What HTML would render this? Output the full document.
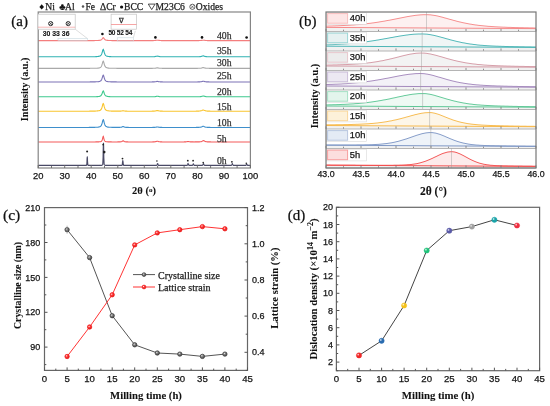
<!DOCTYPE html>
<html><head><meta charset="utf-8"><style>html,body{margin:0;padding:0;background:#fff;width:550px;height:406px;overflow:hidden}svg{display:block;will-change:transform}</style></head>
<body><svg width="550" height="406" viewBox="0 0 550 406">
<rect width="550" height="406" fill="#fff"/>
<path d="M38.2,40.6 L38.7,40.6 L39.2,40.6 L39.7,40.6 L40.2,40.6 L40.7,40.6 L41.2,40.6 L41.7,40.6 L42.2,40.6 L42.7,40.6 L43.2,40.6 L43.7,40.6 L44.2,40.6 L44.7,40.6 L45.2,40.6 L45.7,40.6 L46.2,40.6 L46.7,40.6 L47.2,40.6 L47.7,40.6 L48.2,40.6 L48.7,40.6 L49.2,40.6 L49.7,40.6 L50.2,40.6 L50.7,40.6 L51.2,40.6 L51.7,40.6 L52.2,40.6 L52.7,40.6 L53.2,40.6 L53.7,40.6 L54.2,40.6 L54.7,40.6 L55.2,40.6 L55.7,40.6 L56.2,40.6 L56.7,40.6 L57.2,40.6 L57.7,40.6 L58.2,40.6 L58.7,40.6 L59.2,40.6 L59.7,40.6 L60.2,40.6 L60.7,40.6 L61.2,40.6 L61.7,40.6 L62.2,40.6 L62.7,40.6 L63.2,40.6 L63.7,40.6 L64.2,40.6 L64.7,40.6 L65.2,40.6 L65.7,40.6 L66.2,40.6 L66.7,40.6 L67.2,40.6 L67.7,40.6 L68.2,40.6 L68.7,40.6 L69.2,40.6 L69.7,40.6 L70.2,40.6 L70.7,40.6 L71.2,40.6 L71.7,40.6 L72.2,40.6 L72.7,40.6 L73.2,40.6 L73.7,40.6 L74.2,40.6 L74.7,40.6 L75.2,40.6 L75.7,40.6 L76.2,40.6 L76.7,40.6 L77.2,40.6 L77.7,40.6 L78.2,40.6 L78.7,40.6 L79.2,40.6 L79.7,40.6 L80.2,40.6 L80.7,40.6 L81.2,40.6 L81.7,40.6 L82.2,40.6 L82.7,40.6 L83.2,40.6 L83.7,40.6 L84.2,40.6 L84.7,40.6 L85.2,40.6 L85.7,40.6 L86.2,40.6 L86.7,40.6 L87.2,40.6 L87.7,40.6 L88.2,40.6 L88.7,40.6 L89.2,40.6 L89.7,40.6 L90.2,40.6 L90.7,40.6 L91.2,40.6 L91.8,40.6 L92.3,40.6 L92.8,40.6 L93.3,40.6 L93.8,40.6 L94.3,40.6 L94.8,40.5 L95.3,40.5 L95.8,40.5 L96.3,40.5 L96.8,40.5 L97.3,40.5 L97.8,40.5 L98.3,40.5 L98.8,40.4 L99.3,40.4 L99.8,40.3 L100.3,40.2 L100.8,40.1 L101.3,39.8 L101.8,39.4 L102.3,38.7 L102.8,37.9 L103.3,37.6 L103.8,38.1 L104.3,38.9 L104.8,39.5 L105.3,39.9 L105.8,40.1 L106.3,40.3 L106.8,40.3 L107.3,40.4 L107.8,40.4 L108.3,40.5 L108.8,40.5 L109.3,40.5 L109.8,40.5 L110.3,40.5 L110.8,40.5 L111.3,40.5 L111.8,40.6 L112.3,40.6 L112.8,40.6 L113.3,40.6 L113.8,40.6 L114.3,40.6 L114.8,40.6 L115.3,40.6 L115.8,40.6 L116.3,40.6 L116.8,40.6 L117.3,40.6 L117.8,40.6 L118.3,40.6 L118.8,40.6 L119.3,40.6 L119.8,40.6 L120.3,40.6 L120.8,40.6 L121.3,40.6 L121.8,40.6 L122.3,40.6 L122.8,40.6 L123.3,40.6 L123.8,40.6 L124.3,40.6 L124.8,40.6 L125.3,40.6 L125.8,40.6 L126.3,40.6 L126.8,40.6 L127.3,40.6 L127.8,40.6 L128.3,40.6 L128.8,40.6 L129.3,40.6 L129.8,40.6 L130.3,40.6 L130.8,40.6 L131.3,40.6 L131.8,40.6 L132.3,40.6 L132.8,40.6 L133.3,40.6 L133.8,40.6 L134.3,40.6 L134.8,40.6 L135.3,40.6 L135.8,40.6 L136.3,40.6 L136.8,40.6 L137.3,40.6 L137.8,40.6 L138.3,40.6 L138.8,40.6 L139.3,40.6 L139.8,40.6 L140.3,40.6 L140.8,40.6 L141.3,40.6 L141.8,40.6 L142.3,40.6 L142.8,40.6 L143.3,40.6 L143.8,40.6 L144.3,40.6 L144.8,40.6 L145.3,40.6 L145.8,40.6 L146.3,40.6 L146.8,40.6 L147.3,40.6 L147.8,40.6 L148.3,40.6 L148.8,40.6 L149.3,40.6 L149.8,40.6 L150.3,40.6 L150.8,40.6 L151.3,40.6 L151.8,40.6 L152.3,40.6 L152.8,40.6 L153.3,40.6 L153.8,40.5 L154.3,40.5 L154.8,40.5 L155.3,40.4 L155.8,40.4 L156.3,40.3 L156.8,40.2 L157.3,40.2 L157.8,40.2 L158.3,40.3 L158.8,40.4 L159.3,40.4 L159.8,40.5 L160.3,40.5 L160.8,40.5 L161.3,40.6 L161.8,40.6 L162.3,40.6 L162.8,40.6 L163.3,40.6 L163.8,40.6 L164.3,40.6 L164.8,40.6 L165.3,40.6 L165.8,40.6 L166.3,40.6 L166.8,40.6 L167.3,40.6 L167.8,40.6 L168.3,40.6 L168.8,40.6 L169.3,40.6 L169.8,40.6 L170.3,40.6 L170.8,40.6 L171.3,40.6 L171.8,40.6 L172.3,40.6 L172.8,40.6 L173.3,40.6 L173.8,40.6 L174.3,40.6 L174.8,40.6 L175.3,40.6 L175.8,40.6 L176.3,40.6 L176.8,40.6 L177.3,40.6 L177.8,40.6 L178.3,40.6 L178.8,40.6 L179.3,40.6 L179.8,40.6 L180.3,40.6 L180.8,40.6 L181.3,40.6 L181.8,40.6 L182.3,40.6 L182.8,40.6 L183.3,40.6 L183.8,40.6 L184.3,40.6 L184.8,40.6 L185.3,40.6 L185.8,40.6 L186.3,40.6 L186.8,40.6 L187.3,40.6 L187.8,40.6 L188.3,40.6 L188.8,40.6 L189.3,40.6 L189.8,40.6 L190.3,40.6 L190.8,40.6 L191.3,40.6 L191.8,40.6 L192.3,40.6 L192.8,40.6 L193.3,40.6 L193.8,40.6 L194.3,40.6 L194.8,40.6 L195.3,40.6 L195.8,40.6 L196.3,40.6 L196.8,40.6 L197.4,40.6 L197.9,40.6 L198.4,40.6 L198.9,40.6 L199.4,40.5 L199.9,40.5 L200.4,40.5 L200.9,40.5 L201.4,40.4 L201.9,40.4 L202.4,40.3 L202.9,40.2 L203.4,40.2 L203.9,40.3 L204.4,40.3 L204.9,40.4 L205.4,40.5 L205.9,40.5 L206.4,40.5 L206.9,40.5 L207.4,40.6 L207.9,40.6 L208.4,40.6 L208.9,40.6 L209.4,40.6 L209.9,40.6 L210.4,40.6 L210.9,40.6 L211.4,40.6 L211.9,40.6 L212.4,40.6 L212.9,40.6 L213.4,40.6 L213.9,40.6 L214.4,40.6 L214.9,40.6 L215.4,40.6 L215.9,40.6 L216.4,40.6 L216.9,40.6 L217.4,40.6 L217.9,40.6 L218.4,40.6 L218.9,40.6 L219.4,40.6 L219.9,40.6 L220.4,40.6 L220.9,40.6 L221.4,40.6 L221.9,40.6 L222.4,40.6 L222.9,40.6 L223.4,40.6 L223.9,40.6 L224.4,40.6 L224.9,40.6 L225.4,40.6 L225.9,40.6 L226.4,40.6 L226.9,40.6 L227.4,40.6 L227.9,40.6 L228.4,40.6 L228.9,40.6 L229.4,40.6 L229.9,40.6 L230.4,40.6 L230.9,40.6 L231.4,40.6 L231.9,40.6 L232.4,40.6 L232.9,40.6 L233.4,40.6 L233.9,40.6 L234.4,40.6 L234.9,40.6 L235.4,40.6 L235.9,40.6 L236.4,40.6 L236.9,40.6 L237.4,40.6 L237.9,40.6 L238.4,40.6 L238.9,40.6 L239.4,40.6 L239.9,40.6 L240.4,40.6 L240.9,40.6 L241.4,40.6 L241.9,40.6 L242.4,40.6 L242.9,40.6 L243.4,40.6 L243.9,40.6 L244.4,40.6 L244.9,40.6 L245.4,40.6 L245.9,40.6 L246.4,40.6 L246.9,40.6 L247.4,40.6 L247.9,40.6 L248.4,40.6 L248.9,40.6 L249.4,40.6 L249.9,40.6 L250.4,40.6" fill="none" stroke="#f47e7e" stroke-width="1.1" stroke-linejoin="round"/>
<text x="217" y="39.4" style="font-family:'Liberation Serif',serif;font-size:9.7px;font-weight:normal" text-anchor="start" fill="#333" stroke="#333" stroke-width="0.25" >40h</text>
<path d="M38.2,56.8 L38.7,56.8 L39.2,56.8 L39.7,56.8 L40.2,56.8 L40.7,56.8 L41.2,56.8 L41.7,56.8 L42.2,56.8 L42.7,56.8 L43.2,56.8 L43.7,56.8 L44.2,56.8 L44.7,56.8 L45.2,56.8 L45.7,56.8 L46.2,56.8 L46.7,56.8 L47.2,56.8 L47.7,56.8 L48.2,56.8 L48.7,56.8 L49.2,56.8 L49.7,56.8 L50.2,56.8 L50.7,56.8 L51.2,56.8 L51.7,56.8 L52.2,56.8 L52.7,56.8 L53.2,56.8 L53.7,56.8 L54.2,56.8 L54.7,56.8 L55.2,56.8 L55.7,56.8 L56.2,56.8 L56.7,56.8 L57.2,56.8 L57.7,56.8 L58.2,56.8 L58.7,56.8 L59.2,56.8 L59.7,56.8 L60.2,56.8 L60.7,56.8 L61.2,56.8 L61.7,56.8 L62.2,56.8 L62.7,56.8 L63.2,56.8 L63.7,56.8 L64.2,56.8 L64.7,56.8 L65.2,56.8 L65.7,56.8 L66.2,56.8 L66.7,56.8 L67.2,56.8 L67.7,56.8 L68.2,56.8 L68.7,56.8 L69.2,56.8 L69.7,56.8 L70.2,56.8 L70.7,56.8 L71.2,56.8 L71.7,56.8 L72.2,56.8 L72.7,56.8 L73.2,56.8 L73.7,56.8 L74.2,56.8 L74.7,56.8 L75.2,56.8 L75.7,56.8 L76.2,56.8 L76.7,56.8 L77.2,56.8 L77.7,56.8 L78.2,56.8 L78.7,56.8 L79.2,56.8 L79.7,56.8 L80.2,56.8 L80.7,56.8 L81.2,56.8 L81.7,56.8 L82.2,56.8 L82.7,56.8 L83.2,56.8 L83.7,56.8 L84.2,56.8 L84.7,56.8 L85.2,56.8 L85.7,56.8 L86.2,56.8 L86.7,56.8 L87.2,56.8 L87.7,56.8 L88.2,56.8 L88.7,56.8 L89.2,56.8 L89.7,56.7 L90.2,56.7 L90.7,56.7 L91.2,56.7 L91.8,56.7 L92.3,56.7 L92.8,56.7 L93.3,56.7 L93.8,56.7 L94.3,56.7 L94.8,56.7 L95.3,56.7 L95.8,56.6 L96.3,56.6 L96.8,56.6 L97.3,56.5 L97.8,56.5 L98.3,56.4 L98.8,56.4 L99.3,56.3 L99.8,56.1 L100.3,55.9 L100.8,55.5 L101.3,54.8 L101.8,53.7 L102.3,52 L102.8,50 L103.3,49.2 L103.8,50.6 L104.3,52.6 L104.8,54.1 L105.3,55.1 L105.8,55.6 L106.3,55.9 L106.8,56.2 L107.3,56.3 L107.8,56.4 L108.3,56.5 L108.8,56.5 L109.3,56.6 L109.8,56.6 L110.3,56.6 L110.8,56.6 L111.3,56.7 L111.8,56.7 L112.3,56.7 L112.8,56.7 L113.3,56.7 L113.8,56.7 L114.3,56.7 L114.8,56.7 L115.3,56.7 L115.8,56.7 L116.3,56.7 L116.8,56.7 L117.3,56.8 L117.8,56.8 L118.3,56.8 L118.8,56.8 L119.3,56.8 L119.8,56.8 L120.3,56.8 L120.8,56.8 L121.3,56.8 L121.8,56.8 L122.3,56.8 L122.8,56.8 L123.3,56.8 L123.8,56.8 L124.3,56.8 L124.8,56.8 L125.3,56.8 L125.8,56.8 L126.3,56.8 L126.8,56.8 L127.3,56.8 L127.8,56.8 L128.3,56.8 L128.8,56.8 L129.3,56.8 L129.8,56.8 L130.3,56.8 L130.8,56.8 L131.3,56.8 L131.8,56.8 L132.3,56.8 L132.8,56.8 L133.3,56.8 L133.8,56.8 L134.3,56.8 L134.8,56.8 L135.3,56.8 L135.8,56.8 L136.3,56.8 L136.8,56.8 L137.3,56.8 L137.8,56.8 L138.3,56.8 L138.8,56.8 L139.3,56.8 L139.8,56.8 L140.3,56.8 L140.8,56.8 L141.3,56.8 L141.8,56.8 L142.3,56.8 L142.8,56.8 L143.3,56.8 L143.8,56.8 L144.3,56.8 L144.8,56.8 L145.3,56.8 L145.8,56.8 L146.3,56.8 L146.8,56.8 L147.3,56.8 L147.8,56.8 L148.3,56.8 L148.8,56.8 L149.3,56.8 L149.8,56.8 L150.3,56.8 L150.8,56.8 L151.3,56.8 L151.8,56.7 L152.3,56.7 L152.8,56.7 L153.3,56.7 L153.8,56.7 L154.3,56.7 L154.8,56.6 L155.3,56.5 L155.8,56.4 L156.3,56.3 L156.8,56.2 L157.3,56.1 L157.8,56.2 L158.3,56.3 L158.8,56.4 L159.3,56.5 L159.8,56.6 L160.3,56.7 L160.8,56.7 L161.3,56.7 L161.8,56.7 L162.3,56.7 L162.8,56.8 L163.3,56.8 L163.8,56.8 L164.3,56.8 L164.8,56.8 L165.3,56.8 L165.8,56.8 L166.3,56.8 L166.8,56.8 L167.3,56.8 L167.8,56.8 L168.3,56.8 L168.8,56.8 L169.3,56.8 L169.8,56.8 L170.3,56.8 L170.8,56.8 L171.3,56.8 L171.8,56.8 L172.3,56.8 L172.8,56.8 L173.3,56.8 L173.8,56.8 L174.3,56.8 L174.8,56.8 L175.3,56.8 L175.8,56.8 L176.3,56.8 L176.8,56.8 L177.3,56.8 L177.8,56.8 L178.3,56.8 L178.8,56.8 L179.3,56.8 L179.8,56.8 L180.3,56.8 L180.8,56.8 L181.3,56.8 L181.8,56.8 L182.3,56.8 L182.8,56.8 L183.3,56.8 L183.8,56.8 L184.3,56.8 L184.8,56.8 L185.3,56.8 L185.8,56.8 L186.3,56.8 L186.8,56.8 L187.3,56.8 L187.8,56.8 L188.3,56.8 L188.8,56.8 L189.3,56.8 L189.8,56.8 L190.3,56.8 L190.8,56.8 L191.3,56.8 L191.8,56.8 L192.3,56.8 L192.8,56.8 L193.3,56.8 L193.8,56.8 L194.3,56.8 L194.8,56.8 L195.3,56.8 L195.8,56.8 L196.3,56.8 L196.8,56.8 L197.4,56.7 L197.9,56.7 L198.4,56.7 L198.9,56.7 L199.4,56.7 L199.9,56.6 L200.4,56.6 L200.9,56.5 L201.4,56.4 L201.9,56.3 L202.4,56.1 L202.9,55.9 L203.4,55.9 L203.9,56 L204.4,56.2 L204.9,56.4 L205.4,56.5 L205.9,56.6 L206.4,56.6 L206.9,56.7 L207.4,56.7 L207.9,56.7 L208.4,56.7 L208.9,56.7 L209.4,56.8 L209.9,56.8 L210.4,56.8 L210.9,56.8 L211.4,56.8 L211.9,56.8 L212.4,56.8 L212.9,56.8 L213.4,56.8 L213.9,56.8 L214.4,56.8 L214.9,56.8 L215.4,56.8 L215.9,56.8 L216.4,56.8 L216.9,56.8 L217.4,56.8 L217.9,56.8 L218.4,56.8 L218.9,56.8 L219.4,56.8 L219.9,56.8 L220.4,56.8 L220.9,56.8 L221.4,56.8 L221.9,56.8 L222.4,56.8 L222.9,56.8 L223.4,56.8 L223.9,56.8 L224.4,56.8 L224.9,56.8 L225.4,56.8 L225.9,56.8 L226.4,56.8 L226.9,56.8 L227.4,56.8 L227.9,56.8 L228.4,56.8 L228.9,56.8 L229.4,56.8 L229.9,56.8 L230.4,56.8 L230.9,56.8 L231.4,56.8 L231.9,56.8 L232.4,56.8 L232.9,56.8 L233.4,56.8 L233.9,56.8 L234.4,56.8 L234.9,56.8 L235.4,56.8 L235.9,56.8 L236.4,56.8 L236.9,56.8 L237.4,56.8 L237.9,56.8 L238.4,56.8 L238.9,56.8 L239.4,56.8 L239.9,56.8 L240.4,56.8 L240.9,56.8 L241.4,56.8 L241.9,56.8 L242.4,56.8 L242.9,56.8 L243.4,56.8 L243.9,56.8 L244.4,56.8 L244.9,56.8 L245.4,56.8 L245.9,56.8 L246.4,56.8 L246.9,56.8 L247.4,56.8 L247.9,56.8 L248.4,56.8 L248.9,56.8 L249.4,56.8 L249.9,56.8 L250.4,56.8" fill="none" stroke="#30b3b3" stroke-width="1.1" stroke-linejoin="round"/>
<text x="217" y="53.6" style="font-family:'Liberation Serif',serif;font-size:9.7px;font-weight:normal" text-anchor="start" fill="#333" stroke="#333" stroke-width="0.25" >35h</text>
<path d="M38.2,68.4 L38.7,68.4 L39.2,68.4 L39.7,68.4 L40.2,68.4 L40.7,68.4 L41.2,68.4 L41.7,68.4 L42.2,68.4 L42.7,68.4 L43.2,68.4 L43.7,68.4 L44.2,68.4 L44.7,68.4 L45.2,68.4 L45.7,68.4 L46.2,68.4 L46.7,68.4 L47.2,68.4 L47.7,68.4 L48.2,68.4 L48.7,68.4 L49.2,68.4 L49.7,68.4 L50.2,68.4 L50.7,68.4 L51.2,68.4 L51.7,68.4 L52.2,68.4 L52.7,68.4 L53.2,68.4 L53.7,68.4 L54.2,68.4 L54.7,68.4 L55.2,68.4 L55.7,68.4 L56.2,68.4 L56.7,68.4 L57.2,68.4 L57.7,68.4 L58.2,68.4 L58.7,68.4 L59.2,68.4 L59.7,68.4 L60.2,68.4 L60.7,68.4 L61.2,68.4 L61.7,68.4 L62.2,68.4 L62.7,68.4 L63.2,68.4 L63.7,68.4 L64.2,68.4 L64.7,68.4 L65.2,68.4 L65.7,68.4 L66.2,68.4 L66.7,68.4 L67.2,68.4 L67.7,68.4 L68.2,68.4 L68.7,68.4 L69.2,68.4 L69.7,68.4 L70.2,68.4 L70.7,68.4 L71.2,68.4 L71.7,68.4 L72.2,68.4 L72.7,68.4 L73.2,68.4 L73.7,68.4 L74.2,68.4 L74.7,68.4 L75.2,68.4 L75.7,68.4 L76.2,68.4 L76.7,68.4 L77.2,68.4 L77.7,68.4 L78.2,68.4 L78.7,68.4 L79.2,68.4 L79.7,68.4 L80.2,68.4 L80.7,68.4 L81.2,68.4 L81.7,68.4 L82.2,68.4 L82.7,68.4 L83.2,68.4 L83.7,68.4 L84.2,68.4 L84.7,68.4 L85.2,68.4 L85.7,68.4 L86.2,68.4 L86.7,68.4 L87.2,68.4 L87.7,68.4 L88.2,68.4 L88.7,68.4 L89.2,68.4 L89.7,68.4 L90.2,68.3 L90.7,68.3 L91.2,68.3 L91.8,68.3 L92.3,68.3 L92.8,68.3 L93.3,68.3 L93.8,68.3 L94.3,68.3 L94.8,68.3 L95.3,68.3 L95.8,68.2 L96.3,68.2 L96.8,68.2 L97.3,68.2 L97.8,68.1 L98.3,68.1 L98.8,68 L99.3,67.9 L99.8,67.7 L100.3,67.5 L100.8,67.1 L101.3,66.5 L101.8,65.4 L102.3,63.7 L102.8,61.8 L103.3,61 L103.8,62.4 L104.3,64.3 L104.8,65.8 L105.3,66.7 L105.8,67.2 L106.3,67.6 L106.8,67.8 L107.3,67.9 L107.8,68 L108.3,68.1 L108.8,68.1 L109.3,68.2 L109.8,68.2 L110.3,68.2 L110.8,68.2 L111.3,68.3 L111.8,68.3 L112.3,68.3 L112.8,68.3 L113.3,68.3 L113.8,68.3 L114.3,68.3 L114.8,68.3 L115.3,68.3 L115.8,68.3 L116.3,68.3 L116.8,68.4 L117.3,68.4 L117.8,68.4 L118.3,68.4 L118.8,68.4 L119.3,68.4 L119.8,68.4 L120.3,68.4 L120.8,68.4 L121.3,68.4 L121.8,68.4 L122.3,68.4 L122.8,68.4 L123.3,68.4 L123.8,68.4 L124.3,68.4 L124.8,68.4 L125.3,68.4 L125.8,68.4 L126.3,68.4 L126.8,68.4 L127.3,68.4 L127.8,68.4 L128.3,68.4 L128.8,68.4 L129.3,68.4 L129.8,68.4 L130.3,68.4 L130.8,68.4 L131.3,68.4 L131.8,68.4 L132.3,68.4 L132.8,68.4 L133.3,68.4 L133.8,68.4 L134.3,68.4 L134.8,68.4 L135.3,68.4 L135.8,68.4 L136.3,68.4 L136.8,68.4 L137.3,68.4 L137.8,68.4 L138.3,68.4 L138.8,68.4 L139.3,68.4 L139.8,68.4 L140.3,68.4 L140.8,68.4 L141.3,68.4 L141.8,68.4 L142.3,68.4 L142.8,68.4 L143.3,68.4 L143.8,68.4 L144.3,68.4 L144.8,68.4 L145.3,68.4 L145.8,68.4 L146.3,68.4 L146.8,68.4 L147.3,68.4 L147.8,68.4 L148.3,68.4 L148.8,68.4 L149.3,68.4 L149.8,68.4 L150.3,68.4 L150.8,68.4 L151.3,68.4 L151.8,68.4 L152.3,68.4 L152.8,68.3 L153.3,68.3 L153.8,68.3 L154.3,68.3 L154.8,68.3 L155.3,68.2 L155.8,68.1 L156.3,68 L156.8,67.9 L157.3,67.9 L157.8,67.9 L158.3,68 L158.8,68.1 L159.3,68.2 L159.8,68.3 L160.3,68.3 L160.8,68.3 L161.3,68.3 L161.8,68.3 L162.3,68.4 L162.8,68.4 L163.3,68.4 L163.8,68.4 L164.3,68.4 L164.8,68.4 L165.3,68.4 L165.8,68.4 L166.3,68.4 L166.8,68.4 L167.3,68.4 L167.8,68.4 L168.3,68.4 L168.8,68.4 L169.3,68.4 L169.8,68.4 L170.3,68.4 L170.8,68.4 L171.3,68.4 L171.8,68.4 L172.3,68.4 L172.8,68.4 L173.3,68.4 L173.8,68.4 L174.3,68.4 L174.8,68.4 L175.3,68.4 L175.8,68.4 L176.3,68.4 L176.8,68.4 L177.3,68.4 L177.8,68.4 L178.3,68.4 L178.8,68.4 L179.3,68.4 L179.8,68.4 L180.3,68.4 L180.8,68.4 L181.3,68.4 L181.8,68.4 L182.3,68.4 L182.8,68.4 L183.3,68.4 L183.8,68.4 L184.3,68.4 L184.8,68.4 L185.3,68.4 L185.8,68.4 L186.3,68.4 L186.8,68.4 L187.3,68.4 L187.8,68.4 L188.3,68.4 L188.8,68.4 L189.3,68.4 L189.8,68.4 L190.3,68.4 L190.8,68.4 L191.3,68.4 L191.8,68.4 L192.3,68.4 L192.8,68.4 L193.3,68.4 L193.8,68.4 L194.3,68.4 L194.8,68.4 L195.3,68.4 L195.8,68.4 L196.3,68.4 L196.8,68.4 L197.4,68.4 L197.9,68.3 L198.4,68.3 L198.9,68.3 L199.4,68.3 L199.9,68.3 L200.4,68.2 L200.9,68.2 L201.4,68.1 L201.9,67.9 L202.4,67.8 L202.9,67.6 L203.4,67.6 L203.9,67.7 L204.4,67.9 L204.9,68 L205.4,68.1 L205.9,68.2 L206.4,68.3 L206.9,68.3 L207.4,68.3 L207.9,68.3 L208.4,68.3 L208.9,68.3 L209.4,68.4 L209.9,68.4 L210.4,68.4 L210.9,68.4 L211.4,68.4 L211.9,68.4 L212.4,68.4 L212.9,68.4 L213.4,68.4 L213.9,68.4 L214.4,68.4 L214.9,68.4 L215.4,68.4 L215.9,68.4 L216.4,68.4 L216.9,68.4 L217.4,68.4 L217.9,68.4 L218.4,68.4 L218.9,68.4 L219.4,68.4 L219.9,68.4 L220.4,68.4 L220.9,68.4 L221.4,68.4 L221.9,68.4 L222.4,68.4 L222.9,68.4 L223.4,68.4 L223.9,68.4 L224.4,68.4 L224.9,68.4 L225.4,68.4 L225.9,68.4 L226.4,68.4 L226.9,68.4 L227.4,68.4 L227.9,68.4 L228.4,68.4 L228.9,68.4 L229.4,68.4 L229.9,68.4 L230.4,68.4 L230.9,68.4 L231.4,68.4 L231.9,68.4 L232.4,68.4 L232.9,68.4 L233.4,68.4 L233.9,68.4 L234.4,68.4 L234.9,68.4 L235.4,68.4 L235.9,68.4 L236.4,68.4 L236.9,68.4 L237.4,68.4 L237.9,68.4 L238.4,68.4 L238.9,68.4 L239.4,68.4 L239.9,68.4 L240.4,68.4 L240.9,68.4 L241.4,68.4 L241.9,68.4 L242.4,68.4 L242.9,68.4 L243.4,68.4 L243.9,68.4 L244.4,68.4 L244.9,68.4 L245.4,68.4 L245.9,68.4 L246.4,68.4 L246.9,68.4 L247.4,68.4 L247.9,68.4 L248.4,68.4 L248.9,68.4 L249.4,68.4 L249.9,68.4 L250.4,68.4" fill="none" stroke="#a9a9a9" stroke-width="1.1" stroke-linejoin="round"/>
<text x="217" y="66.3" style="font-family:'Liberation Serif',serif;font-size:9.7px;font-weight:normal" text-anchor="start" fill="#333" stroke="#333" stroke-width="0.25" >30h</text>
<path d="M38.2,82 L38.7,82 L39.2,82 L39.7,82 L40.2,82 L40.7,82 L41.2,82 L41.7,82 L42.2,82 L42.7,82 L43.2,82 L43.7,82 L44.2,82 L44.7,82 L45.2,82 L45.7,82 L46.2,82 L46.7,82 L47.2,82 L47.7,82 L48.2,82 L48.7,82 L49.2,82 L49.7,82 L50.2,82 L50.7,82 L51.2,82 L51.7,82 L52.2,82 L52.7,82 L53.2,82 L53.7,82 L54.2,82 L54.7,82 L55.2,82 L55.7,82 L56.2,82 L56.7,82 L57.2,82 L57.7,82 L58.2,82 L58.7,82 L59.2,82 L59.7,82 L60.2,82 L60.7,82 L61.2,82 L61.7,82 L62.2,82 L62.7,82 L63.2,82 L63.7,82 L64.2,82 L64.7,82 L65.2,82 L65.7,82 L66.2,82 L66.7,82 L67.2,82 L67.7,82 L68.2,82 L68.7,82 L69.2,82 L69.7,82 L70.2,82 L70.7,82 L71.2,82 L71.7,82 L72.2,82 L72.7,82 L73.2,82 L73.7,82 L74.2,82 L74.7,82 L75.2,82 L75.7,82 L76.2,82 L76.7,82 L77.2,82 L77.7,82 L78.2,82 L78.7,82 L79.2,82 L79.7,82 L80.2,82 L80.7,82 L81.2,82 L81.7,82 L82.2,82 L82.7,82 L83.2,82 L83.7,82 L84.2,82 L84.7,82 L85.2,82 L85.7,82 L86.2,82 L86.7,82 L87.2,82 L87.7,82 L88.2,82 L88.7,82 L89.2,82 L89.7,82 L90.2,81.9 L90.7,81.9 L91.2,81.9 L91.8,81.9 L92.3,81.9 L92.8,81.9 L93.3,81.9 L93.8,81.9 L94.3,81.9 L94.8,81.9 L95.3,81.9 L95.8,81.8 L96.3,81.8 L96.8,81.8 L97.3,81.8 L97.8,81.7 L98.3,81.7 L98.8,81.6 L99.3,81.5 L99.8,81.4 L100.3,81.1 L100.8,80.8 L101.3,80.2 L101.8,79.2 L102.3,77.6 L102.8,75.8 L103.3,75 L103.8,76.3 L104.3,78.1 L104.8,79.5 L105.3,80.4 L105.8,80.9 L106.3,81.2 L106.8,81.4 L107.3,81.5 L107.8,81.6 L108.3,81.7 L108.8,81.7 L109.3,81.8 L109.8,81.8 L110.3,81.8 L110.8,81.9 L111.3,81.9 L111.8,81.9 L112.3,81.9 L112.8,81.9 L113.3,81.9 L113.8,81.9 L114.3,81.9 L114.8,81.9 L115.3,81.9 L115.8,81.9 L116.3,81.9 L116.8,82 L117.3,82 L117.8,82 L118.3,82 L118.8,82 L119.3,82 L119.8,82 L120.3,82 L120.8,82 L121.3,82 L121.8,82 L122.3,82 L122.8,82 L123.3,82 L123.8,82 L124.3,82 L124.8,82 L125.3,82 L125.8,82 L126.3,82 L126.8,82 L127.3,82 L127.8,82 L128.3,82 L128.8,82 L129.3,82 L129.8,82 L130.3,82 L130.8,82 L131.3,82 L131.8,82 L132.3,82 L132.8,82 L133.3,82 L133.8,82 L134.3,82 L134.8,82 L135.3,82 L135.8,82 L136.3,82 L136.8,82 L137.3,82 L137.8,82 L138.3,82 L138.8,82 L139.3,82 L139.8,82 L140.3,82 L140.8,82 L141.3,82 L141.8,82 L142.3,82 L142.8,82 L143.3,82 L143.8,82 L144.3,82 L144.8,82 L145.3,82 L145.8,82 L146.3,82 L146.8,82 L147.3,82 L147.8,82 L148.3,82 L148.8,82 L149.3,82 L149.8,82 L150.3,82 L150.8,82 L151.3,82 L151.8,82 L152.3,81.9 L152.8,81.9 L153.3,81.9 L153.8,81.9 L154.3,81.9 L154.8,81.8 L155.3,81.8 L155.8,81.7 L156.3,81.6 L156.8,81.4 L157.3,81.4 L157.8,81.5 L158.3,81.6 L158.8,81.7 L159.3,81.8 L159.8,81.8 L160.3,81.9 L160.8,81.9 L161.3,81.9 L161.8,81.9 L162.3,81.9 L162.8,82 L163.3,82 L163.8,82 L164.3,82 L164.8,82 L165.3,82 L165.8,82 L166.3,82 L166.8,82 L167.3,82 L167.8,82 L168.3,82 L168.8,82 L169.3,82 L169.8,82 L170.3,82 L170.8,82 L171.3,82 L171.8,82 L172.3,82 L172.8,82 L173.3,82 L173.8,82 L174.3,82 L174.8,82 L175.3,82 L175.8,82 L176.3,82 L176.8,82 L177.3,82 L177.8,82 L178.3,82 L178.8,82 L179.3,82 L179.8,82 L180.3,82 L180.8,82 L181.3,82 L181.8,82 L182.3,82 L182.8,82 L183.3,82 L183.8,82 L184.3,82 L184.8,82 L185.3,82 L185.8,82 L186.3,82 L186.8,82 L187.3,82 L187.8,82 L188.3,82 L188.8,82 L189.3,82 L189.8,82 L190.3,82 L190.8,82 L191.3,82 L191.8,82 L192.3,82 L192.8,82 L193.3,82 L193.8,82 L194.3,82 L194.8,82 L195.3,82 L195.8,82 L196.3,82 L196.8,82 L197.4,82 L197.9,81.9 L198.4,81.9 L198.9,81.9 L199.4,81.9 L199.9,81.9 L200.4,81.8 L200.9,81.8 L201.4,81.7 L201.9,81.5 L202.4,81.4 L202.9,81.2 L203.4,81.2 L203.9,81.3 L204.4,81.5 L204.9,81.6 L205.4,81.7 L205.9,81.8 L206.4,81.9 L206.9,81.9 L207.4,81.9 L207.9,81.9 L208.4,81.9 L208.9,81.9 L209.4,82 L209.9,82 L210.4,82 L210.9,82 L211.4,82 L211.9,82 L212.4,82 L212.9,82 L213.4,82 L213.9,82 L214.4,82 L214.9,82 L215.4,82 L215.9,82 L216.4,82 L216.9,82 L217.4,82 L217.9,82 L218.4,82 L218.9,82 L219.4,82 L219.9,82 L220.4,82 L220.9,82 L221.4,82 L221.9,82 L222.4,82 L222.9,82 L223.4,82 L223.9,82 L224.4,82 L224.9,82 L225.4,82 L225.9,82 L226.4,82 L226.9,82 L227.4,82 L227.9,82 L228.4,82 L228.9,82 L229.4,82 L229.9,82 L230.4,82 L230.9,82 L231.4,82 L231.9,82 L232.4,82 L232.9,82 L233.4,82 L233.9,82 L234.4,82 L234.9,82 L235.4,82 L235.9,82 L236.4,82 L236.9,82 L237.4,82 L237.9,82 L238.4,82 L238.9,82 L239.4,82 L239.9,82 L240.4,82 L240.9,82 L241.4,82 L241.9,82 L242.4,82 L242.9,82 L243.4,82 L243.9,82 L244.4,82 L244.9,82 L245.4,82 L245.9,82 L246.4,82 L246.9,82 L247.4,82 L247.9,82 L248.4,82 L248.9,82 L249.4,82 L249.9,82 L250.4,82" fill="none" stroke="#7c73b6" stroke-width="1.1" stroke-linejoin="round"/>
<text x="217" y="79.4" style="font-family:'Liberation Serif',serif;font-size:9.7px;font-weight:normal" text-anchor="start" fill="#333" stroke="#333" stroke-width="0.25" >25h</text>
<path d="M38.2,96.8 L38.7,96.8 L39.2,96.8 L39.7,96.8 L40.2,96.8 L40.7,96.8 L41.2,96.8 L41.7,96.8 L42.2,96.8 L42.7,96.8 L43.2,96.8 L43.7,96.8 L44.2,96.8 L44.7,96.8 L45.2,96.8 L45.7,96.8 L46.2,96.8 L46.7,96.8 L47.2,96.8 L47.7,96.8 L48.2,96.8 L48.7,96.8 L49.2,96.8 L49.7,96.8 L50.2,96.8 L50.7,96.8 L51.2,96.8 L51.7,96.8 L52.2,96.8 L52.7,96.8 L53.2,96.8 L53.7,96.8 L54.2,96.8 L54.7,96.8 L55.2,96.8 L55.7,96.8 L56.2,96.8 L56.7,96.8 L57.2,96.8 L57.7,96.8 L58.2,96.8 L58.7,96.8 L59.2,96.8 L59.7,96.8 L60.2,96.8 L60.7,96.8 L61.2,96.8 L61.7,96.8 L62.2,96.8 L62.7,96.8 L63.2,96.8 L63.7,96.8 L64.2,96.8 L64.7,96.8 L65.2,96.8 L65.7,96.8 L66.2,96.8 L66.7,96.8 L67.2,96.8 L67.7,96.8 L68.2,96.8 L68.7,96.8 L69.2,96.8 L69.7,96.8 L70.2,96.8 L70.7,96.8 L71.2,96.8 L71.7,96.8 L72.2,96.8 L72.7,96.8 L73.2,96.8 L73.7,96.8 L74.2,96.8 L74.7,96.8 L75.2,96.8 L75.7,96.8 L76.2,96.8 L76.7,96.8 L77.2,96.8 L77.7,96.8 L78.2,96.8 L78.7,96.8 L79.2,96.8 L79.7,96.8 L80.2,96.8 L80.7,96.8 L81.2,96.8 L81.7,96.8 L82.2,96.8 L82.7,96.8 L83.2,96.8 L83.7,96.8 L84.2,96.8 L84.7,96.8 L85.2,96.8 L85.7,96.8 L86.2,96.8 L86.7,96.8 L87.2,96.8 L87.7,96.8 L88.2,96.8 L88.7,96.8 L89.2,96.8 L89.7,96.8 L90.2,96.8 L90.7,96.8 L91.2,96.7 L91.8,96.7 L92.3,96.7 L92.8,96.7 L93.3,96.7 L93.8,96.7 L94.3,96.7 L94.8,96.7 L95.3,96.7 L95.8,96.7 L96.3,96.7 L96.8,96.6 L97.3,96.6 L97.8,96.6 L98.3,96.5 L98.8,96.5 L99.3,96.4 L99.8,96.2 L100.3,96.1 L100.8,95.8 L101.3,95.2 L101.8,94.4 L102.3,93 L102.8,91.5 L103.3,90.8 L103.8,91.9 L104.3,93.5 L104.8,94.7 L105.3,95.4 L105.8,95.9 L106.3,96.1 L106.8,96.3 L107.3,96.4 L107.8,96.5 L108.3,96.5 L108.8,96.6 L109.3,96.6 L109.8,96.6 L110.3,96.7 L110.8,96.7 L111.3,96.7 L111.8,96.7 L112.3,96.7 L112.8,96.7 L113.3,96.7 L113.8,96.7 L114.3,96.7 L114.8,96.7 L115.3,96.7 L115.8,96.8 L116.3,96.8 L116.8,96.8 L117.3,96.8 L117.8,96.8 L118.3,96.8 L118.8,96.8 L119.3,96.8 L119.8,96.8 L120.3,96.8 L120.8,96.8 L121.3,96.8 L121.8,96.8 L122.3,96.8 L122.8,96.8 L123.3,96.8 L123.8,96.8 L124.3,96.8 L124.8,96.8 L125.3,96.8 L125.8,96.8 L126.3,96.8 L126.8,96.8 L127.3,96.8 L127.8,96.8 L128.3,96.8 L128.8,96.8 L129.3,96.8 L129.8,96.8 L130.3,96.8 L130.8,96.8 L131.3,96.8 L131.8,96.8 L132.3,96.8 L132.8,96.8 L133.3,96.8 L133.8,96.8 L134.3,96.8 L134.8,96.8 L135.3,96.8 L135.8,96.8 L136.3,96.8 L136.8,96.8 L137.3,96.8 L137.8,96.8 L138.3,96.8 L138.8,96.8 L139.3,96.8 L139.8,96.8 L140.3,96.8 L140.8,96.8 L141.3,96.8 L141.8,96.8 L142.3,96.8 L142.8,96.8 L143.3,96.8 L143.8,96.8 L144.3,96.8 L144.8,96.8 L145.3,96.8 L145.8,96.8 L146.3,96.8 L146.8,96.8 L147.3,96.8 L147.8,96.8 L148.3,96.8 L148.8,96.8 L149.3,96.8 L149.8,96.8 L150.3,96.8 L150.8,96.8 L151.3,96.8 L151.8,96.8 L152.3,96.8 L152.8,96.7 L153.3,96.7 L153.8,96.7 L154.3,96.7 L154.8,96.7 L155.3,96.6 L155.8,96.5 L156.3,96.4 L156.8,96.3 L157.3,96.3 L157.8,96.3 L158.3,96.4 L158.8,96.5 L159.3,96.6 L159.8,96.7 L160.3,96.7 L160.8,96.7 L161.3,96.7 L161.8,96.7 L162.3,96.8 L162.8,96.8 L163.3,96.8 L163.8,96.8 L164.3,96.8 L164.8,96.8 L165.3,96.8 L165.8,96.8 L166.3,96.8 L166.8,96.8 L167.3,96.8 L167.8,96.8 L168.3,96.8 L168.8,96.8 L169.3,96.8 L169.8,96.8 L170.3,96.8 L170.8,96.8 L171.3,96.8 L171.8,96.8 L172.3,96.8 L172.8,96.8 L173.3,96.8 L173.8,96.8 L174.3,96.8 L174.8,96.8 L175.3,96.8 L175.8,96.8 L176.3,96.8 L176.8,96.8 L177.3,96.8 L177.8,96.8 L178.3,96.8 L178.8,96.8 L179.3,96.8 L179.8,96.8 L180.3,96.8 L180.8,96.8 L181.3,96.8 L181.8,96.8 L182.3,96.8 L182.8,96.8 L183.3,96.8 L183.8,96.8 L184.3,96.8 L184.8,96.8 L185.3,96.8 L185.8,96.8 L186.3,96.8 L186.8,96.8 L187.3,96.8 L187.8,96.8 L188.3,96.8 L188.8,96.8 L189.3,96.8 L189.8,96.8 L190.3,96.8 L190.8,96.8 L191.3,96.8 L191.8,96.8 L192.3,96.8 L192.8,96.8 L193.3,96.8 L193.8,96.8 L194.3,96.8 L194.8,96.8 L195.3,96.8 L195.8,96.8 L196.3,96.8 L196.8,96.8 L197.4,96.8 L197.9,96.7 L198.4,96.7 L198.9,96.7 L199.4,96.7 L199.9,96.7 L200.4,96.6 L200.9,96.6 L201.4,96.5 L201.9,96.3 L202.4,96.2 L202.9,96 L203.4,96 L203.9,96.1 L204.4,96.3 L204.9,96.4 L205.4,96.5 L205.9,96.6 L206.4,96.7 L206.9,96.7 L207.4,96.7 L207.9,96.7 L208.4,96.7 L208.9,96.7 L209.4,96.8 L209.9,96.8 L210.4,96.8 L210.9,96.8 L211.4,96.8 L211.9,96.8 L212.4,96.8 L212.9,96.8 L213.4,96.8 L213.9,96.8 L214.4,96.8 L214.9,96.8 L215.4,96.8 L215.9,96.8 L216.4,96.8 L216.9,96.8 L217.4,96.8 L217.9,96.8 L218.4,96.8 L218.9,96.8 L219.4,96.8 L219.9,96.8 L220.4,96.8 L220.9,96.8 L221.4,96.8 L221.9,96.8 L222.4,96.8 L222.9,96.8 L223.4,96.8 L223.9,96.8 L224.4,96.8 L224.9,96.8 L225.4,96.8 L225.9,96.8 L226.4,96.8 L226.9,96.8 L227.4,96.8 L227.9,96.8 L228.4,96.8 L228.9,96.8 L229.4,96.8 L229.9,96.8 L230.4,96.8 L230.9,96.8 L231.4,96.8 L231.9,96.8 L232.4,96.8 L232.9,96.8 L233.4,96.8 L233.9,96.8 L234.4,96.8 L234.9,96.8 L235.4,96.8 L235.9,96.8 L236.4,96.8 L236.9,96.8 L237.4,96.8 L237.9,96.8 L238.4,96.8 L238.9,96.8 L239.4,96.8 L239.9,96.8 L240.4,96.8 L240.9,96.8 L241.4,96.8 L241.9,96.8 L242.4,96.8 L242.9,96.8 L243.4,96.8 L243.9,96.8 L244.4,96.8 L244.9,96.8 L245.4,96.8 L245.9,96.8 L246.4,96.8 L246.9,96.8 L247.4,96.8 L247.9,96.8 L248.4,96.8 L248.9,96.8 L249.4,96.8 L249.9,96.8 L250.4,96.8" fill="none" stroke="#3fc98e" stroke-width="1.1" stroke-linejoin="round"/>
<text x="217" y="94.6" style="font-family:'Liberation Serif',serif;font-size:9.7px;font-weight:normal" text-anchor="start" fill="#333" stroke="#333" stroke-width="0.25" >20h</text>
<path d="M38.2,111.2 L38.7,111.2 L39.2,111.2 L39.7,111.2 L40.2,111.2 L40.7,111.2 L41.2,111.2 L41.7,111.2 L42.2,111.2 L42.7,111.2 L43.2,111.2 L43.7,111.2 L44.2,111.2 L44.7,111.2 L45.2,111.2 L45.7,111.2 L46.2,111.2 L46.7,111.2 L47.2,111.2 L47.7,111.2 L48.2,111.2 L48.7,111.2 L49.2,111.2 L49.7,111.2 L50.2,111.2 L50.7,111.2 L51.2,111.2 L51.7,111.2 L52.2,111.2 L52.7,111.2 L53.2,111.2 L53.7,111.2 L54.2,111.2 L54.7,111.2 L55.2,111.2 L55.7,111.2 L56.2,111.2 L56.7,111.2 L57.2,111.2 L57.7,111.2 L58.2,111.2 L58.7,111.2 L59.2,111.2 L59.7,111.2 L60.2,111.2 L60.7,111.2 L61.2,111.2 L61.7,111.2 L62.2,111.2 L62.7,111.2 L63.2,111.2 L63.7,111.2 L64.2,111.2 L64.7,111.2 L65.2,111.2 L65.7,111.2 L66.2,111.2 L66.7,111.2 L67.2,111.2 L67.7,111.2 L68.2,111.2 L68.7,111.2 L69.2,111.2 L69.7,111.2 L70.2,111.2 L70.7,111.2 L71.2,111.2 L71.7,111.2 L72.2,111.2 L72.7,111.2 L73.2,111.2 L73.7,111.2 L74.2,111.2 L74.7,111.2 L75.2,111.2 L75.7,111.2 L76.2,111.2 L76.7,111.2 L77.2,111.2 L77.7,111.2 L78.2,111.2 L78.7,111.2 L79.2,111.2 L79.7,111.2 L80.2,111.2 L80.7,111.2 L81.2,111.2 L81.7,111.2 L82.2,111.2 L82.7,111.2 L83.2,111.2 L83.7,111.2 L84.2,111.2 L84.7,111.2 L85.2,111.2 L85.7,111.2 L86.2,111.2 L86.7,111.2 L87.2,111.2 L87.7,111.2 L88.2,111.2 L88.7,111.2 L89.2,111.2 L89.7,111.1 L90.2,111.1 L90.7,111.1 L91.2,111.1 L91.8,111.1 L92.3,111.1 L92.8,111.1 L93.3,111.1 L93.8,111.1 L94.3,111.1 L94.8,111.1 L95.3,111.1 L95.8,111 L96.3,111 L96.8,111 L97.3,110.9 L97.8,110.9 L98.3,110.8 L98.8,110.7 L99.3,110.6 L99.8,110.5 L100.3,110.2 L100.8,109.8 L101.3,109.2 L101.8,108 L102.3,106.3 L102.8,104.2 L103.3,103.4 L103.8,104.8 L104.3,106.9 L104.8,108.4 L105.3,109.4 L105.8,110 L106.3,110.3 L106.8,110.5 L107.3,110.7 L107.8,110.8 L108.3,110.8 L108.8,110.9 L109.3,111 L109.8,111 L110.3,111 L110.8,111 L111.3,111.1 L111.8,111.1 L112.3,111.1 L112.8,111.1 L113.3,111.1 L113.8,111.1 L114.3,111.1 L114.8,111.1 L115.3,111.1 L115.8,111.1 L116.3,111.1 L116.8,111.1 L117.3,111.1 L117.8,111.1 L118.3,111.1 L118.8,111.1 L119.3,111.1 L119.8,111.1 L120.3,111.1 L120.8,111.1 L121.3,111 L121.8,111 L122.3,110.9 L122.8,110.8 L123.3,110.8 L123.8,110.9 L124.3,111 L124.8,111 L125.3,111.1 L125.8,111.1 L126.3,111.1 L126.8,111.1 L127.3,111.2 L127.8,111.2 L128.3,111.2 L128.8,111.2 L129.3,111.2 L129.8,111.2 L130.3,111.2 L130.8,111.2 L131.3,111.2 L131.8,111.2 L132.3,111.2 L132.8,111.2 L133.3,111.2 L133.8,111.2 L134.3,111.2 L134.8,111.2 L135.3,111.2 L135.8,111.2 L136.3,111.2 L136.8,111.2 L137.3,111.2 L137.8,111.2 L138.3,111.2 L138.8,111.2 L139.3,111.2 L139.8,111.2 L140.3,111.2 L140.8,111.2 L141.3,111.2 L141.8,111.2 L142.3,111.2 L142.8,111.2 L143.3,111.2 L143.8,111.2 L144.3,111.2 L144.8,111.2 L145.3,111.2 L145.8,111.2 L146.3,111.2 L146.8,111.2 L147.3,111.2 L147.8,111.2 L148.3,111.2 L148.8,111.2 L149.3,111.2 L149.8,111.2 L150.3,111.2 L150.8,111.2 L151.3,111.2 L151.8,111.2 L152.3,111.1 L152.8,111.1 L153.3,111.1 L153.8,111.1 L154.3,111.1 L154.8,111 L155.3,111 L155.8,110.9 L156.3,110.8 L156.8,110.6 L157.3,110.6 L157.8,110.6 L158.3,110.8 L158.8,110.9 L159.3,111 L159.8,111 L160.3,111.1 L160.8,111.1 L161.3,111.1 L161.8,111.1 L162.3,111.1 L162.8,111.2 L163.3,111.2 L163.8,111.2 L164.3,111.2 L164.8,111.2 L165.3,111.2 L165.8,111.2 L166.3,111.2 L166.8,111.2 L167.3,111.2 L167.8,111.2 L168.3,111.2 L168.8,111.2 L169.3,111.2 L169.8,111.2 L170.3,111.2 L170.8,111.2 L171.3,111.2 L171.8,111.2 L172.3,111.2 L172.8,111.2 L173.3,111.2 L173.8,111.2 L174.3,111.2 L174.8,111.2 L175.3,111.2 L175.8,111.2 L176.3,111.2 L176.8,111.2 L177.3,111.2 L177.8,111.2 L178.3,111.2 L178.8,111.2 L179.3,111.2 L179.8,111.2 L180.3,111.2 L180.8,111.2 L181.3,111.2 L181.8,111.2 L182.3,111.2 L182.8,111.2 L183.3,111.2 L183.8,111.2 L184.3,111.2 L184.8,111.2 L185.3,111.2 L185.8,111.2 L186.3,111.2 L186.8,111.2 L187.3,111.2 L187.8,111.2 L188.3,111.2 L188.8,111.2 L189.3,111.2 L189.8,111.2 L190.3,111.2 L190.8,111.2 L191.3,111.2 L191.8,111.2 L192.3,111.2 L192.8,111.2 L193.3,111.2 L193.8,111.2 L194.3,111.2 L194.8,111.2 L195.3,111.2 L195.8,111.2 L196.3,111.1 L196.8,111.1 L197.4,111.1 L197.9,111.1 L198.4,111.1 L198.9,111.1 L199.4,111 L199.9,111 L200.4,110.9 L200.9,110.8 L201.4,110.7 L201.9,110.5 L202.4,110.2 L202.9,110 L203.4,110 L203.9,110.2 L204.4,110.4 L204.9,110.6 L205.4,110.8 L205.9,110.9 L206.4,111 L206.9,111 L207.4,111.1 L207.9,111.1 L208.4,111.1 L208.9,111.1 L209.4,111.1 L209.9,111.1 L210.4,111.2 L210.9,111.2 L211.4,111.2 L211.9,111.2 L212.4,111.2 L212.9,111.2 L213.4,111.2 L213.9,111.2 L214.4,111.2 L214.9,111.2 L215.4,111.2 L215.9,111.2 L216.4,111.2 L216.9,111.2 L217.4,111.2 L217.9,111.2 L218.4,111.2 L218.9,111.2 L219.4,111.2 L219.9,111.2 L220.4,111.2 L220.9,111.2 L221.4,111.2 L221.9,111.2 L222.4,111.2 L222.9,111.2 L223.4,111.2 L223.9,111.2 L224.4,111.2 L224.9,111.2 L225.4,111.2 L225.9,111.2 L226.4,111.2 L226.9,111.2 L227.4,111.2 L227.9,111.2 L228.4,111.2 L228.9,111.2 L229.4,111.2 L229.9,111.2 L230.4,111.2 L230.9,111.2 L231.4,111.2 L231.9,111.2 L232.4,111.2 L232.9,111.2 L233.4,111.2 L233.9,111.2 L234.4,111.2 L234.9,111.2 L235.4,111.2 L235.9,111.2 L236.4,111.2 L236.9,111.2 L237.4,111.2 L237.9,111.2 L238.4,111.2 L238.9,111.2 L239.4,111.2 L239.9,111.2 L240.4,111.2 L240.9,111.2 L241.4,111.2 L241.9,111.2 L242.4,111.2 L242.9,111.2 L243.4,111.2 L243.9,111.2 L244.4,111.2 L244.9,111.2 L245.4,111.2 L245.9,111.2 L246.4,111.2 L246.9,111.2 L247.4,111.2 L247.9,111.2 L248.4,111.2 L248.9,111.2 L249.4,111.2 L249.9,111.2 L250.4,111.2" fill="none" stroke="#f9c52f" stroke-width="1.1" stroke-linejoin="round"/>
<text x="217" y="109.8" style="font-family:'Liberation Serif',serif;font-size:9.7px;font-weight:normal" text-anchor="start" fill="#333" stroke="#333" stroke-width="0.25" >15h</text>
<path d="M38.2,127.5 L38.7,127.5 L39.2,127.5 L39.7,127.5 L40.2,127.5 L40.7,127.5 L41.2,127.5 L41.7,127.5 L42.2,127.5 L42.7,127.5 L43.2,127.5 L43.7,127.5 L44.2,127.5 L44.7,127.5 L45.2,127.5 L45.7,127.5 L46.2,127.5 L46.7,127.5 L47.2,127.5 L47.7,127.5 L48.2,127.5 L48.7,127.5 L49.2,127.5 L49.7,127.5 L50.2,127.5 L50.7,127.5 L51.2,127.5 L51.7,127.5 L52.2,127.5 L52.7,127.5 L53.2,127.5 L53.7,127.5 L54.2,127.5 L54.7,127.5 L55.2,127.5 L55.7,127.5 L56.2,127.5 L56.7,127.5 L57.2,127.5 L57.7,127.5 L58.2,127.5 L58.7,127.5 L59.2,127.5 L59.7,127.5 L60.2,127.5 L60.7,127.5 L61.2,127.5 L61.7,127.5 L62.2,127.5 L62.7,127.5 L63.2,127.5 L63.7,127.5 L64.2,127.5 L64.7,127.5 L65.2,127.5 L65.7,127.5 L66.2,127.5 L66.7,127.5 L67.2,127.5 L67.7,127.5 L68.2,127.5 L68.7,127.5 L69.2,127.5 L69.7,127.5 L70.2,127.5 L70.7,127.5 L71.2,127.5 L71.7,127.5 L72.2,127.5 L72.7,127.5 L73.2,127.5 L73.7,127.5 L74.2,127.5 L74.7,127.5 L75.2,127.5 L75.7,127.5 L76.2,127.5 L76.7,127.5 L77.2,127.5 L77.7,127.5 L78.2,127.5 L78.7,127.5 L79.2,127.5 L79.7,127.5 L80.2,127.5 L80.7,127.5 L81.2,127.5 L81.7,127.5 L82.2,127.5 L82.7,127.5 L83.2,127.5 L83.7,127.5 L84.2,127.5 L84.7,127.5 L85.2,127.5 L85.7,127.5 L86.2,127.5 L86.7,127.5 L87.2,127.5 L87.7,127.5 L88.2,127.5 L88.7,127.5 L89.2,127.4 L89.7,127.4 L90.2,127.4 L90.7,127.4 L91.2,127.4 L91.8,127.4 L92.3,127.4 L92.8,127.4 L93.3,127.4 L93.8,127.4 L94.3,127.4 L94.8,127.4 L95.3,127.3 L95.8,127.3 L96.3,127.3 L96.8,127.3 L97.3,127.2 L97.8,127.2 L98.3,127.1 L98.8,127 L99.3,126.9 L99.8,126.8 L100.3,126.5 L100.8,126.1 L101.3,125.4 L101.8,124.3 L102.3,122.5 L102.8,120.4 L103.3,119.5 L103.8,121 L104.3,123.1 L104.8,124.7 L105.3,125.7 L105.8,126.2 L106.3,126.6 L106.8,126.8 L107.3,127 L107.8,127.1 L108.3,127.1 L108.8,127.2 L109.3,127.2 L109.8,127.3 L110.3,127.3 L110.8,127.3 L111.3,127.3 L111.8,127.4 L112.3,127.4 L112.8,127.4 L113.3,127.4 L113.8,127.4 L114.3,127.4 L114.8,127.4 L115.3,127.4 L115.8,127.4 L116.3,127.4 L116.8,127.4 L117.3,127.4 L117.8,127.4 L118.3,127.4 L118.8,127.4 L119.3,127.4 L119.8,127.4 L120.3,127.3 L120.8,127.3 L121.3,127.2 L121.8,127.1 L122.3,126.8 L122.8,126.6 L123.3,126.6 L123.8,126.8 L124.3,127 L124.8,127.2 L125.3,127.3 L125.8,127.4 L126.3,127.4 L126.8,127.4 L127.3,127.4 L127.8,127.4 L128.3,127.4 L128.8,127.5 L129.3,127.5 L129.8,127.5 L130.3,127.5 L130.8,127.5 L131.3,127.5 L131.8,127.5 L132.3,127.5 L132.8,127.5 L133.3,127.5 L133.8,127.5 L134.3,127.5 L134.8,127.5 L135.3,127.5 L135.8,127.5 L136.3,127.5 L136.8,127.5 L137.3,127.5 L137.8,127.5 L138.3,127.5 L138.8,127.5 L139.3,127.5 L139.8,127.5 L140.3,127.5 L140.8,127.5 L141.3,127.5 L141.8,127.5 L142.3,127.5 L142.8,127.5 L143.3,127.5 L143.8,127.5 L144.3,127.5 L144.8,127.5 L145.3,127.5 L145.8,127.5 L146.3,127.5 L146.8,127.5 L147.3,127.5 L147.8,127.5 L148.3,127.5 L148.8,127.5 L149.3,127.5 L149.8,127.5 L150.3,127.5 L150.8,127.5 L151.3,127.5 L151.8,127.5 L152.3,127.5 L152.8,127.4 L153.3,127.4 L153.8,127.4 L154.3,127.4 L154.8,127.4 L155.3,127.3 L155.8,127.2 L156.3,127.1 L156.8,127 L157.3,127 L157.8,127 L158.3,127.1 L158.8,127.2 L159.3,127.3 L159.8,127.4 L160.3,127.4 L160.8,127.4 L161.3,127.4 L161.8,127.4 L162.3,127.5 L162.8,127.5 L163.3,127.5 L163.8,127.5 L164.3,127.5 L164.8,127.5 L165.3,127.5 L165.8,127.5 L166.3,127.5 L166.8,127.5 L167.3,127.5 L167.8,127.5 L168.3,127.5 L168.8,127.5 L169.3,127.5 L169.8,127.5 L170.3,127.5 L170.8,127.5 L171.3,127.5 L171.8,127.5 L172.3,127.5 L172.8,127.5 L173.3,127.5 L173.8,127.5 L174.3,127.5 L174.8,127.5 L175.3,127.5 L175.8,127.5 L176.3,127.5 L176.8,127.5 L177.3,127.5 L177.8,127.5 L178.3,127.5 L178.8,127.5 L179.3,127.5 L179.8,127.5 L180.3,127.5 L180.8,127.5 L181.3,127.5 L181.8,127.5 L182.3,127.5 L182.8,127.5 L183.3,127.5 L183.8,127.5 L184.3,127.5 L184.8,127.5 L185.3,127.5 L185.8,127.5 L186.3,127.5 L186.8,127.5 L187.3,127.5 L187.8,127.5 L188.3,127.5 L188.8,127.5 L189.3,127.5 L189.8,127.5 L190.3,127.5 L190.8,127.5 L191.3,127.5 L191.8,127.5 L192.3,127.5 L192.8,127.5 L193.3,127.5 L193.8,127.5 L194.3,127.5 L194.8,127.5 L195.3,127.5 L195.8,127.5 L196.3,127.4 L196.8,127.4 L197.4,127.4 L197.9,127.4 L198.4,127.4 L198.9,127.4 L199.4,127.3 L199.9,127.3 L200.4,127.2 L200.9,127.1 L201.4,127 L201.9,126.8 L202.4,126.5 L202.9,126.3 L203.4,126.3 L203.9,126.5 L204.4,126.7 L204.9,126.9 L205.4,127.1 L205.9,127.2 L206.4,127.3 L206.9,127.3 L207.4,127.4 L207.9,127.4 L208.4,127.4 L208.9,127.4 L209.4,127.4 L209.9,127.4 L210.4,127.5 L210.9,127.5 L211.4,127.5 L211.9,127.5 L212.4,127.5 L212.9,127.5 L213.4,127.5 L213.9,127.5 L214.4,127.5 L214.9,127.5 L215.4,127.5 L215.9,127.5 L216.4,127.5 L216.9,127.5 L217.4,127.5 L217.9,127.5 L218.4,127.5 L218.9,127.5 L219.4,127.5 L219.9,127.5 L220.4,127.5 L220.9,127.5 L221.4,127.5 L221.9,127.5 L222.4,127.5 L222.9,127.5 L223.4,127.5 L223.9,127.5 L224.4,127.5 L224.9,127.5 L225.4,127.5 L225.9,127.5 L226.4,127.5 L226.9,127.5 L227.4,127.5 L227.9,127.5 L228.4,127.5 L228.9,127.5 L229.4,127.5 L229.9,127.5 L230.4,127.5 L230.9,127.5 L231.4,127.5 L231.9,127.5 L232.4,127.5 L232.9,127.5 L233.4,127.5 L233.9,127.5 L234.4,127.5 L234.9,127.5 L235.4,127.5 L235.9,127.5 L236.4,127.5 L236.9,127.5 L237.4,127.5 L237.9,127.5 L238.4,127.5 L238.9,127.5 L239.4,127.5 L239.9,127.5 L240.4,127.5 L240.9,127.5 L241.4,127.5 L241.9,127.5 L242.4,127.5 L242.9,127.5 L243.4,127.5 L243.9,127.5 L244.4,127.5 L244.9,127.5 L245.4,127.5 L245.9,127.5 L246.4,127.5 L246.9,127.5 L247.4,127.5 L247.9,127.5 L248.4,127.5 L248.9,127.5 L249.4,127.5 L249.9,127.5 L250.4,127.5" fill="none" stroke="#3e8fcc" stroke-width="1.1" stroke-linejoin="round"/>
<text x="217" y="126" style="font-family:'Liberation Serif',serif;font-size:9.7px;font-weight:normal" text-anchor="start" fill="#333" stroke="#333" stroke-width="0.25" >10h</text>
<path d="M38.2,142 L38.7,142 L39.2,142 L39.7,142 L40.2,142 L40.7,142 L41.2,142 L41.7,142 L42.2,142 L42.7,142 L43.2,142 L43.7,142 L44.2,142 L44.7,142 L45.2,142 L45.7,142 L46.2,142 L46.7,142 L47.2,142 L47.7,142 L48.2,142 L48.7,142 L49.2,142 L49.7,142 L50.2,142 L50.7,142 L51.2,142 L51.7,142 L52.2,142 L52.7,142 L53.2,142 L53.7,142 L54.2,142 L54.7,142 L55.2,142 L55.7,142 L56.2,142 L56.7,142 L57.2,142 L57.7,142 L58.2,142 L58.7,142 L59.2,142 L59.7,142 L60.2,142 L60.7,142 L61.2,142 L61.7,142 L62.2,142 L62.7,142 L63.2,142 L63.7,142 L64.2,142 L64.7,142 L65.2,142 L65.7,142 L66.2,142 L66.7,142 L67.2,142 L67.7,142 L68.2,142 L68.7,142 L69.2,142 L69.7,142 L70.2,142 L70.7,142 L71.2,142 L71.7,142 L72.2,142 L72.7,142 L73.2,142 L73.7,142 L74.2,142 L74.7,142 L75.2,142 L75.7,142 L76.2,142 L76.7,142 L77.2,142 L77.7,142 L78.2,142 L78.7,142 L79.2,142 L79.7,142 L80.2,142 L80.7,142 L81.2,142 L81.7,142 L82.2,142 L82.7,142 L83.2,142 L83.7,142 L84.2,142 L84.7,142 L85.2,142 L85.7,142 L86.2,142 L86.7,142 L87.2,142 L87.7,142 L88.2,142 L88.7,142 L89.2,142 L89.7,142 L90.2,142 L90.7,142 L91.2,142 L91.8,142 L92.3,142 L92.8,142 L93.3,142 L93.8,142 L94.3,142 L94.8,142 L95.3,142 L95.8,141.9 L96.3,141.9 L96.8,141.9 L97.3,141.9 L97.8,141.9 L98.3,141.9 L98.8,141.9 L99.3,141.8 L99.8,141.8 L100.3,141.7 L100.8,141.6 L101.3,141.4 L101.8,140.9 L102.3,139.7 L102.8,137.5 L103.3,136.1 L103.8,138.3 L104.3,140.2 L104.8,141.1 L105.3,141.4 L105.8,141.6 L106.3,141.7 L106.8,141.8 L107.3,141.8 L107.8,141.9 L108.3,141.9 L108.8,141.9 L109.3,141.9 L109.8,141.9 L110.3,141.9 L110.8,141.9 L111.3,141.9 L111.8,142 L112.3,142 L112.8,142 L113.3,142 L113.8,142 L114.3,142 L114.8,142 L115.3,142 L115.8,142 L116.3,142 L116.8,142 L117.3,142 L117.8,141.9 L118.3,141.9 L118.8,141.9 L119.3,141.9 L119.8,141.9 L120.3,141.9 L120.8,141.8 L121.3,141.7 L121.8,141.5 L122.3,141.2 L122.8,140.9 L123.3,140.8 L123.8,141.1 L124.3,141.5 L124.8,141.7 L125.3,141.8 L125.8,141.9 L126.3,141.9 L126.8,141.9 L127.3,141.9 L127.8,141.9 L128.3,142 L128.8,142 L129.3,142 L129.8,142 L130.3,142 L130.8,142 L131.3,142 L131.8,142 L132.3,142 L132.8,142 L133.3,142 L133.8,142 L134.3,142 L134.8,142 L135.3,142 L135.8,142 L136.3,142 L136.8,142 L137.3,142 L137.8,142 L138.3,142 L138.8,142 L139.3,142 L139.8,142 L140.3,142 L140.8,142 L141.3,142 L141.8,142 L142.3,142 L142.8,142 L143.3,142 L143.8,142 L144.3,142 L144.8,142 L145.3,142 L145.8,142 L146.3,142 L146.8,142 L147.3,142 L147.8,142 L148.3,142 L148.8,142 L149.3,142 L149.8,142 L150.3,142 L150.8,142 L151.3,142 L151.8,142 L152.3,142 L152.8,141.9 L153.3,141.9 L153.8,141.9 L154.3,141.9 L154.8,141.8 L155.3,141.8 L155.8,141.6 L156.3,141.5 L156.8,141.3 L157.3,141.2 L157.8,141.3 L158.3,141.5 L158.8,141.7 L159.3,141.8 L159.8,141.8 L160.3,141.9 L160.8,141.9 L161.3,141.9 L161.8,141.9 L162.3,142 L162.8,142 L163.3,142 L163.8,142 L164.3,142 L164.8,142 L165.3,142 L165.8,142 L166.3,142 L166.8,142 L167.3,142 L167.8,142 L168.3,142 L168.8,142 L169.3,142 L169.8,142 L170.3,142 L170.8,142 L171.3,142 L171.8,142 L172.3,142 L172.8,142 L173.3,142 L173.8,142 L174.3,142 L174.8,142 L175.3,142 L175.8,142 L176.3,142 L176.8,142 L177.3,142 L177.8,142 L178.3,142 L178.8,142 L179.3,142 L179.8,142 L180.3,142 L180.8,142 L181.3,142 L181.8,142 L182.3,142 L182.8,142 L183.3,142 L183.8,142 L184.3,141.9 L184.8,141.9 L185.3,141.9 L185.8,141.9 L186.3,141.8 L186.8,141.7 L187.3,141.6 L187.8,141.5 L188.3,141.5 L188.8,141.6 L189.3,141.7 L189.8,141.8 L190.3,141.9 L190.8,141.9 L191.3,141.9 L191.8,141.9 L192.3,141.9 L192.8,141.9 L193.3,141.9 L193.8,142 L194.3,142 L194.8,141.9 L195.3,141.9 L195.8,141.9 L196.3,141.9 L196.8,141.9 L197.4,141.9 L197.9,141.9 L198.4,141.9 L198.9,141.9 L199.4,141.9 L199.9,141.8 L200.4,141.8 L200.9,141.7 L201.4,141.6 L201.9,141.4 L202.4,141.1 L202.9,140.8 L203.4,140.6 L203.9,140.7 L204.4,141 L204.9,141.3 L205.4,141.5 L205.9,141.6 L206.4,141.7 L206.9,141.8 L207.4,141.9 L207.9,141.9 L208.4,141.9 L208.9,141.9 L209.4,141.9 L209.9,141.9 L210.4,141.9 L210.9,142 L211.4,142 L211.9,142 L212.4,142 L212.9,142 L213.4,142 L213.9,142 L214.4,142 L214.9,142 L215.4,142 L215.9,142 L216.4,142 L216.9,142 L217.4,142 L217.9,142 L218.4,142 L218.9,142 L219.4,142 L219.9,142 L220.4,142 L220.9,142 L221.4,142 L221.9,142 L222.4,142 L222.9,142 L223.4,142 L223.9,142 L224.4,142 L224.9,142 L225.4,142 L225.9,142 L226.4,142 L226.9,142 L227.4,142 L227.9,142 L228.4,142 L228.9,142 L229.4,142 L229.9,142 L230.4,142 L230.9,142 L231.4,142 L231.9,142 L232.4,142 L232.9,142 L233.4,142 L233.9,142 L234.4,142 L234.9,142 L235.4,142 L235.9,142 L236.4,142 L236.9,142 L237.4,142 L237.9,142 L238.4,142 L238.9,142 L239.4,142 L239.9,142 L240.4,142 L240.9,142 L241.4,142 L241.9,142 L242.4,142 L242.9,142 L243.4,142 L243.9,142 L244.4,142 L244.9,142 L245.4,142 L245.9,142 L246.4,142 L246.9,142 L247.4,142 L247.9,142 L248.4,142 L248.9,142 L249.4,142 L249.9,142 L250.4,142" fill="none" stroke="#f45b5b" stroke-width="1.1" stroke-linejoin="round"/>
<text x="217" y="141.8" style="font-family:'Liberation Serif',serif;font-size:9.7px;font-weight:normal" text-anchor="start" fill="#333" stroke="#333" stroke-width="0.25" >5h</text>
<path d="M38.2,165.4 L38.3,165.4 L38.5,165.4 L38.6,165.4 L38.7,165.4 L38.9,165.4 L39,165.4 L39.1,165.4 L39.3,165.4 L39.4,165.4 L39.5,165.4 L39.7,165.4 L39.8,165.4 L39.9,165.4 L40.1,165.4 L40.2,165.4 L40.3,165.4 L40.5,165.4 L40.6,165.4 L40.7,165.4 L40.9,165.4 L41,165.4 L41.1,165.4 L41.3,165.4 L41.4,165.4 L41.5,165.4 L41.6,165.4 L41.8,165.4 L41.9,165.4 L42,165.4 L42.2,165.4 L42.3,165.4 L42.4,165.4 L42.6,165.4 L42.7,165.4 L42.8,165.4 L43,165.4 L43.1,165.4 L43.2,165.4 L43.4,165.4 L43.5,165.4 L43.6,165.4 L43.8,165.4 L43.9,165.4 L44,165.4 L44.2,165.4 L44.3,165.4 L44.4,165.4 L44.6,165.4 L44.7,165.4 L44.8,165.4 L45,165.4 L45.1,165.4 L45.2,165.4 L45.4,165.4 L45.5,165.4 L45.6,165.4 L45.8,165.4 L45.9,165.4 L46,165.4 L46.2,165.4 L46.3,165.4 L46.4,165.4 L46.6,165.4 L46.7,165.4 L46.8,165.4 L47,165.4 L47.1,165.4 L47.2,165.4 L47.4,165.4 L47.5,165.4 L47.6,165.4 L47.7,165.4 L47.9,165.4 L48,165.4 L48.1,165.4 L48.3,165.4 L48.4,165.4 L48.5,165.4 L48.7,165.4 L48.8,165.4 L48.9,165.4 L49.1,165.4 L49.2,165.4 L49.3,165.4 L49.5,165.4 L49.6,165.4 L49.7,165.4 L49.9,165.4 L50,165.4 L50.1,165.4 L50.3,165.4 L50.4,165.4 L50.5,165.4 L50.7,165.4 L50.8,165.4 L50.9,165.4 L51.1,165.4 L51.2,165.4 L51.3,165.4 L51.5,165.4 L51.6,165.4 L51.7,165.4 L51.9,165.4 L52,165.4 L52.1,165.4 L52.3,165.4 L52.4,165.4 L52.5,165.4 L52.7,165.4 L52.8,165.4 L52.9,165.4 L53.1,165.4 L53.2,165.4 L53.3,165.4 L53.5,165.4 L53.6,165.4 L53.7,165.4 L53.8,165.4 L54,165.4 L54.1,165.4 L54.2,165.4 L54.4,165.4 L54.5,165.4 L54.6,165.4 L54.8,165.4 L54.9,165.4 L55,165.4 L55.2,165.4 L55.3,165.4 L55.4,165.4 L55.6,165.4 L55.7,165.4 L55.8,165.4 L56,165.4 L56.1,165.4 L56.2,165.4 L56.4,165.4 L56.5,165.4 L56.6,165.4 L56.8,165.4 L56.9,165.4 L57,165.4 L57.2,165.4 L57.3,165.4 L57.4,165.4 L57.6,165.4 L57.7,165.4 L57.8,165.4 L58,165.4 L58.1,165.4 L58.2,165.4 L58.4,165.4 L58.5,165.4 L58.6,165.4 L58.8,165.4 L58.9,165.4 L59,165.4 L59.2,165.4 L59.3,165.4 L59.4,165.4 L59.6,165.4 L59.7,165.4 L59.8,165.4 L60,165.4 L60.1,165.4 L60.2,165.4 L60.3,165.4 L60.5,165.4 L60.6,165.4 L60.7,165.4 L60.9,165.4 L61,165.4 L61.1,165.4 L61.3,165.4 L61.4,165.4 L61.5,165.4 L61.7,165.4 L61.8,165.4 L61.9,165.4 L62.1,165.4 L62.2,165.4 L62.3,165.4 L62.5,165.4 L62.6,165.4 L62.7,165.4 L62.9,165.4 L63,165.4 L63.1,165.4 L63.3,165.4 L63.4,165.4 L63.5,165.4 L63.7,165.4 L63.8,165.4 L63.9,165.4 L64.1,165.4 L64.2,165.4 L64.3,165.4 L64.5,165.4 L64.6,165.4 L64.7,165.4 L64.9,165.4 L65,165.4 L65.1,165.4 L65.3,165.4 L65.4,165.4 L65.5,165.4 L65.7,165.4 L65.8,165.4 L65.9,165.4 L66.1,165.4 L66.2,165.4 L66.3,165.4 L66.4,165.4 L66.6,165.4 L66.7,165.4 L66.8,165.4 L67,165.4 L67.1,165.4 L67.2,165.4 L67.4,165.4 L67.5,165.4 L67.6,165.4 L67.8,165.4 L67.9,165.4 L68,165.4 L68.2,165.4 L68.3,165.4 L68.4,165.4 L68.6,165.4 L68.7,165.4 L68.8,165.4 L69,165.4 L69.1,165.4 L69.2,165.4 L69.4,165.4 L69.5,165.4 L69.6,165.4 L69.8,165.4 L69.9,165.4 L70,165.4 L70.2,165.4 L70.3,165.4 L70.4,165.4 L70.6,165.4 L70.7,165.4 L70.8,165.4 L71,165.4 L71.1,165.4 L71.2,165.4 L71.4,165.4 L71.5,165.4 L71.6,165.4 L71.8,165.4 L71.9,165.4 L72,165.4 L72.2,165.4 L72.3,165.4 L72.4,165.4 L72.5,165.4 L72.7,165.4 L72.8,165.4 L72.9,165.4 L73.1,165.4 L73.2,165.4 L73.3,165.4 L73.5,165.4 L73.6,165.4 L73.7,165.4 L73.9,165.4 L74,165.4 L74.1,165.4 L74.3,165.4 L74.4,165.4 L74.5,165.4 L74.7,165.4 L74.8,165.4 L74.9,165.4 L75.1,165.4 L75.2,165.4 L75.3,165.4 L75.5,165.4 L75.6,165.4 L75.7,165.4 L75.9,165.4 L76,165.4 L76.1,165.4 L76.3,165.4 L76.4,165.4 L76.5,165.4 L76.7,165.4 L76.8,165.4 L76.9,165.4 L77.1,165.4 L77.2,165.4 L77.3,165.4 L77.5,165.4 L77.6,165.4 L77.7,165.4 L77.9,165.4 L78,165.4 L78.1,165.4 L78.3,165.4 L78.4,165.4 L78.5,165.4 L78.7,165.4 L78.8,165.4 L78.9,165.4 L79,165.4 L79.2,165.4 L79.3,165.4 L79.4,165.4 L79.6,165.4 L79.7,165.4 L79.8,165.4 L80,165.4 L80.1,165.4 L80.2,165.4 L80.4,165.4 L80.5,165.4 L80.6,165.4 L80.8,165.4 L80.9,165.4 L81,165.4 L81.2,165.4 L81.3,165.4 L81.4,165.4 L81.6,165.4 L81.7,165.4 L81.8,165.4 L82,165.4 L82.1,165.4 L82.2,165.4 L82.4,165.4 L82.5,165.4 L82.6,165.4 L82.8,165.4 L82.9,165.4 L83,165.4 L83.2,165.4 L83.3,165.4 L83.4,165.4 L83.6,165.4 L83.7,165.4 L83.8,165.4 L84,165.4 L84.1,165.4 L84.2,165.4 L84.4,165.4 L84.5,165.4 L84.6,165.4 L84.8,165.4 L84.9,165.4 L85,165.4 L85.1,165.4 L85.3,165.4 L85.4,165.4 L85.5,165.3 L85.7,165.3 L85.8,165.3 L85.9,165.3 L86.1,165.3 L86.2,165.3 L86.3,165.2 L86.5,165.2 L86.6,165 L86.7,164.6 L86.9,163.4 L87,161.1 L87.1,158.3 L87.3,156.8 L87.4,158.3 L87.5,161.1 L87.7,163.4 L87.8,164.6 L87.9,165 L88.1,165.2 L88.2,165.2 L88.3,165.3 L88.5,165.3 L88.6,165.3 L88.7,165.3 L88.9,165.3 L89,165.3 L89.1,165.4 L89.3,165.4 L89.4,165.4 L89.5,165.4 L89.7,165.4 L89.8,165.4 L89.9,165.4 L90.1,165.4 L90.2,165.4 L90.3,165.4 L90.5,165.4 L90.6,165.4 L90.7,165.4 L90.9,165.4 L91,165.4 L91.1,165.4 L91.2,165.4 L91.4,165.4 L91.5,165.4 L91.6,165.4 L91.8,165.4 L91.9,165.4 L92,165.4 L92.2,165.4 L92.3,165.4 L92.4,165.4 L92.6,165.4 L92.7,165.4 L92.8,165.4 L93,165.4 L93.1,165.4 L93.2,165.4 L93.4,165.4 L93.5,165.4 L93.6,165.4 L93.8,165.4 L93.9,165.4 L94,165.4 L94.2,165.4 L94.3,165.4 L94.4,165.4 L94.6,165.4 L94.7,165.4 L94.8,165.4 L95,165.4 L95.1,165.4 L95.2,165.4 L95.4,165.4 L95.5,165.4 L95.6,165.4 L95.8,165.4 L95.9,165.4 L96,165.4 L96.2,165.4 L96.3,165.4 L96.4,165.4 L96.6,165.4 L96.7,165.4 L96.8,165.4 L97,165.4 L97.1,165.4 L97.2,165.4 L97.4,165.4 L97.5,165.4 L97.6,165.4 L97.7,165.4 L97.9,165.4 L98,165.4 L98.1,165.4 L98.3,165.4 L98.4,165.4 L98.5,165.4 L98.7,165.4 L98.8,165.4 L98.9,165.4 L99.1,165.4 L99.2,165.4 L99.3,165.4 L99.5,165.4 L99.6,165.4 L99.7,165.4 L99.9,165.4 L100,165.4 L100.1,165.3 L100.3,165.3 L100.4,165.3 L100.5,165.3 L100.7,165.3 L100.8,165.3 L100.9,165.3 L101.1,165.3 L101.2,165.3 L101.3,165.3 L101.5,165.3 L101.6,165.2 L101.7,165.2 L101.9,165.2 L102,165.1 L102.1,165.1 L102.3,165 L102.4,164.9 L102.5,164.8 L102.7,164.4 L102.8,163.5 L102.9,161.5 L103.1,157.6 L103.2,151.8 L103.3,145.9 L103.5,143.2 L103.6,145.9 L103.7,151.8 L103.8,157.6 L104,161.5 L104.1,163.5 L104.2,164.4 L104.4,164.8 L104.5,164.9 L104.6,165 L104.8,165.1 L104.9,165.1 L105,165.2 L105.2,165.2 L105.3,165.2 L105.4,165.3 L105.6,165.3 L105.7,165.3 L105.8,165.3 L106,165.3 L106.1,165.3 L106.2,165.3 L106.4,165.3 L106.5,165.3 L106.6,165.3 L106.8,165.3 L106.9,165.4 L107,165.4 L107.2,165.4 L107.3,165.4 L107.4,165.4 L107.6,165.4 L107.7,165.4 L107.8,165.4 L108,165.4 L108.1,165.4 L108.2,165.4 L108.4,165.4 L108.5,165.4 L108.6,165.4 L108.8,165.4 L108.9,165.4 L109,165.4 L109.2,165.4 L109.3,165.4 L109.4,165.4 L109.6,165.4 L109.7,165.4 L109.8,165.4 L110,165.4 L110.1,165.4 L110.2,165.4 L110.3,165.4 L110.5,165.4 L110.6,165.4 L110.7,165.4 L110.9,165.4 L111,165.4 L111.1,165.4 L111.3,165.4 L111.4,165.4 L111.5,165.4 L111.7,165.4 L111.8,165.4 L111.9,165.4 L112.1,165.4 L112.2,165.4 L112.3,165.4 L112.5,165.4 L112.6,165.4 L112.7,165.4 L112.9,165.4 L113,165.4 L113.1,165.4 L113.3,165.4 L113.4,165.4 L113.5,165.4 L113.7,165.4 L113.8,165.4 L113.9,165.4 L114.1,165.4 L114.2,165.4 L114.3,165.4 L114.5,165.4 L114.6,165.4 L114.7,165.4 L114.9,165.4 L115,165.4 L115.1,165.4 L115.3,165.4 L115.4,165.4 L115.5,165.4 L115.7,165.4 L115.8,165.4 L115.9,165.4 L116.1,165.4 L116.2,165.4 L116.3,165.4 L116.4,165.4 L116.6,165.4 L116.7,165.4 L116.8,165.4 L117,165.4 L117.1,165.4 L117.2,165.4 L117.4,165.4 L117.5,165.4 L117.6,165.4 L117.8,165.4 L117.9,165.4 L118,165.4 L118.2,165.4 L118.3,165.4 L118.4,165.4 L118.6,165.4 L118.7,165.4 L118.8,165.4 L119,165.4 L119.1,165.4 L119.2,165.4 L119.4,165.4 L119.5,165.4 L119.6,165.4 L119.8,165.4 L119.9,165.4 L120,165.4 L120.2,165.4 L120.3,165.4 L120.4,165.4 L120.6,165.4 L120.7,165.4 L120.8,165.4 L121,165.4 L121.1,165.4 L121.2,165.4 L121.4,165.3 L121.5,165.3 L121.6,165.3 L121.8,165.3 L121.9,165.3 L122,165.2 L122.2,165 L122.3,164.5 L122.4,163.7 L122.5,162.4 L122.7,161.1 L122.8,160.5 L122.9,161.1 L123.1,162.4 L123.2,163.7 L123.3,164.5 L123.5,165 L123.6,165.2 L123.7,165.3 L123.9,165.3 L124,165.3 L124.1,165.3 L124.3,165.3 L124.4,165.4 L124.5,165.4 L124.7,165.4 L124.8,165.4 L124.9,165.4 L125.1,165.4 L125.2,165.4 L125.3,165.4 L125.5,165.4 L125.6,165.4 L125.7,165.4 L125.9,165.4 L126,165.4 L126.1,165.4 L126.3,165.4 L126.4,165.4 L126.5,165.4 L126.7,165.4 L126.8,165.4 L126.9,165.4 L127.1,165.4 L127.2,165.4 L127.3,165.4 L127.5,165.4 L127.6,165.4 L127.7,165.4 L127.9,165.4 L128,165.4 L128.1,165.4 L128.3,165.4 L128.4,165.4 L128.5,165.4 L128.7,165.4 L128.8,165.4 L128.9,165.4 L129,165.4 L129.2,165.4 L129.3,165.4 L129.4,165.4 L129.6,165.4 L129.7,165.4 L129.8,165.4 L130,165.4 L130.1,165.4 L130.2,165.4 L130.4,165.4 L130.5,165.4 L130.6,165.4 L130.8,165.4 L130.9,165.4 L131,165.4 L131.2,165.4 L131.3,165.4 L131.4,165.4 L131.6,165.4 L131.7,165.4 L131.8,165.4 L132,165.4 L132.1,165.4 L132.2,165.4 L132.4,165.4 L132.5,165.4 L132.6,165.4 L132.8,165.4 L132.9,165.4 L133,165.4 L133.2,165.4 L133.3,165.4 L133.4,165.4 L133.6,165.4 L133.7,165.4 L133.8,165.4 L134,165.4 L134.1,165.4 L134.2,165.4 L134.4,165.4 L134.5,165.4 L134.6,165.4 L134.8,165.4 L134.9,165.4 L135,165.4 L135.1,165.4 L135.3,165.4 L135.4,165.4 L135.5,165.4 L135.7,165.4 L135.8,165.4 L135.9,165.4 L136.1,165.4 L136.2,165.4 L136.3,165.4 L136.5,165.4 L136.6,165.4 L136.7,165.4 L136.9,165.4 L137,165.4 L137.1,165.4 L137.3,165.4 L137.4,165.4 L137.5,165.4 L137.7,165.4 L137.8,165.4 L137.9,165.4 L138.1,165.4 L138.2,165.4 L138.3,165.4 L138.5,165.4 L138.6,165.4 L138.7,165.4 L138.9,165.4 L139,165.4 L139.1,165.4 L139.3,165.4 L139.4,165.4 L139.5,165.4 L139.7,165.4 L139.8,165.4 L139.9,165.4 L140.1,165.4 L140.2,165.4 L140.3,165.4 L140.5,165.4 L140.6,165.4 L140.7,165.4 L140.9,165.4 L141,165.4 L141.1,165.4 L141.2,165.4 L141.4,165.4 L141.5,165.4 L141.6,165.4 L141.8,165.4 L141.9,165.4 L142,165.4 L142.2,165.4 L142.3,165.4 L142.4,165.4 L142.6,165.4 L142.7,165.4 L142.8,165.4 L143,165.4 L143.1,165.4 L143.2,165.4 L143.4,165.4 L143.5,165.4 L143.6,165.4 L143.8,165.4 L143.9,165.4 L144,165.4 L144.2,165.4 L144.3,165.4 L144.4,165.4 L144.6,165.4 L144.7,165.4 L144.8,165.4 L145,165.4 L145.1,165.4 L145.2,165.4 L145.4,165.4 L145.5,165.4 L145.6,165.4 L145.8,165.4 L145.9,165.4 L146,165.4 L146.2,165.4 L146.3,165.4 L146.4,165.4 L146.6,165.4 L146.7,165.4 L146.8,165.4 L147,165.4 L147.1,165.4 L147.2,165.4 L147.4,165.4 L147.5,165.4 L147.6,165.4 L147.7,165.4 L147.9,165.4 L148,165.4 L148.1,165.4 L148.3,165.4 L148.4,165.4 L148.5,165.4 L148.7,165.4 L148.8,165.4 L148.9,165.4 L149.1,165.4 L149.2,165.4 L149.3,165.4 L149.5,165.4 L149.6,165.4 L149.7,165.4 L149.9,165.4 L150,165.4 L150.1,165.4 L150.3,165.4 L150.4,165.4 L150.5,165.4 L150.7,165.4 L150.8,165.4 L150.9,165.4 L151.1,165.4 L151.2,165.4 L151.3,165.4 L151.5,165.4 L151.6,165.4 L151.7,165.4 L151.9,165.4 L152,165.4 L152.1,165.4 L152.3,165.4 L152.4,165.4 L152.5,165.4 L152.7,165.4 L152.8,165.4 L152.9,165.4 L153.1,165.4 L153.2,165.4 L153.3,165.4 L153.5,165.4 L153.6,165.4 L153.7,165.4 L153.8,165.4 L154,165.4 L154.1,165.4 L154.2,165.4 L154.4,165.4 L154.5,165.4 L154.6,165.4 L154.8,165.4 L154.9,165.4 L155,165.4 L155.2,165.4 L155.3,165.4 L155.4,165.4 L155.6,165.4 L155.7,165.4 L155.8,165.4 L156,165.4 L156.1,165.4 L156.2,165.4 L156.4,165.4 L156.5,165.3 L156.6,165.3 L156.8,165.2 L156.9,165.1 L157,164.8 L157.2,164.5 L157.3,164.1 L157.4,163.7 L157.6,163.6 L157.7,163.7 L157.8,164.1 L158,164.5 L158.1,164.8 L158.2,165.1 L158.4,165.2 L158.5,165.3 L158.6,165.3 L158.8,165.4 L158.9,165.4 L159,165.4 L159.2,165.4 L159.3,165.4 L159.4,165.4 L159.6,165.4 L159.7,165.4 L159.8,165.4 L159.9,165.4 L160.1,165.4 L160.2,165.4 L160.3,165.4 L160.5,165.4 L160.6,165.4 L160.7,165.4 L160.9,165.4 L161,165.4 L161.1,165.4 L161.3,165.4 L161.4,165.4 L161.5,165.4 L161.7,165.4 L161.8,165.4 L161.9,165.4 L162.1,165.4 L162.2,165.4 L162.3,165.4 L162.5,165.4 L162.6,165.4 L162.7,165.4 L162.9,165.4 L163,165.4 L163.1,165.4 L163.3,165.4 L163.4,165.4 L163.5,165.4 L163.7,165.4 L163.8,165.4 L163.9,165.4 L164.1,165.4 L164.2,165.4 L164.3,165.4 L164.5,165.4 L164.6,165.4 L164.7,165.4 L164.9,165.4 L165,165.4 L165.1,165.4 L165.3,165.4 L165.4,165.4 L165.5,165.4 L165.7,165.4 L165.8,165.4 L165.9,165.4 L166.1,165.4 L166.2,165.4 L166.3,165.4 L166.4,165.4 L166.6,165.4 L166.7,165.4 L166.8,165.4 L167,165.4 L167.1,165.4 L167.2,165.4 L167.4,165.4 L167.5,165.4 L167.6,165.4 L167.8,165.4 L167.9,165.4 L168,165.4 L168.2,165.4 L168.3,165.4 L168.4,165.4 L168.6,165.4 L168.7,165.4 L168.8,165.4 L169,165.4 L169.1,165.4 L169.2,165.4 L169.4,165.4 L169.5,165.4 L169.6,165.4 L169.8,165.4 L169.9,165.4 L170,165.4 L170.2,165.4 L170.3,165.4 L170.4,165.4 L170.6,165.4 L170.7,165.4 L170.8,165.4 L171,165.4 L171.1,165.4 L171.2,165.4 L171.4,165.4 L171.5,165.4 L171.6,165.4 L171.8,165.4 L171.9,165.4 L172,165.4 L172.2,165.4 L172.3,165.4 L172.4,165.4 L172.5,165.4 L172.7,165.4 L172.8,165.4 L172.9,165.4 L173.1,165.4 L173.2,165.4 L173.3,165.4 L173.5,165.4 L173.6,165.4 L173.7,165.4 L173.9,165.4 L174,165.4 L174.1,165.4 L174.3,165.4 L174.4,165.4 L174.5,165.4 L174.7,165.4 L174.8,165.4 L174.9,165.4 L175.1,165.4 L175.2,165.4 L175.3,165.4 L175.5,165.4 L175.6,165.4 L175.7,165.4 L175.9,165.4 L176,165.4 L176.1,165.4 L176.3,165.4 L176.4,165.4 L176.5,165.4 L176.7,165.4 L176.8,165.4 L176.9,165.4 L177.1,165.4 L177.2,165.4 L177.3,165.4 L177.5,165.4 L177.6,165.4 L177.7,165.4 L177.9,165.4 L178,165.4 L178.1,165.4 L178.3,165.4 L178.4,165.4 L178.5,165.4 L178.6,165.4 L178.8,165.4 L178.9,165.4 L179,165.4 L179.2,165.4 L179.3,165.4 L179.4,165.4 L179.6,165.4 L179.7,165.4 L179.8,165.4 L180,165.4 L180.1,165.4 L180.2,165.4 L180.4,165.4 L180.5,165.4 L180.6,165.4 L180.8,165.4 L180.9,165.4 L181,165.4 L181.2,165.4 L181.3,165.4 L181.4,165.4 L181.6,165.4 L181.7,165.4 L181.8,165.4 L182,165.4 L182.1,165.4 L182.2,165.4 L182.4,165.4 L182.5,165.4 L182.6,165.4 L182.8,165.4 L182.9,165.4 L183,165.4 L183.2,165.4 L183.3,165.4 L183.4,165.4 L183.6,165.4 L183.7,165.4 L183.8,165.4 L184,165.4 L184.1,165.4 L184.2,165.4 L184.4,165.4 L184.5,165.4 L184.6,165.4 L184.8,165.4 L184.9,165.4 L185,165.4 L185.1,165.4 L185.3,165.4 L185.4,165.4 L185.5,165.4 L185.7,165.4 L185.8,165.4 L185.9,165.4 L186.1,165.4 L186.2,165.4 L186.3,165.4 L186.5,165.4 L186.6,165.4 L186.7,165.4 L186.9,165.3 L187,165.3 L187.1,165.3 L187.3,165.2 L187.4,165 L187.5,164.8 L187.7,164.4 L187.8,163.9 L187.9,163.6 L188.1,163.4 L188.2,163.6 L188.3,163.9 L188.5,164.4 L188.6,164.8 L188.7,165 L188.9,165.2 L189,165.3 L189.1,165.3 L189.3,165.3 L189.4,165.4 L189.5,165.4 L189.7,165.4 L189.8,165.4 L189.9,165.4 L190.1,165.4 L190.2,165.4 L190.3,165.4 L190.5,165.4 L190.6,165.4 L190.7,165.4 L190.9,165.4 L191,165.4 L191.1,165.4 L191.2,165.4 L191.4,165.4 L191.5,165.4 L191.6,165.4 L191.8,165.4 L191.9,165.4 L192,165.4 L192.2,165.4 L192.3,165.3 L192.4,165.3 L192.6,165.2 L192.7,165.1 L192.8,164.9 L193,164.6 L193.1,164.2 L193.2,163.9 L193.4,163.8 L193.5,163.9 L193.6,164.2 L193.8,164.6 L193.9,164.9 L194,165.1 L194.2,165.2 L194.3,165.3 L194.4,165.3 L194.6,165.4 L194.7,165.4 L194.8,165.4 L195,165.4 L195.1,165.4 L195.2,165.4 L195.4,165.4 L195.5,165.4 L195.6,165.4 L195.8,165.4 L195.9,165.4 L196,165.4 L196.2,165.4 L196.3,165.4 L196.4,165.4 L196.6,165.4 L196.7,165.4 L196.8,165.4 L197,165.4 L197.1,165.4 L197.2,165.4 L197.4,165.4 L197.5,165.4 L197.6,165.4 L197.7,165.4 L197.9,165.4 L198,165.4 L198.1,165.4 L198.3,165.4 L198.4,165.4 L198.5,165.4 L198.7,165.4 L198.8,165.4 L198.9,165.4 L199.1,165.4 L199.2,165.4 L199.3,165.4 L199.5,165.4 L199.6,165.4 L199.7,165.4 L199.9,165.4 L200,165.4 L200.1,165.4 L200.3,165.4 L200.4,165.4 L200.5,165.4 L200.7,165.4 L200.8,165.4 L200.9,165.4 L201.1,165.4 L201.2,165.4 L201.3,165.4 L201.5,165.4 L201.6,165.4 L201.7,165.4 L201.9,165.4 L202,165.3 L202.1,165.3 L202.3,165.3 L202.4,165.2 L202.5,165.1 L202.7,165 L202.8,164.8 L202.9,164.5 L203.1,164.2 L203.2,163.9 L203.3,163.7 L203.5,163.6 L203.6,163.7 L203.7,163.9 L203.8,164.2 L204,164.5 L204.1,164.8 L204.2,165 L204.4,165.1 L204.5,165.2 L204.6,165.3 L204.8,165.3 L204.9,165.3 L205,165.4 L205.2,165.4 L205.3,165.4 L205.4,165.4 L205.6,165.4 L205.7,165.4 L205.8,165.4 L206,165.4 L206.1,165.4 L206.2,165.4 L206.4,165.4 L206.5,165.4 L206.6,165.4 L206.8,165.4 L206.9,165.4 L207,165.4 L207.2,165.4 L207.3,165.4 L207.4,165.4 L207.6,165.4 L207.7,165.4 L207.8,165.4 L208,165.4 L208.1,165.4 L208.2,165.4 L208.4,165.4 L208.5,165.4 L208.6,165.4 L208.8,165.4 L208.9,165.4 L209,165.4 L209.2,165.4 L209.3,165.4 L209.4,165.4 L209.6,165.4 L209.7,165.4 L209.8,165.4 L209.9,165.4 L210.1,165.4 L210.2,165.4 L210.3,165.4 L210.5,165.4 L210.6,165.4 L210.7,165.4 L210.9,165.4 L211,165.4 L211.1,165.4 L211.3,165.4 L211.4,165.4 L211.5,165.4 L211.7,165.4 L211.8,165.4 L211.9,165.4 L212.1,165.4 L212.2,165.4 L212.3,165.4 L212.5,165.4 L212.6,165.4 L212.7,165.4 L212.9,165.4 L213,165.4 L213.1,165.4 L213.3,165.4 L213.4,165.4 L213.5,165.4 L213.7,165.4 L213.8,165.4 L213.9,165.4 L214.1,165.4 L214.2,165.4 L214.3,165.4 L214.5,165.4 L214.6,165.4 L214.7,165.4 L214.9,165.4 L215,165.4 L215.1,165.4 L215.3,165.4 L215.4,165.4 L215.5,165.4 L215.7,165.4 L215.8,165.4 L215.9,165.4 L216.1,165.4 L216.2,165.4 L216.3,165.4 L216.4,165.4 L216.6,165.4 L216.7,165.4 L216.8,165.4 L217,165.4 L217.1,165.4 L217.2,165.4 L217.4,165.4 L217.5,165.4 L217.6,165.4 L217.8,165.4 L217.9,165.4 L218,165.4 L218.2,165.4 L218.3,165.4 L218.4,165.4 L218.6,165.4 L218.7,165.4 L218.8,165.4 L219,165.4 L219.1,165.4 L219.2,165.4 L219.4,165.4 L219.5,165.4 L219.6,165.4 L219.8,165.4 L219.9,165.4 L220,165.4 L220.2,165.4 L220.3,165.4 L220.4,165.4 L220.6,165.4 L220.7,165.4 L220.8,165.4 L221,165.4 L221.1,165.4 L221.2,165.4 L221.4,165.4 L221.5,165.4 L221.6,165.4 L221.8,165.4 L221.9,165.4 L222,165.4 L222.2,165.4 L222.3,165.4 L222.4,165.4 L222.5,165.4 L222.7,165.4 L222.8,165.4 L222.9,165.4 L223.1,165.4 L223.2,165.4 L223.3,165.4 L223.5,165.4 L223.6,165.4 L223.7,165.4 L223.9,165.4 L224,165.4 L224.1,165.4 L224.3,165.4 L224.4,165.4 L224.5,165.4 L224.7,165.4 L224.8,165.4 L224.9,165.4 L225.1,165.4 L225.2,165.4 L225.3,165.4 L225.5,165.4 L225.6,165.4 L225.7,165.4 L225.9,165.4 L226,165.4 L226.1,165.4 L226.3,165.4 L226.4,165.4 L226.5,165.4 L226.7,165.4 L226.8,165.4 L226.9,165.4 L227.1,165.4 L227.2,165.4 L227.3,165.4 L227.5,165.4 L227.6,165.4 L227.7,165.4 L227.9,165.4 L228,165.4 L228.1,165.4 L228.3,165.4 L228.4,165.4 L228.5,165.4 L228.6,165.4 L228.8,165.4 L228.9,165.4 L229,165.4 L229.2,165.4 L229.3,165.4 L229.4,165.4 L229.6,165.4 L229.7,165.4 L229.8,165.4 L230,165.4 L230.1,165.4 L230.2,165.4 L230.4,165.4 L230.5,165.4 L230.6,165.4 L230.8,165.4 L230.9,165.4 L231,165.3 L231.2,165.3 L231.3,165.3 L231.4,165.2 L231.6,165.1 L231.7,164.9 L231.8,164.7 L232,164.3 L232.1,164 L232.2,163.7 L232.4,163.6 L232.5,163.7 L232.6,164 L232.8,164.3 L232.9,164.7 L233,164.9 L233.2,165.1 L233.3,165.2 L233.4,165.3 L233.6,165.3 L233.7,165.3 L233.8,165.4 L234,165.4 L234.1,165.4 L234.2,165.4 L234.4,165.4 L234.5,165.4 L234.6,165.4 L234.8,165.4 L234.9,165.4 L235,165.4 L235.1,165.4 L235.3,165.4 L235.4,165.4 L235.5,165.4 L235.7,165.4 L235.8,165.4 L235.9,165.4 L236.1,165.4 L236.2,165.4 L236.3,165.4 L236.5,165.4 L236.6,165.4 L236.7,165.4 L236.9,165.4 L237,165.4 L237.1,165.4 L237.3,165.4 L237.4,165.4 L237.5,165.4 L237.7,165.4 L237.8,165.4 L237.9,165.4 L238.1,165.4 L238.2,165.4 L238.3,165.4 L238.5,165.4 L238.6,165.4 L238.7,165.4 L238.9,165.4 L239,165.4 L239.1,165.4 L239.3,165.4 L239.4,165.4 L239.5,165.4 L239.7,165.4 L239.8,165.4 L239.9,165.4 L240.1,165.4 L240.2,165.4 L240.3,165.4 L240.5,165.4 L240.6,165.4 L240.7,165.4 L240.9,165.4 L241,165.4 L241.1,165.4 L241.2,165.4 L241.4,165.4 L241.5,165.4 L241.6,165.4 L241.8,165.4 L241.9,165.4 L242,165.4 L242.2,165.4 L242.3,165.4 L242.4,165.4 L242.6,165.4 L242.7,165.4 L242.8,165.4 L243,165.4 L243.1,165.4 L243.2,165.4 L243.4,165.4 L243.5,165.4 L243.6,165.4 L243.8,165.4 L243.9,165.4 L244,165.4 L244.2,165.4 L244.3,165.4 L244.4,165.4 L244.6,165.4 L244.7,165.4 L244.8,165.4 L245,165.4 L245.1,165.4 L245.2,165.4 L245.4,165.4 L245.5,165.3 L245.6,165.3 L245.8,165.3 L245.9,165.2 L246,165.1 L246.2,164.9 L246.3,164.6 L246.4,164.4 L246.6,164.2 L246.7,164.1 L246.8,164.2 L247,164.4 L247.1,164.6 L247.2,164.9 L247.3,165.1 L247.5,165.2 L247.6,165.3 L247.7,165.3 L247.9,165.3 L248,165.4 L248.1,165.4 L248.3,165.4 L248.4,165.4 L248.5,165.4 L248.7,165.4 L248.8,165.4 L248.9,165.4 L249.1,165.4 L249.2,165.4 L249.3,165.4 L249.5,165.4 L249.6,165.4 L249.7,165.4 L249.9,165.4 L250,165.4 L250.1,165.4 L250.3,165.4 L250.4,165.4" fill="none" stroke="#4a4a66" stroke-width="1.15" stroke-linejoin="round"/>
<text x="217" y="164" style="font-family:'Liberation Serif',serif;font-size:9.7px;font-weight:normal" text-anchor="start" fill="#333" stroke="#333" stroke-width="0.25" >0h</text>
<circle cx="87.1" cy="151.6" r="1" fill="#222"/>
<circle cx="103.2" cy="144.6" r="0.9" fill="#222"/>
<circle cx="122.5" cy="158.6" r="0.9" fill="#222"/>
<circle cx="187.8" cy="160.7" r="0.9" fill="#222"/>
<circle cx="193.1" cy="160.7" r="0.9" fill="#222"/>
<circle cx="231.9" cy="161.8" r="0.9" fill="#222"/>
<circle cx="156.9" cy="161" r="0.8" fill="#222"/>
<circle cx="203.2" cy="162.6" r="0.8" fill="#222"/>
<circle cx="246.3" cy="163.3" r="0.8" fill="#222"/>
<circle cx="104.2" cy="152.1" r="1.3" fill="#222"/>
<circle cx="102.4" cy="34" r="1.3" fill="#111"/>
<circle cx="155.4" cy="37.4" r="1.3" fill="#111"/>
<circle cx="202" cy="37.4" r="1.3" fill="#111"/>
<circle cx="246.6" cy="37.5" r="1.3" fill="#111"/>
<rect x="38.2" y="12" width="212.2" height="156" fill="none" stroke="#858585" stroke-width="1.2"/>
<line x1="38.2" y1="168" x2="38.2" y2="165" stroke="#666" stroke-width="0.9"/>
<text x="38.2" y="178.6" style="font-family:'Liberation Sans',sans-serif;font-size:9.4px;font-weight:normal" text-anchor="middle" fill="#141414" stroke="#141414" stroke-width="0.25" >20</text>
<line x1="51.5" y1="168" x2="51.5" y2="166" stroke="#666" stroke-width="0.9"/>
<line x1="64.7" y1="168" x2="64.7" y2="165" stroke="#666" stroke-width="0.9"/>
<text x="64.7" y="178.6" style="font-family:'Liberation Sans',sans-serif;font-size:9.4px;font-weight:normal" text-anchor="middle" fill="#141414" stroke="#141414" stroke-width="0.25" >30</text>
<line x1="78" y1="168" x2="78" y2="166" stroke="#666" stroke-width="0.9"/>
<line x1="91.2" y1="168" x2="91.2" y2="165" stroke="#666" stroke-width="0.9"/>
<text x="91.2" y="178.6" style="font-family:'Liberation Sans',sans-serif;font-size:9.4px;font-weight:normal" text-anchor="middle" fill="#141414" stroke="#141414" stroke-width="0.25" >40</text>
<line x1="104.5" y1="168" x2="104.5" y2="166" stroke="#666" stroke-width="0.9"/>
<line x1="117.8" y1="168" x2="117.8" y2="165" stroke="#666" stroke-width="0.9"/>
<text x="117.8" y="178.6" style="font-family:'Liberation Sans',sans-serif;font-size:9.4px;font-weight:normal" text-anchor="middle" fill="#141414" stroke="#141414" stroke-width="0.25" >50</text>
<line x1="131" y1="168" x2="131" y2="166" stroke="#666" stroke-width="0.9"/>
<line x1="144.3" y1="168" x2="144.3" y2="165" stroke="#666" stroke-width="0.9"/>
<text x="144.3" y="178.6" style="font-family:'Liberation Sans',sans-serif;font-size:9.4px;font-weight:normal" text-anchor="middle" fill="#141414" stroke="#141414" stroke-width="0.25" >60</text>
<line x1="157.6" y1="168" x2="157.6" y2="166" stroke="#666" stroke-width="0.9"/>
<line x1="170.8" y1="168" x2="170.8" y2="165" stroke="#666" stroke-width="0.9"/>
<text x="170.8" y="178.6" style="font-family:'Liberation Sans',sans-serif;font-size:9.4px;font-weight:normal" text-anchor="middle" fill="#141414" stroke="#141414" stroke-width="0.25" >70</text>
<line x1="184.1" y1="168" x2="184.1" y2="166" stroke="#666" stroke-width="0.9"/>
<line x1="197.4" y1="168" x2="197.4" y2="165" stroke="#666" stroke-width="0.9"/>
<text x="197.4" y="178.6" style="font-family:'Liberation Sans',sans-serif;font-size:9.4px;font-weight:normal" text-anchor="middle" fill="#141414" stroke="#141414" stroke-width="0.25" >80</text>
<line x1="210.6" y1="168" x2="210.6" y2="166" stroke="#666" stroke-width="0.9"/>
<line x1="223.9" y1="168" x2="223.9" y2="165" stroke="#666" stroke-width="0.9"/>
<text x="223.9" y="178.6" style="font-family:'Liberation Sans',sans-serif;font-size:9.4px;font-weight:normal" text-anchor="middle" fill="#141414" stroke="#141414" stroke-width="0.25" >90</text>
<line x1="237.1" y1="168" x2="237.1" y2="166" stroke="#666" stroke-width="0.9"/>
<line x1="250.4" y1="168" x2="250.4" y2="165" stroke="#666" stroke-width="0.9"/>
<text x="250.4" y="178.6" style="font-family:'Liberation Sans',sans-serif;font-size:9.4px;font-weight:normal" text-anchor="middle" fill="#141414" stroke="#141414" stroke-width="0.25" >100</text>
<text x="144" y="194" style="font-family:'Liberation Serif',serif;font-size:10.5px;font-weight:bold" text-anchor="middle" fill="#111" stroke="#111" stroke-width="0.08" >2θ (<tspan font-size="7" dy="-2.5">o</tspan><tspan dy="2.5">)</tspan></text>
<text x="27.6" y="89.4" style="font-family:'Liberation Serif',serif;font-size:10.2px;font-weight:bold" text-anchor="middle" fill="#111" stroke="#111" stroke-width="0.08" transform="rotate(-90 27.6 89.4)" >Intensity (a.u.)</text>
<text x="11.3" y="25.6" style="font-family:'Liberation Serif',serif;font-size:15px;font-weight:normal" text-anchor="start" fill="#111" stroke="#111" stroke-width="0.25" >(a)</text>
<circle cx="192.4" cy="6.8" r="2.6" fill="none" stroke="#333" stroke-width="0.75"/><path d="M190.9,5.3 L193.9,8.3 M190.9,8.3 L193.9,5.3" stroke="#333" stroke-width="0.6"/>
<path d="M41.7,4.2 L44,6.9 L41.7,9.6 L39.4,6.9 Z" fill="#111"/>
<text x="59.3" y="9.8" style="font-family:'Liberation Serif',serif;font-size:9.5px;font-weight:normal" text-anchor="start" fill="#111" stroke="#111" stroke-width="0.25" >♣</text>
<circle cx="83" cy="6.6" r="1.25" fill="#555"/><path d="M148.3,4.1 L155.1,4.1 L151.7,9.6 Z" fill="none" stroke="#222" stroke-width="0.8" stroke-linejoin="round"/>
<circle cx="121.6" cy="7.0" r="1.6" fill="#111"/>
<text x="45.3" y="9.6" style="font-family:'Liberation Serif',serif;font-size:9.6px;font-weight:normal" text-anchor="start" fill="#222" stroke="#222" stroke-width="0.25" >Ni</text>
<text x="65" y="9.6" style="font-family:'Liberation Serif',serif;font-size:9.6px;font-weight:normal" text-anchor="start" fill="#222" stroke="#222" stroke-width="0.25" >Al</text>
<text x="85.4" y="9.6" style="font-family:'Liberation Serif',serif;font-size:9.6px;font-weight:normal" text-anchor="start" fill="#222" stroke="#222" stroke-width="0.25" >Fe</text>
<text x="100" y="9.6" style="font-family:'Liberation Serif',serif;font-size:9.6px;font-weight:normal" text-anchor="start" fill="#222" stroke="#222" stroke-width="0.25" >ΔCr</text>
<text x="124" y="9.6" style="font-family:'Liberation Serif',serif;font-size:9.6px;font-weight:normal" text-anchor="start" fill="#222" stroke="#222" stroke-width="0.25" >BCC</text>
<text x="155.6" y="9.6" style="font-family:'Liberation Serif',serif;font-size:9.6px;font-weight:normal" text-anchor="start" fill="#222" stroke="#222" stroke-width="0.25" >M23C6</text>
<text x="195.8" y="9.6" style="font-family:'Liberation Serif',serif;font-size:9.6px;font-weight:normal" text-anchor="start" fill="#222" stroke="#222" stroke-width="0.25" >Oxides</text>
<rect x="38" y="14.2" width="37.2" height="15" fill="#fff" stroke="#c4c4c4" stroke-width="0.7"/>
<line x1="38" y1="27.2" x2="75.2" y2="27.2" stroke="#f47e7e" stroke-width="0.55"/>
<circle cx="50.7" cy="23.6" r="2.1" fill="none" stroke="#222" stroke-width="0.9"/><path d="M49.300000000000004,22.200000000000003 L52.1,25.0 M49.300000000000004,25.0 L52.1,22.200000000000003" stroke="#222" stroke-width="0.7"/>
<circle cx="68.2" cy="23.6" r="2.1" fill="none" stroke="#222" stroke-width="0.9"/><path d="M66.8,22.200000000000003 L69.60000000000001,25.0 M66.8,25.0 L69.60000000000001,22.200000000000003" stroke="#222" stroke-width="0.7"/>
<text x="56.1" y="35.8" style="font-family:'Liberation Sans',sans-serif;font-size:6.9px;font-weight:bold" text-anchor="middle" fill="#141414" stroke="#141414" stroke-width="0.08" >30 33 36</text>
<path d="M75.2,29.2 L87.4,38.5" stroke="#c8c8c8" stroke-width="0.6" fill="none"/>
<rect x="58" y="38.3" width="29.4" height="2.2" fill="none" stroke="#c9d9e0" stroke-width="0.6"/>
<rect x="111.1" y="14.2" width="25.4" height="15" fill="#fff" stroke="#c4c4c4" stroke-width="0.7"/>
<line x1="111.1" y1="24.5" x2="136.5" y2="24.5" stroke="#f47e7e" stroke-width="0.7"/>
<text x="121.5" y="22.8" style="font-family:'Liberation Serif',serif;font-size:7px;font-weight:normal" text-anchor="middle" fill="#222" stroke="#222" stroke-width="0.25" >∇</text>
<text x="120.3" y="35.4" style="font-family:'Liberation Sans',sans-serif;font-size:6.5px;font-weight:bold" text-anchor="middle" fill="#141414" stroke="#141414" stroke-width="0.08" letter-spacing="-0.2">50 52 54</text>
<path d="M135.3,30.9 L133.4,37.8" stroke="#c8c8c8" stroke-width="0.6" fill="none"/>
<rect x="117.2" y="37.8" width="16.2" height="3.2" fill="none" stroke="#c9d9e0" stroke-width="0.6"/>
<path d="M326,27.4 L536,28.6 L536,31.5 L326,31.5 Z" fill="#f1f1f1"/>
<path d="M326,26.1 L327,26.1 L328,26.1 L329,26 L330,26 L331,26 L332,26 L333,25.9 L334,25.9 L335,25.9 L336,25.8 L337,25.8 L338,25.8 L339,25.7 L340,25.7 L341,25.6 L342,25.6 L343,25.5 L344,25.5 L345,25.4 L346,25.4 L347,25.3 L348,25.3 L349,25.2 L350,25.2 L351,25.1 L352,25 L353,25 L354,24.9 L355,24.8 L356,24.7 L357,24.6 L358,24.6 L359,24.5 L360,24.4 L361,24.3 L362,24.2 L363,24.1 L364,24 L365,23.9 L366,23.8 L367,23.7 L368,23.5 L369,23.4 L370,23.3 L371,23.2 L372,23 L373,22.9 L374,22.8 L375,22.6 L376,22.5 L377,22.3 L378,22.2 L379,22 L380,21.8 L381,21.7 L382,21.5 L383,21.3 L384,21.2 L385,21 L386,20.8 L387,20.6 L388,20.4 L389,20.3 L390,20.1 L391,19.9 L392,19.7 L393,19.5 L394,19.3 L395,19.1 L396,18.9 L397,18.7 L398,18.5 L399,18.3 L400,18.1 L401,17.9 L402,17.7 L403,17.5 L404,17.3 L405,17.1 L406,16.9 L407,16.7 L408,16.5 L409,16.4 L410,16.2 L411,16 L412,15.9 L413,15.7 L414,15.6 L415,15.4 L416,15.3 L417,15.2 L418,15.1 L419,15 L420,14.9 L421,14.8 L422,14.8 L423,14.7 L424,14.7 L425,14.7 L426,14.7 L427,14.7 L428,14.7 L429,14.8 L430,14.8 L431,14.9 L432,15.1 L433,15.2 L434,15.4 L435,15.5 L436,15.7 L437,15.9 L438,16.1 L439,16.4 L440,16.6 L441,16.9 L442,17.1 L443,17.4 L444,17.7 L445,18 L446,18.2 L447,18.5 L448,18.8 L449,19.1 L450,19.4 L451,19.6 L452,19.9 L453,20.2 L454,20.5 L455,20.7 L456,21 L457,21.3 L458,21.5 L459,21.8 L460,22 L461,22.2 L462,22.5 L463,22.7 L464,22.9 L465,23.1 L466,23.3 L467,23.5 L468,23.7 L469,23.9 L470,24.1 L471,24.2 L472,24.4 L473,24.6 L474,24.7 L475,24.9 L476,25 L477,25.1 L478,25.3 L479,25.4 L480,25.5 L481,25.6 L482,25.7 L483,25.8 L484,25.9 L485,26 L486,26.1 L487,26.2 L488,26.3 L489,26.4 L490,26.4 L491,26.5 L492,26.6 L493,26.6 L494,26.7 L495,26.8 L496,26.8 L497,26.9 L498,26.9 L499,27 L500,27 L501,27.1 L502,27.1 L503,27.2 L504,27.2 L505,27.2 L506,27.3 L507,27.3 L508,27.4 L509,27.4 L510,27.4 L511,27.4 L512,27.5 L513,27.5 L514,27.5 L515,27.6 L516,27.6 L517,27.6 L518,27.6 L519,27.7 L520,27.7 L521,27.7 L522,27.7 L523,27.7 L524,27.8 L525,27.8 L526,27.8 L527,27.8 L528,27.8 L529,27.9 L530,27.9 L531,27.9 L532,27.9 L533,27.9 L534,28 L535,28 L536,28 L536,28.6 L326,27.4 Z" fill="#fdf0f0" stroke="none"/>
<line x1="326" y1="27.4" x2="536" y2="28.6" stroke="#f58a8a" stroke-width="1.0"/>
<path d="M326,26.1 L327,26.1 L328,26.1 L329,26 L330,26 L331,26 L332,26 L333,25.9 L334,25.9 L335,25.9 L336,25.8 L337,25.8 L338,25.8 L339,25.7 L340,25.7 L341,25.6 L342,25.6 L343,25.5 L344,25.5 L345,25.4 L346,25.4 L347,25.3 L348,25.3 L349,25.2 L350,25.2 L351,25.1 L352,25 L353,25 L354,24.9 L355,24.8 L356,24.7 L357,24.6 L358,24.6 L359,24.5 L360,24.4 L361,24.3 L362,24.2 L363,24.1 L364,24 L365,23.9 L366,23.8 L367,23.7 L368,23.5 L369,23.4 L370,23.3 L371,23.2 L372,23 L373,22.9 L374,22.8 L375,22.6 L376,22.5 L377,22.3 L378,22.2 L379,22 L380,21.8 L381,21.7 L382,21.5 L383,21.3 L384,21.2 L385,21 L386,20.8 L387,20.6 L388,20.4 L389,20.3 L390,20.1 L391,19.9 L392,19.7 L393,19.5 L394,19.3 L395,19.1 L396,18.9 L397,18.7 L398,18.5 L399,18.3 L400,18.1 L401,17.9 L402,17.7 L403,17.5 L404,17.3 L405,17.1 L406,16.9 L407,16.7 L408,16.5 L409,16.4 L410,16.2 L411,16 L412,15.9 L413,15.7 L414,15.6 L415,15.4 L416,15.3 L417,15.2 L418,15.1 L419,15 L420,14.9 L421,14.8 L422,14.8 L423,14.7 L424,14.7 L425,14.7 L426,14.7 L427,14.7 L428,14.7 L429,14.8 L430,14.8 L431,14.9 L432,15.1 L433,15.2 L434,15.4 L435,15.5 L436,15.7 L437,15.9 L438,16.1 L439,16.4 L440,16.6 L441,16.9 L442,17.1 L443,17.4 L444,17.7 L445,18 L446,18.2 L447,18.5 L448,18.8 L449,19.1 L450,19.4 L451,19.6 L452,19.9 L453,20.2 L454,20.5 L455,20.7 L456,21 L457,21.3 L458,21.5 L459,21.8 L460,22 L461,22.2 L462,22.5 L463,22.7 L464,22.9 L465,23.1 L466,23.3 L467,23.5 L468,23.7 L469,23.9 L470,24.1 L471,24.2 L472,24.4 L473,24.6 L474,24.7 L475,24.9 L476,25 L477,25.1 L478,25.3 L479,25.4 L480,25.5 L481,25.6 L482,25.7 L483,25.8 L484,25.9 L485,26 L486,26.1 L487,26.2 L488,26.3 L489,26.4 L490,26.4 L491,26.5 L492,26.6 L493,26.6 L494,26.7 L495,26.8 L496,26.8 L497,26.9 L498,26.9 L499,27 L500,27 L501,27.1 L502,27.1 L503,27.2 L504,27.2 L505,27.2 L506,27.3 L507,27.3 L508,27.4 L509,27.4 L510,27.4 L511,27.4 L512,27.5 L513,27.5 L514,27.5 L515,27.6 L516,27.6 L517,27.6 L518,27.6 L519,27.7 L520,27.7 L521,27.7 L522,27.7 L523,27.7 L524,27.8 L525,27.8 L526,27.8 L527,27.8 L528,27.8 L529,27.9 L530,27.9 L531,27.9 L532,27.9 L533,27.9 L534,28 L535,28 L536,28" fill="none" stroke="#f58a8a" stroke-width="0.95"/>
<line x1="426.5" y1="12" x2="426.5" y2="31.5" stroke="#9c9c9c" stroke-width="0.45"/>
<line x1="326" y1="31.5" x2="326" y2="28.9" stroke="#777" stroke-width="0.8"/>
<line x1="343.5" y1="31.5" x2="343.5" y2="29.7" stroke="#777" stroke-width="0.8"/>
<line x1="361" y1="31.5" x2="361" y2="28.9" stroke="#777" stroke-width="0.8"/>
<line x1="378.5" y1="31.5" x2="378.5" y2="29.7" stroke="#777" stroke-width="0.8"/>
<line x1="396" y1="31.5" x2="396" y2="28.9" stroke="#777" stroke-width="0.8"/>
<line x1="413.5" y1="31.5" x2="413.5" y2="29.7" stroke="#777" stroke-width="0.8"/>
<line x1="431" y1="31.5" x2="431" y2="28.9" stroke="#777" stroke-width="0.8"/>
<line x1="448.5" y1="31.5" x2="448.5" y2="29.7" stroke="#777" stroke-width="0.8"/>
<line x1="466" y1="31.5" x2="466" y2="28.9" stroke="#777" stroke-width="0.8"/>
<line x1="483.5" y1="31.5" x2="483.5" y2="29.7" stroke="#777" stroke-width="0.8"/>
<line x1="501" y1="31.5" x2="501" y2="28.9" stroke="#777" stroke-width="0.8"/>
<line x1="518.5" y1="31.5" x2="518.5" y2="29.7" stroke="#777" stroke-width="0.8"/>
<line x1="536" y1="31.5" x2="536" y2="28.9" stroke="#777" stroke-width="0.8"/>
<line x1="326" y1="31.5" x2="536" y2="31.5" stroke="#b4b4b4" stroke-width="1.1"/>
<rect x="326.6" y="12.7" width="40" height="11.7" fill="#fff" stroke="#dadada" stroke-width="0.6"/>
<rect x="327.6" y="13.6" width="20" height="9.6" fill="#fde6e6" stroke="#f9bebe" stroke-width="1"/>
<text x="349.8" y="21.4" style="font-family:'Liberation Sans',sans-serif;font-size:9.3px;font-weight:normal" text-anchor="start" fill="#111" stroke="#111" stroke-width="0.25" >40h</text>
<path d="M326,46.2 L536,47.4 L536,51 L326,51 Z" fill="#f1f1f1"/>
<path d="M326,44.9 L327,44.8 L328,44.8 L329,44.8 L330,44.7 L331,44.7 L332,44.7 L333,44.6 L334,44.6 L335,44.5 L336,44.5 L337,44.4 L338,44.4 L339,44.3 L340,44.3 L341,44.2 L342,44.1 L343,44.1 L344,44 L345,43.9 L346,43.9 L347,43.8 L348,43.7 L349,43.6 L350,43.5 L351,43.5 L352,43.4 L353,43.3 L354,43.2 L355,43.1 L356,43 L357,42.9 L358,42.8 L359,42.7 L360,42.5 L361,42.4 L362,42.3 L363,42.2 L364,42.1 L365,41.9 L366,41.8 L367,41.7 L368,41.5 L369,41.4 L370,41.2 L371,41.1 L372,40.9 L373,40.8 L374,40.6 L375,40.5 L376,40.3 L377,40.1 L378,40 L379,39.8 L380,39.6 L381,39.4 L382,39.3 L383,39.1 L384,38.9 L385,38.7 L386,38.6 L387,38.4 L388,38.2 L389,38 L390,37.8 L391,37.6 L392,37.5 L393,37.3 L394,37.1 L395,36.9 L396,36.7 L397,36.6 L398,36.4 L399,36.2 L400,36 L401,35.9 L402,35.7 L403,35.6 L404,35.4 L405,35.3 L406,35.1 L407,35 L408,34.9 L409,34.7 L410,34.6 L411,34.5 L412,34.4 L413,34.3 L414,34.2 L415,34.2 L416,34.1 L417,34.1 L418,34 L419,34 L420,34 L421,34 L422,33.9 L423,34 L424,34 L425,34.1 L426,34.1 L427,34.2 L428,34.3 L429,34.5 L430,34.6 L431,34.8 L432,35 L433,35.2 L434,35.4 L435,35.6 L436,35.9 L437,36.1 L438,36.4 L439,36.7 L440,36.9 L441,37.2 L442,37.5 L443,37.7 L444,38 L445,38.3 L446,38.6 L447,38.9 L448,39.1 L449,39.4 L450,39.7 L451,40 L452,40.2 L453,40.5 L454,40.7 L455,41 L456,41.2 L457,41.5 L458,41.7 L459,41.9 L460,42.1 L461,42.4 L462,42.6 L463,42.8 L464,42.9 L465,43.1 L466,43.3 L467,43.5 L468,43.7 L469,43.8 L470,44 L471,44.1 L472,44.2 L473,44.4 L474,44.5 L475,44.6 L476,44.7 L477,44.9 L478,45 L479,45.1 L480,45.2 L481,45.3 L482,45.3 L483,45.4 L484,45.5 L485,45.6 L486,45.6 L487,45.7 L488,45.8 L489,45.8 L490,45.9 L491,45.9 L492,46 L493,46 L494,46.1 L495,46.1 L496,46.2 L497,46.2 L498,46.2 L499,46.3 L500,46.3 L501,46.3 L502,46.4 L503,46.4 L504,46.4 L505,46.5 L506,46.5 L507,46.5 L508,46.5 L509,46.6 L510,46.6 L511,46.6 L512,46.6 L513,46.6 L514,46.7 L515,46.7 L516,46.7 L517,46.7 L518,46.7 L519,46.8 L520,46.8 L521,46.8 L522,46.8 L523,46.8 L524,46.8 L525,46.9 L526,46.9 L527,46.9 L528,46.9 L529,46.9 L530,46.9 L531,46.9 L532,47 L533,47 L534,47 L535,47 L536,47 L536,47.4 L326,46.2 Z" fill="#f0f6f6" stroke="none"/>
<line x1="326" y1="46.2" x2="536" y2="47.4" stroke="#4bb5b5" stroke-width="1.0"/>
<path d="M326,44.9 L327,44.8 L328,44.8 L329,44.8 L330,44.7 L331,44.7 L332,44.7 L333,44.6 L334,44.6 L335,44.5 L336,44.5 L337,44.4 L338,44.4 L339,44.3 L340,44.3 L341,44.2 L342,44.1 L343,44.1 L344,44 L345,43.9 L346,43.9 L347,43.8 L348,43.7 L349,43.6 L350,43.5 L351,43.5 L352,43.4 L353,43.3 L354,43.2 L355,43.1 L356,43 L357,42.9 L358,42.8 L359,42.7 L360,42.5 L361,42.4 L362,42.3 L363,42.2 L364,42.1 L365,41.9 L366,41.8 L367,41.7 L368,41.5 L369,41.4 L370,41.2 L371,41.1 L372,40.9 L373,40.8 L374,40.6 L375,40.5 L376,40.3 L377,40.1 L378,40 L379,39.8 L380,39.6 L381,39.4 L382,39.3 L383,39.1 L384,38.9 L385,38.7 L386,38.6 L387,38.4 L388,38.2 L389,38 L390,37.8 L391,37.6 L392,37.5 L393,37.3 L394,37.1 L395,36.9 L396,36.7 L397,36.6 L398,36.4 L399,36.2 L400,36 L401,35.9 L402,35.7 L403,35.6 L404,35.4 L405,35.3 L406,35.1 L407,35 L408,34.9 L409,34.7 L410,34.6 L411,34.5 L412,34.4 L413,34.3 L414,34.2 L415,34.2 L416,34.1 L417,34.1 L418,34 L419,34 L420,34 L421,34 L422,33.9 L423,34 L424,34 L425,34.1 L426,34.1 L427,34.2 L428,34.3 L429,34.5 L430,34.6 L431,34.8 L432,35 L433,35.2 L434,35.4 L435,35.6 L436,35.9 L437,36.1 L438,36.4 L439,36.7 L440,36.9 L441,37.2 L442,37.5 L443,37.7 L444,38 L445,38.3 L446,38.6 L447,38.9 L448,39.1 L449,39.4 L450,39.7 L451,40 L452,40.2 L453,40.5 L454,40.7 L455,41 L456,41.2 L457,41.5 L458,41.7 L459,41.9 L460,42.1 L461,42.4 L462,42.6 L463,42.8 L464,42.9 L465,43.1 L466,43.3 L467,43.5 L468,43.7 L469,43.8 L470,44 L471,44.1 L472,44.2 L473,44.4 L474,44.5 L475,44.6 L476,44.7 L477,44.9 L478,45 L479,45.1 L480,45.2 L481,45.3 L482,45.3 L483,45.4 L484,45.5 L485,45.6 L486,45.6 L487,45.7 L488,45.8 L489,45.8 L490,45.9 L491,45.9 L492,46 L493,46 L494,46.1 L495,46.1 L496,46.2 L497,46.2 L498,46.2 L499,46.3 L500,46.3 L501,46.3 L502,46.4 L503,46.4 L504,46.4 L505,46.5 L506,46.5 L507,46.5 L508,46.5 L509,46.6 L510,46.6 L511,46.6 L512,46.6 L513,46.6 L514,46.7 L515,46.7 L516,46.7 L517,46.7 L518,46.7 L519,46.8 L520,46.8 L521,46.8 L522,46.8 L523,46.8 L524,46.8 L525,46.9 L526,46.9 L527,46.9 L528,46.9 L529,46.9 L530,46.9 L531,46.9 L532,47 L533,47 L534,47 L535,47 L536,47" fill="none" stroke="#4bb5b5" stroke-width="0.95"/>
<line x1="422.2" y1="31.5" x2="422.2" y2="51" stroke="#9c9c9c" stroke-width="0.45"/>
<line x1="326" y1="51" x2="326" y2="48.4" stroke="#777" stroke-width="0.8"/>
<line x1="343.5" y1="51" x2="343.5" y2="49.2" stroke="#777" stroke-width="0.8"/>
<line x1="361" y1="51" x2="361" y2="48.4" stroke="#777" stroke-width="0.8"/>
<line x1="378.5" y1="51" x2="378.5" y2="49.2" stroke="#777" stroke-width="0.8"/>
<line x1="396" y1="51" x2="396" y2="48.4" stroke="#777" stroke-width="0.8"/>
<line x1="413.5" y1="51" x2="413.5" y2="49.2" stroke="#777" stroke-width="0.8"/>
<line x1="431" y1="51" x2="431" y2="48.4" stroke="#777" stroke-width="0.8"/>
<line x1="448.5" y1="51" x2="448.5" y2="49.2" stroke="#777" stroke-width="0.8"/>
<line x1="466" y1="51" x2="466" y2="48.4" stroke="#777" stroke-width="0.8"/>
<line x1="483.5" y1="51" x2="483.5" y2="49.2" stroke="#777" stroke-width="0.8"/>
<line x1="501" y1="51" x2="501" y2="48.4" stroke="#777" stroke-width="0.8"/>
<line x1="518.5" y1="51" x2="518.5" y2="49.2" stroke="#777" stroke-width="0.8"/>
<line x1="536" y1="51" x2="536" y2="48.4" stroke="#777" stroke-width="0.8"/>
<line x1="326" y1="51" x2="536" y2="51" stroke="#b4b4b4" stroke-width="1.1"/>
<rect x="326.6" y="32.2" width="40" height="11.7" fill="#fff" stroke="#dadada" stroke-width="0.6"/>
<rect x="327.6" y="33.1" width="20" height="9.6" fill="#e6f1f1" stroke="#9cd6d6" stroke-width="1"/>
<text x="349.8" y="40.9" style="font-family:'Liberation Sans',sans-serif;font-size:9.3px;font-weight:normal" text-anchor="start" fill="#111" stroke="#111" stroke-width="0.25" >35h</text>
<path d="M326,66 L536,67.2 L536,70.5 L326,70.5 Z" fill="#f1f1f1"/>
<path d="M326,65.1 L327,65.1 L328,65 L329,65 L330,65 L331,65 L332,65 L333,64.9 L334,64.9 L335,64.9 L336,64.9 L337,64.9 L338,64.8 L339,64.8 L340,64.8 L341,64.7 L342,64.7 L343,64.7 L344,64.6 L345,64.6 L346,64.6 L347,64.5 L348,64.5 L349,64.4 L350,64.4 L351,64.3 L352,64.3 L353,64.2 L354,64.2 L355,64.1 L356,64 L357,64 L358,63.9 L359,63.8 L360,63.7 L361,63.7 L362,63.6 L363,63.5 L364,63.4 L365,63.3 L366,63.2 L367,63.1 L368,62.9 L369,62.8 L370,62.7 L371,62.6 L372,62.4 L373,62.3 L374,62.1 L375,62 L376,61.8 L377,61.7 L378,61.5 L379,61.3 L380,61.1 L381,60.9 L382,60.8 L383,60.6 L384,60.4 L385,60.1 L386,59.9 L387,59.7 L388,59.5 L389,59.3 L390,59 L391,58.8 L392,58.6 L393,58.3 L394,58.1 L395,57.8 L396,57.6 L397,57.3 L398,57.1 L399,56.8 L400,56.5 L401,56.3 L402,56 L403,55.8 L404,55.5 L405,55.3 L406,55.1 L407,54.8 L408,54.6 L409,54.4 L410,54.2 L411,54 L412,53.9 L413,53.7 L414,53.6 L415,53.4 L416,53.3 L417,53.2 L418,53.2 L419,53.1 L420,53.1 L421,53 L422,53.1 L423,53.1 L424,53.1 L425,53.2 L426,53.3 L427,53.4 L428,53.6 L429,53.8 L430,53.9 L431,54.1 L432,54.4 L433,54.6 L434,54.8 L435,55.1 L436,55.3 L437,55.6 L438,55.9 L439,56.2 L440,56.5 L441,56.7 L442,57 L443,57.3 L444,57.6 L445,57.9 L446,58.2 L447,58.5 L448,58.8 L449,59 L450,59.3 L451,59.6 L452,59.8 L453,60.1 L454,60.4 L455,60.6 L456,60.8 L457,61.1 L458,61.3 L459,61.5 L460,61.7 L461,61.9 L462,62.1 L463,62.3 L464,62.5 L465,62.7 L466,62.9 L467,63 L468,63.2 L469,63.3 L470,63.5 L471,63.6 L472,63.8 L473,63.9 L474,64 L475,64.1 L476,64.2 L477,64.4 L478,64.5 L479,64.6 L480,64.6 L481,64.7 L482,64.8 L483,64.9 L484,65 L485,65.1 L486,65.1 L487,65.2 L488,65.3 L489,65.3 L490,65.4 L491,65.4 L492,65.5 L493,65.5 L494,65.6 L495,65.6 L496,65.7 L497,65.7 L498,65.8 L499,65.8 L500,65.8 L501,65.9 L502,65.9 L503,65.9 L504,66 L505,66 L506,66 L507,66.1 L508,66.1 L509,66.1 L510,66.1 L511,66.2 L512,66.2 L513,66.2 L514,66.2 L515,66.3 L516,66.3 L517,66.3 L518,66.3 L519,66.4 L520,66.4 L521,66.4 L522,66.4 L523,66.4 L524,66.4 L525,66.5 L526,66.5 L527,66.5 L528,66.5 L529,66.5 L530,66.6 L531,66.6 L532,66.6 L533,66.6 L534,66.6 L535,66.6 L536,66.6 L536,67.2 L326,66 Z" fill="#f3f3f3" stroke="none"/>
<line x1="326" y1="66" x2="536" y2="67.2" stroke="#d49aa5" stroke-width="1.0"/>
<path d="M326,65.1 L327,65.1 L328,65 L329,65 L330,65 L331,65 L332,65 L333,64.9 L334,64.9 L335,64.9 L336,64.9 L337,64.9 L338,64.8 L339,64.8 L340,64.8 L341,64.7 L342,64.7 L343,64.7 L344,64.6 L345,64.6 L346,64.6 L347,64.5 L348,64.5 L349,64.4 L350,64.4 L351,64.3 L352,64.3 L353,64.2 L354,64.2 L355,64.1 L356,64 L357,64 L358,63.9 L359,63.8 L360,63.7 L361,63.7 L362,63.6 L363,63.5 L364,63.4 L365,63.3 L366,63.2 L367,63.1 L368,62.9 L369,62.8 L370,62.7 L371,62.6 L372,62.4 L373,62.3 L374,62.1 L375,62 L376,61.8 L377,61.7 L378,61.5 L379,61.3 L380,61.1 L381,60.9 L382,60.8 L383,60.6 L384,60.4 L385,60.1 L386,59.9 L387,59.7 L388,59.5 L389,59.3 L390,59 L391,58.8 L392,58.6 L393,58.3 L394,58.1 L395,57.8 L396,57.6 L397,57.3 L398,57.1 L399,56.8 L400,56.5 L401,56.3 L402,56 L403,55.8 L404,55.5 L405,55.3 L406,55.1 L407,54.8 L408,54.6 L409,54.4 L410,54.2 L411,54 L412,53.9 L413,53.7 L414,53.6 L415,53.4 L416,53.3 L417,53.2 L418,53.2 L419,53.1 L420,53.1 L421,53 L422,53.1 L423,53.1 L424,53.1 L425,53.2 L426,53.3 L427,53.4 L428,53.6 L429,53.8 L430,53.9 L431,54.1 L432,54.4 L433,54.6 L434,54.8 L435,55.1 L436,55.3 L437,55.6 L438,55.9 L439,56.2 L440,56.5 L441,56.7 L442,57 L443,57.3 L444,57.6 L445,57.9 L446,58.2 L447,58.5 L448,58.8 L449,59 L450,59.3 L451,59.6 L452,59.8 L453,60.1 L454,60.4 L455,60.6 L456,60.8 L457,61.1 L458,61.3 L459,61.5 L460,61.7 L461,61.9 L462,62.1 L463,62.3 L464,62.5 L465,62.7 L466,62.9 L467,63 L468,63.2 L469,63.3 L470,63.5 L471,63.6 L472,63.8 L473,63.9 L474,64 L475,64.1 L476,64.2 L477,64.4 L478,64.5 L479,64.6 L480,64.6 L481,64.7 L482,64.8 L483,64.9 L484,65 L485,65.1 L486,65.1 L487,65.2 L488,65.3 L489,65.3 L490,65.4 L491,65.4 L492,65.5 L493,65.5 L494,65.6 L495,65.6 L496,65.7 L497,65.7 L498,65.8 L499,65.8 L500,65.8 L501,65.9 L502,65.9 L503,65.9 L504,66 L505,66 L506,66 L507,66.1 L508,66.1 L509,66.1 L510,66.1 L511,66.2 L512,66.2 L513,66.2 L514,66.2 L515,66.3 L516,66.3 L517,66.3 L518,66.3 L519,66.4 L520,66.4 L521,66.4 L522,66.4 L523,66.4 L524,66.4 L525,66.5 L526,66.5 L527,66.5 L528,66.5 L529,66.5 L530,66.6 L531,66.6 L532,66.6 L533,66.6 L534,66.6 L535,66.6 L536,66.6" fill="none" stroke="#d49aa5" stroke-width="0.95"/>
<line x1="421.5" y1="51" x2="421.5" y2="70.5" stroke="#9c9c9c" stroke-width="0.45"/>
<line x1="326" y1="70.5" x2="326" y2="67.9" stroke="#777" stroke-width="0.8"/>
<line x1="343.5" y1="70.5" x2="343.5" y2="68.7" stroke="#777" stroke-width="0.8"/>
<line x1="361" y1="70.5" x2="361" y2="67.9" stroke="#777" stroke-width="0.8"/>
<line x1="378.5" y1="70.5" x2="378.5" y2="68.7" stroke="#777" stroke-width="0.8"/>
<line x1="396" y1="70.5" x2="396" y2="67.9" stroke="#777" stroke-width="0.8"/>
<line x1="413.5" y1="70.5" x2="413.5" y2="68.7" stroke="#777" stroke-width="0.8"/>
<line x1="431" y1="70.5" x2="431" y2="67.9" stroke="#777" stroke-width="0.8"/>
<line x1="448.5" y1="70.5" x2="448.5" y2="68.7" stroke="#777" stroke-width="0.8"/>
<line x1="466" y1="70.5" x2="466" y2="67.9" stroke="#777" stroke-width="0.8"/>
<line x1="483.5" y1="70.5" x2="483.5" y2="68.7" stroke="#777" stroke-width="0.8"/>
<line x1="501" y1="70.5" x2="501" y2="67.9" stroke="#777" stroke-width="0.8"/>
<line x1="518.5" y1="70.5" x2="518.5" y2="68.7" stroke="#777" stroke-width="0.8"/>
<line x1="536" y1="70.5" x2="536" y2="67.9" stroke="#777" stroke-width="0.8"/>
<line x1="326" y1="70.5" x2="536" y2="70.5" stroke="#b4b4b4" stroke-width="1.1"/>
<rect x="326.6" y="51.7" width="40" height="11.7" fill="#fff" stroke="#dadada" stroke-width="0.6"/>
<rect x="327.6" y="52.6" width="20" height="9.6" fill="#ececec" stroke="#e7c7cd" stroke-width="1"/>
<text x="349.8" y="60.4" style="font-family:'Liberation Sans',sans-serif;font-size:9.3px;font-weight:normal" text-anchor="start" fill="#111" stroke="#111" stroke-width="0.25" >30h</text>
<path d="M326,86 L536,87.2 L536,90 L326,90 Z" fill="#f1f1f1"/>
<path d="M326,84.6 L327,84.5 L328,84.5 L329,84.5 L330,84.4 L331,84.4 L332,84.4 L333,84.3 L334,84.3 L335,84.2 L336,84.2 L337,84.2 L338,84.1 L339,84.1 L340,84 L341,84 L342,83.9 L343,83.8 L344,83.8 L345,83.7 L346,83.7 L347,83.6 L348,83.5 L349,83.4 L350,83.4 L351,83.3 L352,83.2 L353,83.1 L354,83 L355,82.9 L356,82.8 L357,82.7 L358,82.6 L359,82.5 L360,82.4 L361,82.3 L362,82.2 L363,82.1 L364,82 L365,81.8 L366,81.7 L367,81.6 L368,81.4 L369,81.3 L370,81.2 L371,81 L372,80.9 L373,80.7 L374,80.6 L375,80.4 L376,80.2 L377,80.1 L378,79.9 L379,79.7 L380,79.6 L381,79.4 L382,79.2 L383,79 L384,78.8 L385,78.6 L386,78.4 L387,78.3 L388,78.1 L389,77.9 L390,77.7 L391,77.5 L392,77.3 L393,77.1 L394,76.9 L395,76.7 L396,76.5 L397,76.3 L398,76.1 L399,75.9 L400,75.7 L401,75.6 L402,75.4 L403,75.2 L404,75 L405,74.9 L406,74.7 L407,74.6 L408,74.4 L409,74.3 L410,74.2 L411,74.1 L412,74 L413,73.9 L414,73.8 L415,73.7 L416,73.6 L417,73.6 L418,73.6 L419,73.5 L420,73.5 L421,73.5 L422,73.6 L423,73.6 L424,73.7 L425,73.8 L426,74 L427,74.1 L428,74.3 L429,74.5 L430,74.7 L431,74.9 L432,75.2 L433,75.4 L434,75.7 L435,76 L436,76.3 L437,76.6 L438,76.9 L439,77.2 L440,77.4 L441,77.7 L442,78 L443,78.3 L444,78.6 L445,78.9 L446,79.2 L447,79.5 L448,79.8 L449,80 L450,80.3 L451,80.6 L452,80.8 L453,81.1 L454,81.3 L455,81.5 L456,81.8 L457,82 L458,82.2 L459,82.4 L460,82.6 L461,82.8 L462,82.9 L463,83.1 L464,83.3 L465,83.4 L466,83.6 L467,83.7 L468,83.9 L469,84 L470,84.1 L471,84.2 L472,84.4 L473,84.5 L474,84.6 L475,84.7 L476,84.8 L477,84.9 L478,84.9 L479,85 L480,85.1 L481,85.2 L482,85.2 L483,85.3 L484,85.4 L485,85.4 L486,85.5 L487,85.5 L488,85.6 L489,85.6 L490,85.7 L491,85.7 L492,85.8 L493,85.8 L494,85.8 L495,85.9 L496,85.9 L497,86 L498,86 L499,86 L500,86 L501,86.1 L502,86.1 L503,86.1 L504,86.2 L505,86.2 L506,86.2 L507,86.2 L508,86.3 L509,86.3 L510,86.3 L511,86.3 L512,86.3 L513,86.4 L514,86.4 L515,86.4 L516,86.4 L517,86.4 L518,86.5 L519,86.5 L520,86.5 L521,86.5 L522,86.5 L523,86.5 L524,86.6 L525,86.6 L526,86.6 L527,86.6 L528,86.6 L529,86.6 L530,86.7 L531,86.7 L532,86.7 L533,86.7 L534,86.7 L535,86.7 L536,86.7 L536,87.2 L326,86 Z" fill="#f3f1f7" stroke="none"/>
<line x1="326" y1="86" x2="536" y2="87.2" stroke="#a489bd" stroke-width="1.0"/>
<path d="M326,84.6 L327,84.5 L328,84.5 L329,84.5 L330,84.4 L331,84.4 L332,84.4 L333,84.3 L334,84.3 L335,84.2 L336,84.2 L337,84.2 L338,84.1 L339,84.1 L340,84 L341,84 L342,83.9 L343,83.8 L344,83.8 L345,83.7 L346,83.7 L347,83.6 L348,83.5 L349,83.4 L350,83.4 L351,83.3 L352,83.2 L353,83.1 L354,83 L355,82.9 L356,82.8 L357,82.7 L358,82.6 L359,82.5 L360,82.4 L361,82.3 L362,82.2 L363,82.1 L364,82 L365,81.8 L366,81.7 L367,81.6 L368,81.4 L369,81.3 L370,81.2 L371,81 L372,80.9 L373,80.7 L374,80.6 L375,80.4 L376,80.2 L377,80.1 L378,79.9 L379,79.7 L380,79.6 L381,79.4 L382,79.2 L383,79 L384,78.8 L385,78.6 L386,78.4 L387,78.3 L388,78.1 L389,77.9 L390,77.7 L391,77.5 L392,77.3 L393,77.1 L394,76.9 L395,76.7 L396,76.5 L397,76.3 L398,76.1 L399,75.9 L400,75.7 L401,75.6 L402,75.4 L403,75.2 L404,75 L405,74.9 L406,74.7 L407,74.6 L408,74.4 L409,74.3 L410,74.2 L411,74.1 L412,74 L413,73.9 L414,73.8 L415,73.7 L416,73.6 L417,73.6 L418,73.6 L419,73.5 L420,73.5 L421,73.5 L422,73.6 L423,73.6 L424,73.7 L425,73.8 L426,74 L427,74.1 L428,74.3 L429,74.5 L430,74.7 L431,74.9 L432,75.2 L433,75.4 L434,75.7 L435,76 L436,76.3 L437,76.6 L438,76.9 L439,77.2 L440,77.4 L441,77.7 L442,78 L443,78.3 L444,78.6 L445,78.9 L446,79.2 L447,79.5 L448,79.8 L449,80 L450,80.3 L451,80.6 L452,80.8 L453,81.1 L454,81.3 L455,81.5 L456,81.8 L457,82 L458,82.2 L459,82.4 L460,82.6 L461,82.8 L462,82.9 L463,83.1 L464,83.3 L465,83.4 L466,83.6 L467,83.7 L468,83.9 L469,84 L470,84.1 L471,84.2 L472,84.4 L473,84.5 L474,84.6 L475,84.7 L476,84.8 L477,84.9 L478,84.9 L479,85 L480,85.1 L481,85.2 L482,85.2 L483,85.3 L484,85.4 L485,85.4 L486,85.5 L487,85.5 L488,85.6 L489,85.6 L490,85.7 L491,85.7 L492,85.8 L493,85.8 L494,85.8 L495,85.9 L496,85.9 L497,86 L498,86 L499,86 L500,86 L501,86.1 L502,86.1 L503,86.1 L504,86.2 L505,86.2 L506,86.2 L507,86.2 L508,86.3 L509,86.3 L510,86.3 L511,86.3 L512,86.3 L513,86.4 L514,86.4 L515,86.4 L516,86.4 L517,86.4 L518,86.5 L519,86.5 L520,86.5 L521,86.5 L522,86.5 L523,86.5 L524,86.6 L525,86.6 L526,86.6 L527,86.6 L528,86.6 L529,86.6 L530,86.7 L531,86.7 L532,86.7 L533,86.7 L534,86.7 L535,86.7 L536,86.7" fill="none" stroke="#a489bd" stroke-width="0.95"/>
<line x1="420.6" y1="70.5" x2="420.6" y2="90" stroke="#9c9c9c" stroke-width="0.45"/>
<line x1="326" y1="90" x2="326" y2="87.4" stroke="#777" stroke-width="0.8"/>
<line x1="343.5" y1="90" x2="343.5" y2="88.2" stroke="#777" stroke-width="0.8"/>
<line x1="361" y1="90" x2="361" y2="87.4" stroke="#777" stroke-width="0.8"/>
<line x1="378.5" y1="90" x2="378.5" y2="88.2" stroke="#777" stroke-width="0.8"/>
<line x1="396" y1="90" x2="396" y2="87.4" stroke="#777" stroke-width="0.8"/>
<line x1="413.5" y1="90" x2="413.5" y2="88.2" stroke="#777" stroke-width="0.8"/>
<line x1="431" y1="90" x2="431" y2="87.4" stroke="#777" stroke-width="0.8"/>
<line x1="448.5" y1="90" x2="448.5" y2="88.2" stroke="#777" stroke-width="0.8"/>
<line x1="466" y1="90" x2="466" y2="87.4" stroke="#777" stroke-width="0.8"/>
<line x1="483.5" y1="90" x2="483.5" y2="88.2" stroke="#777" stroke-width="0.8"/>
<line x1="501" y1="90" x2="501" y2="87.4" stroke="#777" stroke-width="0.8"/>
<line x1="518.5" y1="90" x2="518.5" y2="88.2" stroke="#777" stroke-width="0.8"/>
<line x1="536" y1="90" x2="536" y2="87.4" stroke="#777" stroke-width="0.8"/>
<line x1="326" y1="90" x2="536" y2="90" stroke="#b4b4b4" stroke-width="1.1"/>
<rect x="326.6" y="71.2" width="40" height="11.7" fill="#fff" stroke="#dadada" stroke-width="0.6"/>
<rect x="327.6" y="72.1" width="20" height="9.6" fill="#ece8f2" stroke="#ccbeda" stroke-width="1"/>
<text x="349.8" y="79.9" style="font-family:'Liberation Sans',sans-serif;font-size:9.3px;font-weight:normal" text-anchor="start" fill="#111" stroke="#111" stroke-width="0.25" >25h</text>
<path d="M326,106 L536,107.2 L536,109.5 L326,109.5 Z" fill="#f1f1f1"/>
<path d="M326,104.9 L327,104.9 L328,104.9 L329,104.8 L330,104.8 L331,104.8 L332,104.8 L333,104.7 L334,104.7 L335,104.7 L336,104.7 L337,104.6 L338,104.6 L339,104.6 L340,104.5 L341,104.5 L342,104.4 L343,104.4 L344,104.4 L345,104.3 L346,104.3 L347,104.2 L348,104.2 L349,104.1 L350,104 L351,104 L352,103.9 L353,103.9 L354,103.8 L355,103.7 L356,103.6 L357,103.6 L358,103.5 L359,103.4 L360,103.3 L361,103.2 L362,103.1 L363,103 L364,102.9 L365,102.8 L366,102.7 L367,102.6 L368,102.5 L369,102.3 L370,102.2 L371,102.1 L372,101.9 L373,101.8 L374,101.6 L375,101.5 L376,101.3 L377,101.2 L378,101 L379,100.8 L380,100.7 L381,100.5 L382,100.3 L383,100.1 L384,99.9 L385,99.8 L386,99.6 L387,99.4 L388,99.2 L389,99 L390,98.8 L391,98.5 L392,98.3 L393,98.1 L394,97.9 L395,97.7 L396,97.5 L397,97.2 L398,97 L399,96.8 L400,96.6 L401,96.4 L402,96.2 L403,96 L404,95.7 L405,95.5 L406,95.4 L407,95.2 L408,95 L409,94.8 L410,94.6 L411,94.5 L412,94.3 L413,94.2 L414,94.1 L415,94 L416,93.9 L417,93.8 L418,93.7 L419,93.6 L420,93.6 L421,93.6 L422,93.6 L423,93.6 L424,93.6 L425,93.6 L426,93.7 L427,93.8 L428,94 L429,94.1 L430,94.3 L431,94.5 L432,94.7 L433,95 L434,95.2 L435,95.5 L436,95.8 L437,96.1 L438,96.4 L439,96.7 L440,97 L441,97.3 L442,97.6 L443,97.9 L444,98.2 L445,98.5 L446,98.8 L447,99.1 L448,99.4 L449,99.6 L450,99.9 L451,100.2 L452,100.5 L453,100.7 L454,101 L455,101.2 L456,101.4 L457,101.7 L458,101.9 L459,102.1 L460,102.3 L461,102.5 L462,102.7 L463,102.9 L464,103.1 L465,103.2 L466,103.4 L467,103.6 L468,103.7 L469,103.9 L470,104 L471,104.1 L472,104.2 L473,104.4 L474,104.5 L475,104.6 L476,104.7 L477,104.8 L478,104.9 L479,104.9 L480,105 L481,105.1 L482,105.2 L483,105.2 L484,105.3 L485,105.4 L486,105.4 L487,105.5 L488,105.5 L489,105.6 L490,105.6 L491,105.7 L492,105.7 L493,105.8 L494,105.8 L495,105.9 L496,105.9 L497,105.9 L498,106 L499,106 L500,106 L501,106.1 L502,106.1 L503,106.1 L504,106.1 L505,106.2 L506,106.2 L507,106.2 L508,106.2 L509,106.3 L510,106.3 L511,106.3 L512,106.3 L513,106.4 L514,106.4 L515,106.4 L516,106.4 L517,106.4 L518,106.5 L519,106.5 L520,106.5 L521,106.5 L522,106.5 L523,106.5 L524,106.6 L525,106.6 L526,106.6 L527,106.6 L528,106.6 L529,106.6 L530,106.7 L531,106.7 L532,106.7 L533,106.7 L534,106.7 L535,106.7 L536,106.7 L536,107.2 L326,106 Z" fill="#eef9f3" stroke="none"/>
<line x1="326" y1="106" x2="536" y2="107.2" stroke="#5ec796" stroke-width="1.0"/>
<path d="M326,104.9 L327,104.9 L328,104.9 L329,104.8 L330,104.8 L331,104.8 L332,104.8 L333,104.7 L334,104.7 L335,104.7 L336,104.7 L337,104.6 L338,104.6 L339,104.6 L340,104.5 L341,104.5 L342,104.4 L343,104.4 L344,104.4 L345,104.3 L346,104.3 L347,104.2 L348,104.2 L349,104.1 L350,104 L351,104 L352,103.9 L353,103.9 L354,103.8 L355,103.7 L356,103.6 L357,103.6 L358,103.5 L359,103.4 L360,103.3 L361,103.2 L362,103.1 L363,103 L364,102.9 L365,102.8 L366,102.7 L367,102.6 L368,102.5 L369,102.3 L370,102.2 L371,102.1 L372,101.9 L373,101.8 L374,101.6 L375,101.5 L376,101.3 L377,101.2 L378,101 L379,100.8 L380,100.7 L381,100.5 L382,100.3 L383,100.1 L384,99.9 L385,99.8 L386,99.6 L387,99.4 L388,99.2 L389,99 L390,98.8 L391,98.5 L392,98.3 L393,98.1 L394,97.9 L395,97.7 L396,97.5 L397,97.2 L398,97 L399,96.8 L400,96.6 L401,96.4 L402,96.2 L403,96 L404,95.7 L405,95.5 L406,95.4 L407,95.2 L408,95 L409,94.8 L410,94.6 L411,94.5 L412,94.3 L413,94.2 L414,94.1 L415,94 L416,93.9 L417,93.8 L418,93.7 L419,93.6 L420,93.6 L421,93.6 L422,93.6 L423,93.6 L424,93.6 L425,93.6 L426,93.7 L427,93.8 L428,94 L429,94.1 L430,94.3 L431,94.5 L432,94.7 L433,95 L434,95.2 L435,95.5 L436,95.8 L437,96.1 L438,96.4 L439,96.7 L440,97 L441,97.3 L442,97.6 L443,97.9 L444,98.2 L445,98.5 L446,98.8 L447,99.1 L448,99.4 L449,99.6 L450,99.9 L451,100.2 L452,100.5 L453,100.7 L454,101 L455,101.2 L456,101.4 L457,101.7 L458,101.9 L459,102.1 L460,102.3 L461,102.5 L462,102.7 L463,102.9 L464,103.1 L465,103.2 L466,103.4 L467,103.6 L468,103.7 L469,103.9 L470,104 L471,104.1 L472,104.2 L473,104.4 L474,104.5 L475,104.6 L476,104.7 L477,104.8 L478,104.9 L479,104.9 L480,105 L481,105.1 L482,105.2 L483,105.2 L484,105.3 L485,105.4 L486,105.4 L487,105.5 L488,105.5 L489,105.6 L490,105.6 L491,105.7 L492,105.7 L493,105.8 L494,105.8 L495,105.9 L496,105.9 L497,105.9 L498,106 L499,106 L500,106 L501,106.1 L502,106.1 L503,106.1 L504,106.1 L505,106.2 L506,106.2 L507,106.2 L508,106.2 L509,106.3 L510,106.3 L511,106.3 L512,106.3 L513,106.4 L514,106.4 L515,106.4 L516,106.4 L517,106.4 L518,106.5 L519,106.5 L520,106.5 L521,106.5 L522,106.5 L523,106.5 L524,106.6 L525,106.6 L526,106.6 L527,106.6 L528,106.6 L529,106.6 L530,106.7 L531,106.7 L532,106.7 L533,106.7 L534,106.7 L535,106.7 L536,106.7" fill="none" stroke="#5ec796" stroke-width="0.95"/>
<line x1="422.6" y1="90" x2="422.6" y2="109.5" stroke="#9c9c9c" stroke-width="0.45"/>
<line x1="326" y1="109.5" x2="326" y2="106.9" stroke="#777" stroke-width="0.8"/>
<line x1="343.5" y1="109.5" x2="343.5" y2="107.7" stroke="#777" stroke-width="0.8"/>
<line x1="361" y1="109.5" x2="361" y2="106.9" stroke="#777" stroke-width="0.8"/>
<line x1="378.5" y1="109.5" x2="378.5" y2="107.7" stroke="#777" stroke-width="0.8"/>
<line x1="396" y1="109.5" x2="396" y2="106.9" stroke="#777" stroke-width="0.8"/>
<line x1="413.5" y1="109.5" x2="413.5" y2="107.7" stroke="#777" stroke-width="0.8"/>
<line x1="431" y1="109.5" x2="431" y2="106.9" stroke="#777" stroke-width="0.8"/>
<line x1="448.5" y1="109.5" x2="448.5" y2="107.7" stroke="#777" stroke-width="0.8"/>
<line x1="466" y1="109.5" x2="466" y2="106.9" stroke="#777" stroke-width="0.8"/>
<line x1="483.5" y1="109.5" x2="483.5" y2="107.7" stroke="#777" stroke-width="0.8"/>
<line x1="501" y1="109.5" x2="501" y2="106.9" stroke="#777" stroke-width="0.8"/>
<line x1="518.5" y1="109.5" x2="518.5" y2="107.7" stroke="#777" stroke-width="0.8"/>
<line x1="536" y1="109.5" x2="536" y2="106.9" stroke="#777" stroke-width="0.8"/>
<line x1="326" y1="109.5" x2="536" y2="109.5" stroke="#b4b4b4" stroke-width="1.1"/>
<rect x="326.6" y="90.7" width="40" height="11.7" fill="#fff" stroke="#dadada" stroke-width="0.6"/>
<rect x="327.6" y="91.6" width="20" height="9.6" fill="#e3f5ec" stroke="#a6e0c5" stroke-width="1"/>
<text x="349.8" y="99.4" style="font-family:'Liberation Sans',sans-serif;font-size:9.3px;font-weight:normal" text-anchor="start" fill="#111" stroke="#111" stroke-width="0.25" >20h</text>
<path d="M326,125.5 L536,126.7 L536,129 L326,129 Z" fill="#f1f1f1"/>
<path d="M326,124.8 L327,124.8 L328,124.8 L329,124.8 L330,124.8 L331,124.8 L332,124.8 L333,124.8 L334,124.8 L335,124.8 L336,124.7 L337,124.7 L338,124.7 L339,124.7 L340,124.7 L341,124.7 L342,124.7 L343,124.7 L344,124.6 L345,124.6 L346,124.6 L347,124.6 L348,124.6 L349,124.5 L350,124.5 L351,124.5 L352,124.5 L353,124.4 L354,124.4 L355,124.4 L356,124.3 L357,124.3 L358,124.3 L359,124.2 L360,124.2 L361,124.1 L362,124.1 L363,124 L364,124 L365,123.9 L366,123.9 L367,123.8 L368,123.8 L369,123.7 L370,123.6 L371,123.5 L372,123.5 L373,123.4 L374,123.3 L375,123.2 L376,123.1 L377,123 L378,122.9 L379,122.7 L380,122.6 L381,122.5 L382,122.4 L383,122.2 L384,122.1 L385,121.9 L386,121.8 L387,121.6 L388,121.4 L389,121.2 L390,121 L391,120.9 L392,120.7 L393,120.4 L394,120.2 L395,120 L396,119.8 L397,119.6 L398,119.3 L399,119.1 L400,118.8 L401,118.6 L402,118.3 L403,118 L404,117.8 L405,117.5 L406,117.2 L407,116.9 L408,116.7 L409,116.4 L410,116.1 L411,115.8 L412,115.5 L413,115.3 L414,115 L415,114.7 L416,114.5 L417,114.3 L418,114 L419,113.8 L420,113.6 L421,113.4 L422,113.2 L423,113.1 L424,112.9 L425,112.8 L426,112.7 L427,112.7 L428,112.6 L429,112.6 L430,112.6 L431,112.6 L432,112.7 L433,112.9 L434,113.1 L435,113.3 L436,113.6 L437,113.9 L438,114.2 L439,114.5 L440,114.9 L441,115.3 L442,115.7 L443,116.1 L444,116.5 L445,116.9 L446,117.3 L447,117.7 L448,118.1 L449,118.5 L450,118.9 L451,119.2 L452,119.6 L453,120 L454,120.3 L455,120.6 L456,120.9 L457,121.2 L458,121.5 L459,121.8 L460,122 L461,122.3 L462,122.5 L463,122.7 L464,122.9 L465,123.1 L466,123.3 L467,123.5 L468,123.7 L469,123.8 L470,123.9 L471,124.1 L472,124.2 L473,124.3 L474,124.4 L475,124.5 L476,124.6 L477,124.7 L478,124.8 L479,124.9 L480,124.9 L481,125 L482,125.1 L483,125.1 L484,125.2 L485,125.2 L486,125.3 L487,125.3 L488,125.4 L489,125.4 L490,125.5 L491,125.5 L492,125.5 L493,125.6 L494,125.6 L495,125.6 L496,125.7 L497,125.7 L498,125.7 L499,125.7 L500,125.8 L501,125.8 L502,125.8 L503,125.8 L504,125.9 L505,125.9 L506,125.9 L507,125.9 L508,125.9 L509,126 L510,126 L511,126 L512,126 L513,126 L514,126.1 L515,126.1 L516,126.1 L517,126.1 L518,126.1 L519,126.1 L520,126.2 L521,126.2 L522,126.2 L523,126.2 L524,126.2 L525,126.2 L526,126.2 L527,126.3 L528,126.3 L529,126.3 L530,126.3 L531,126.3 L532,126.3 L533,126.3 L534,126.3 L535,126.4 L536,126.4 L536,126.7 L326,125.5 Z" fill="#fdf6e8" stroke="none"/>
<line x1="326" y1="125.5" x2="536" y2="126.7" stroke="#f7b94c" stroke-width="1.0"/>
<path d="M326,124.8 L327,124.8 L328,124.8 L329,124.8 L330,124.8 L331,124.8 L332,124.8 L333,124.8 L334,124.8 L335,124.8 L336,124.7 L337,124.7 L338,124.7 L339,124.7 L340,124.7 L341,124.7 L342,124.7 L343,124.7 L344,124.6 L345,124.6 L346,124.6 L347,124.6 L348,124.6 L349,124.5 L350,124.5 L351,124.5 L352,124.5 L353,124.4 L354,124.4 L355,124.4 L356,124.3 L357,124.3 L358,124.3 L359,124.2 L360,124.2 L361,124.1 L362,124.1 L363,124 L364,124 L365,123.9 L366,123.9 L367,123.8 L368,123.8 L369,123.7 L370,123.6 L371,123.5 L372,123.5 L373,123.4 L374,123.3 L375,123.2 L376,123.1 L377,123 L378,122.9 L379,122.7 L380,122.6 L381,122.5 L382,122.4 L383,122.2 L384,122.1 L385,121.9 L386,121.8 L387,121.6 L388,121.4 L389,121.2 L390,121 L391,120.9 L392,120.7 L393,120.4 L394,120.2 L395,120 L396,119.8 L397,119.6 L398,119.3 L399,119.1 L400,118.8 L401,118.6 L402,118.3 L403,118 L404,117.8 L405,117.5 L406,117.2 L407,116.9 L408,116.7 L409,116.4 L410,116.1 L411,115.8 L412,115.5 L413,115.3 L414,115 L415,114.7 L416,114.5 L417,114.3 L418,114 L419,113.8 L420,113.6 L421,113.4 L422,113.2 L423,113.1 L424,112.9 L425,112.8 L426,112.7 L427,112.7 L428,112.6 L429,112.6 L430,112.6 L431,112.6 L432,112.7 L433,112.9 L434,113.1 L435,113.3 L436,113.6 L437,113.9 L438,114.2 L439,114.5 L440,114.9 L441,115.3 L442,115.7 L443,116.1 L444,116.5 L445,116.9 L446,117.3 L447,117.7 L448,118.1 L449,118.5 L450,118.9 L451,119.2 L452,119.6 L453,120 L454,120.3 L455,120.6 L456,120.9 L457,121.2 L458,121.5 L459,121.8 L460,122 L461,122.3 L462,122.5 L463,122.7 L464,122.9 L465,123.1 L466,123.3 L467,123.5 L468,123.7 L469,123.8 L470,123.9 L471,124.1 L472,124.2 L473,124.3 L474,124.4 L475,124.5 L476,124.6 L477,124.7 L478,124.8 L479,124.9 L480,124.9 L481,125 L482,125.1 L483,125.1 L484,125.2 L485,125.2 L486,125.3 L487,125.3 L488,125.4 L489,125.4 L490,125.5 L491,125.5 L492,125.5 L493,125.6 L494,125.6 L495,125.6 L496,125.7 L497,125.7 L498,125.7 L499,125.7 L500,125.8 L501,125.8 L502,125.8 L503,125.8 L504,125.9 L505,125.9 L506,125.9 L507,125.9 L508,125.9 L509,126 L510,126 L511,126 L512,126 L513,126 L514,126.1 L515,126.1 L516,126.1 L517,126.1 L518,126.1 L519,126.1 L520,126.2 L521,126.2 L522,126.2 L523,126.2 L524,126.2 L525,126.2 L526,126.2 L527,126.3 L528,126.3 L529,126.3 L530,126.3 L531,126.3 L532,126.3 L533,126.3 L534,126.3 L535,126.4 L536,126.4" fill="none" stroke="#f7b94c" stroke-width="0.95"/>
<line x1="429.6" y1="109.5" x2="429.6" y2="129" stroke="#9c9c9c" stroke-width="0.45"/>
<line x1="326" y1="129" x2="326" y2="126.4" stroke="#777" stroke-width="0.8"/>
<line x1="343.5" y1="129" x2="343.5" y2="127.2" stroke="#777" stroke-width="0.8"/>
<line x1="361" y1="129" x2="361" y2="126.4" stroke="#777" stroke-width="0.8"/>
<line x1="378.5" y1="129" x2="378.5" y2="127.2" stroke="#777" stroke-width="0.8"/>
<line x1="396" y1="129" x2="396" y2="126.4" stroke="#777" stroke-width="0.8"/>
<line x1="413.5" y1="129" x2="413.5" y2="127.2" stroke="#777" stroke-width="0.8"/>
<line x1="431" y1="129" x2="431" y2="126.4" stroke="#777" stroke-width="0.8"/>
<line x1="448.5" y1="129" x2="448.5" y2="127.2" stroke="#777" stroke-width="0.8"/>
<line x1="466" y1="129" x2="466" y2="126.4" stroke="#777" stroke-width="0.8"/>
<line x1="483.5" y1="129" x2="483.5" y2="127.2" stroke="#777" stroke-width="0.8"/>
<line x1="501" y1="129" x2="501" y2="126.4" stroke="#777" stroke-width="0.8"/>
<line x1="518.5" y1="129" x2="518.5" y2="127.2" stroke="#777" stroke-width="0.8"/>
<line x1="536" y1="129" x2="536" y2="126.4" stroke="#777" stroke-width="0.8"/>
<line x1="326" y1="129" x2="536" y2="129" stroke="#b4b4b4" stroke-width="1.1"/>
<rect x="326.6" y="110.2" width="40" height="11.7" fill="#fff" stroke="#dadada" stroke-width="0.6"/>
<rect x="327.6" y="111.1" width="20" height="9.6" fill="#fdf1d9" stroke="#fad89c" stroke-width="1"/>
<text x="349.8" y="118.9" style="font-family:'Liberation Sans',sans-serif;font-size:9.3px;font-weight:normal" text-anchor="start" fill="#111" stroke="#111" stroke-width="0.25" >15h</text>
<path d="M326,145.2 L536,146.4 L536,148.5 L326,148.5 Z" fill="#f1f1f1"/>
<path d="M326,145 L327,145 L328,145 L329,145 L330,145 L331,145 L332,145 L333,145 L334,145 L335,145 L336,145 L337,145 L338,145 L339,145 L340,145 L341,145 L342,145 L343,145 L344,145 L345,145 L346,145 L347,145 L348,145 L349,145 L350,145 L351,145 L352,145 L353,145 L354,145 L355,145 L356,145 L357,144.9 L358,144.9 L359,144.9 L360,144.9 L361,144.9 L362,144.9 L363,144.9 L364,144.9 L365,144.8 L366,144.8 L367,144.8 L368,144.8 L369,144.8 L370,144.7 L371,144.7 L372,144.7 L373,144.6 L374,144.6 L375,144.5 L376,144.5 L377,144.4 L378,144.4 L379,144.3 L380,144.2 L381,144.1 L382,144 L383,143.9 L384,143.8 L385,143.7 L386,143.6 L387,143.5 L388,143.3 L389,143.2 L390,143 L391,142.9 L392,142.7 L393,142.5 L394,142.3 L395,142.1 L396,141.8 L397,141.6 L398,141.4 L399,141.1 L400,140.8 L401,140.5 L402,140.2 L403,139.9 L404,139.6 L405,139.3 L406,139 L407,138.7 L408,138.3 L409,138 L410,137.6 L411,137.3 L412,136.9 L413,136.6 L414,136.2 L415,135.9 L416,135.5 L417,135.2 L418,134.9 L419,134.6 L420,134.3 L421,134 L422,133.7 L423,133.5 L424,133.3 L425,133.1 L426,132.9 L427,132.8 L428,132.7 L429,132.6 L430,132.6 L431,132.6 L432,132.6 L433,132.7 L434,132.9 L435,133 L436,133.2 L437,133.5 L438,133.8 L439,134.1 L440,134.4 L441,134.8 L442,135.2 L443,135.6 L444,136 L445,136.4 L446,136.9 L447,137.3 L448,137.7 L449,138.2 L450,138.6 L451,139 L452,139.4 L453,139.8 L454,140.2 L455,140.6 L456,140.9 L457,141.3 L458,141.6 L459,141.9 L460,142.2 L461,142.5 L462,142.7 L463,143 L464,143.2 L465,143.4 L466,143.6 L467,143.8 L468,144 L469,144.2 L470,144.3 L471,144.5 L472,144.6 L473,144.7 L474,144.8 L475,144.9 L476,145 L477,145.1 L478,145.1 L479,145.2 L480,145.3 L481,145.3 L482,145.4 L483,145.4 L484,145.5 L485,145.5 L486,145.5 L487,145.6 L488,145.6 L489,145.6 L490,145.7 L491,145.7 L492,145.7 L493,145.7 L494,145.7 L495,145.8 L496,145.8 L497,145.8 L498,145.8 L499,145.8 L500,145.9 L501,145.9 L502,145.9 L503,145.9 L504,145.9 L505,145.9 L506,145.9 L507,146 L508,146 L509,146 L510,146 L511,146 L512,146 L513,146 L514,146 L515,146 L516,146.1 L517,146.1 L518,146.1 L519,146.1 L520,146.1 L521,146.1 L522,146.1 L523,146.1 L524,146.1 L525,146.1 L526,146.2 L527,146.2 L528,146.2 L529,146.2 L530,146.2 L531,146.2 L532,146.2 L533,146.2 L534,146.2 L535,146.2 L536,146.2 L536,146.4 L326,145.2 Z" fill="#eef3f9" stroke="none"/>
<line x1="326" y1="145.2" x2="536" y2="146.4" stroke="#7f98c6" stroke-width="1.0"/>
<path d="M326,145 L327,145 L328,145 L329,145 L330,145 L331,145 L332,145 L333,145 L334,145 L335,145 L336,145 L337,145 L338,145 L339,145 L340,145 L341,145 L342,145 L343,145 L344,145 L345,145 L346,145 L347,145 L348,145 L349,145 L350,145 L351,145 L352,145 L353,145 L354,145 L355,145 L356,145 L357,144.9 L358,144.9 L359,144.9 L360,144.9 L361,144.9 L362,144.9 L363,144.9 L364,144.9 L365,144.8 L366,144.8 L367,144.8 L368,144.8 L369,144.8 L370,144.7 L371,144.7 L372,144.7 L373,144.6 L374,144.6 L375,144.5 L376,144.5 L377,144.4 L378,144.4 L379,144.3 L380,144.2 L381,144.1 L382,144 L383,143.9 L384,143.8 L385,143.7 L386,143.6 L387,143.5 L388,143.3 L389,143.2 L390,143 L391,142.9 L392,142.7 L393,142.5 L394,142.3 L395,142.1 L396,141.8 L397,141.6 L398,141.4 L399,141.1 L400,140.8 L401,140.5 L402,140.2 L403,139.9 L404,139.6 L405,139.3 L406,139 L407,138.7 L408,138.3 L409,138 L410,137.6 L411,137.3 L412,136.9 L413,136.6 L414,136.2 L415,135.9 L416,135.5 L417,135.2 L418,134.9 L419,134.6 L420,134.3 L421,134 L422,133.7 L423,133.5 L424,133.3 L425,133.1 L426,132.9 L427,132.8 L428,132.7 L429,132.6 L430,132.6 L431,132.6 L432,132.6 L433,132.7 L434,132.9 L435,133 L436,133.2 L437,133.5 L438,133.8 L439,134.1 L440,134.4 L441,134.8 L442,135.2 L443,135.6 L444,136 L445,136.4 L446,136.9 L447,137.3 L448,137.7 L449,138.2 L450,138.6 L451,139 L452,139.4 L453,139.8 L454,140.2 L455,140.6 L456,140.9 L457,141.3 L458,141.6 L459,141.9 L460,142.2 L461,142.5 L462,142.7 L463,143 L464,143.2 L465,143.4 L466,143.6 L467,143.8 L468,144 L469,144.2 L470,144.3 L471,144.5 L472,144.6 L473,144.7 L474,144.8 L475,144.9 L476,145 L477,145.1 L478,145.1 L479,145.2 L480,145.3 L481,145.3 L482,145.4 L483,145.4 L484,145.5 L485,145.5 L486,145.5 L487,145.6 L488,145.6 L489,145.6 L490,145.7 L491,145.7 L492,145.7 L493,145.7 L494,145.7 L495,145.8 L496,145.8 L497,145.8 L498,145.8 L499,145.8 L500,145.9 L501,145.9 L502,145.9 L503,145.9 L504,145.9 L505,145.9 L506,145.9 L507,146 L508,146 L509,146 L510,146 L511,146 L512,146 L513,146 L514,146 L515,146 L516,146.1 L517,146.1 L518,146.1 L519,146.1 L520,146.1 L521,146.1 L522,146.1 L523,146.1 L524,146.1 L525,146.1 L526,146.2 L527,146.2 L528,146.2 L529,146.2 L530,146.2 L531,146.2 L532,146.2 L533,146.2 L534,146.2 L535,146.2 L536,146.2" fill="none" stroke="#7f98c6" stroke-width="0.95"/>
<line x1="430.8" y1="129" x2="430.8" y2="148.5" stroke="#9c9c9c" stroke-width="0.45"/>
<line x1="326" y1="148.5" x2="326" y2="145.9" stroke="#777" stroke-width="0.8"/>
<line x1="343.5" y1="148.5" x2="343.5" y2="146.7" stroke="#777" stroke-width="0.8"/>
<line x1="361" y1="148.5" x2="361" y2="145.9" stroke="#777" stroke-width="0.8"/>
<line x1="378.5" y1="148.5" x2="378.5" y2="146.7" stroke="#777" stroke-width="0.8"/>
<line x1="396" y1="148.5" x2="396" y2="145.9" stroke="#777" stroke-width="0.8"/>
<line x1="413.5" y1="148.5" x2="413.5" y2="146.7" stroke="#777" stroke-width="0.8"/>
<line x1="431" y1="148.5" x2="431" y2="145.9" stroke="#777" stroke-width="0.8"/>
<line x1="448.5" y1="148.5" x2="448.5" y2="146.7" stroke="#777" stroke-width="0.8"/>
<line x1="466" y1="148.5" x2="466" y2="145.9" stroke="#777" stroke-width="0.8"/>
<line x1="483.5" y1="148.5" x2="483.5" y2="146.7" stroke="#777" stroke-width="0.8"/>
<line x1="501" y1="148.5" x2="501" y2="145.9" stroke="#777" stroke-width="0.8"/>
<line x1="518.5" y1="148.5" x2="518.5" y2="146.7" stroke="#777" stroke-width="0.8"/>
<line x1="536" y1="148.5" x2="536" y2="145.9" stroke="#777" stroke-width="0.8"/>
<line x1="326" y1="148.5" x2="536" y2="148.5" stroke="#b4b4b4" stroke-width="1.1"/>
<rect x="326.6" y="129.7" width="40" height="11.7" fill="#fff" stroke="#dadada" stroke-width="0.6"/>
<rect x="327.6" y="130.6" width="20" height="9.6" fill="#e4ebf5" stroke="#b8c6df" stroke-width="1"/>
<text x="349.8" y="138.4" style="font-family:'Liberation Sans',sans-serif;font-size:9.3px;font-weight:normal" text-anchor="start" fill="#111" stroke="#111" stroke-width="0.25" >10h</text>
<path d="M326,165.2 L536,166.4 L536,168 L326,168 Z" fill="#f1f1f1"/>
<path d="M326,165.1 L327,165.1 L328,165.1 L329,165.1 L330,165.1 L331,165.2 L332,165.2 L333,165.2 L334,165.2 L335,165.2 L336,165.2 L337,165.2 L338,165.2 L339,165.2 L340,165.2 L341,165.2 L342,165.2 L343,165.2 L344,165.2 L345,165.2 L346,165.2 L347,165.2 L348,165.2 L349,165.2 L350,165.2 L351,165.2 L352,165.2 L353,165.2 L354,165.2 L355,165.2 L356,165.3 L357,165.3 L358,165.3 L359,165.3 L360,165.3 L361,165.3 L362,165.3 L363,165.3 L364,165.3 L365,165.3 L366,165.3 L367,165.3 L368,165.3 L369,165.3 L370,165.3 L371,165.3 L372,165.3 L373,165.3 L374,165.3 L375,165.3 L376,165.3 L377,165.3 L378,165.3 L379,165.3 L380,165.3 L381,165.3 L382,165.3 L383,165.3 L384,165.3 L385,165.3 L386,165.3 L387,165.3 L388,165.3 L389,165.3 L390,165.3 L391,165.3 L392,165.3 L393,165.3 L394,165.2 L395,165.2 L396,165.2 L397,165.2 L398,165.2 L399,165.2 L400,165.1 L401,165.1 L402,165.1 L403,165 L404,165 L405,164.9 L406,164.9 L407,164.8 L408,164.7 L409,164.7 L410,164.6 L411,164.5 L412,164.4 L413,164.2 L414,164.1 L415,163.9 L416,163.8 L417,163.6 L418,163.4 L419,163.1 L420,162.9 L421,162.6 L422,162.3 L423,162 L424,161.7 L425,161.4 L426,161 L427,160.6 L428,160.2 L429,159.8 L430,159.4 L431,158.9 L432,158.5 L433,158 L434,157.5 L435,157 L436,156.6 L437,156.1 L438,155.6 L439,155.1 L440,154.7 L441,154.2 L442,153.8 L443,153.4 L444,153.1 L445,152.8 L446,152.5 L447,152.2 L448,152 L449,151.9 L450,151.8 L451,151.7 L452,151.7 L453,151.8 L454,151.9 L455,152.1 L456,152.4 L457,152.7 L458,153.1 L459,153.5 L460,153.9 L461,154.4 L462,154.9 L463,155.4 L464,155.9 L465,156.5 L466,157 L467,157.6 L468,158.1 L469,158.7 L470,159.2 L471,159.7 L472,160.2 L473,160.6 L474,161.1 L475,161.5 L476,161.9 L477,162.3 L478,162.6 L479,163 L480,163.3 L481,163.5 L482,163.8 L483,164 L484,164.3 L485,164.4 L486,164.6 L487,164.8 L488,164.9 L489,165 L490,165.2 L491,165.3 L492,165.3 L493,165.4 L494,165.5 L495,165.6 L496,165.6 L497,165.7 L498,165.7 L499,165.7 L500,165.8 L501,165.8 L502,165.8 L503,165.9 L504,165.9 L505,165.9 L506,165.9 L507,165.9 L508,166 L509,166 L510,166 L511,166 L512,166 L513,166 L514,166.1 L515,166.1 L516,166.1 L517,166.1 L518,166.1 L519,166.1 L520,166.1 L521,166.1 L522,166.1 L523,166.2 L524,166.2 L525,166.2 L526,166.2 L527,166.2 L528,166.2 L529,166.2 L530,166.2 L531,166.2 L532,166.2 L533,166.3 L534,166.3 L535,166.3 L536,166.3 L536,166.4 L326,165.2 Z" fill="#fdebeb" stroke="none"/>
<line x1="326" y1="165.2" x2="536" y2="166.4" stroke="#f25050" stroke-width="1.0"/>
<path d="M326,165.1 L327,165.1 L328,165.1 L329,165.1 L330,165.1 L331,165.2 L332,165.2 L333,165.2 L334,165.2 L335,165.2 L336,165.2 L337,165.2 L338,165.2 L339,165.2 L340,165.2 L341,165.2 L342,165.2 L343,165.2 L344,165.2 L345,165.2 L346,165.2 L347,165.2 L348,165.2 L349,165.2 L350,165.2 L351,165.2 L352,165.2 L353,165.2 L354,165.2 L355,165.2 L356,165.3 L357,165.3 L358,165.3 L359,165.3 L360,165.3 L361,165.3 L362,165.3 L363,165.3 L364,165.3 L365,165.3 L366,165.3 L367,165.3 L368,165.3 L369,165.3 L370,165.3 L371,165.3 L372,165.3 L373,165.3 L374,165.3 L375,165.3 L376,165.3 L377,165.3 L378,165.3 L379,165.3 L380,165.3 L381,165.3 L382,165.3 L383,165.3 L384,165.3 L385,165.3 L386,165.3 L387,165.3 L388,165.3 L389,165.3 L390,165.3 L391,165.3 L392,165.3 L393,165.3 L394,165.2 L395,165.2 L396,165.2 L397,165.2 L398,165.2 L399,165.2 L400,165.1 L401,165.1 L402,165.1 L403,165 L404,165 L405,164.9 L406,164.9 L407,164.8 L408,164.7 L409,164.7 L410,164.6 L411,164.5 L412,164.4 L413,164.2 L414,164.1 L415,163.9 L416,163.8 L417,163.6 L418,163.4 L419,163.1 L420,162.9 L421,162.6 L422,162.3 L423,162 L424,161.7 L425,161.4 L426,161 L427,160.6 L428,160.2 L429,159.8 L430,159.4 L431,158.9 L432,158.5 L433,158 L434,157.5 L435,157 L436,156.6 L437,156.1 L438,155.6 L439,155.1 L440,154.7 L441,154.2 L442,153.8 L443,153.4 L444,153.1 L445,152.8 L446,152.5 L447,152.2 L448,152 L449,151.9 L450,151.8 L451,151.7 L452,151.7 L453,151.8 L454,151.9 L455,152.1 L456,152.4 L457,152.7 L458,153.1 L459,153.5 L460,153.9 L461,154.4 L462,154.9 L463,155.4 L464,155.9 L465,156.5 L466,157 L467,157.6 L468,158.1 L469,158.7 L470,159.2 L471,159.7 L472,160.2 L473,160.6 L474,161.1 L475,161.5 L476,161.9 L477,162.3 L478,162.6 L479,163 L480,163.3 L481,163.5 L482,163.8 L483,164 L484,164.3 L485,164.4 L486,164.6 L487,164.8 L488,164.9 L489,165 L490,165.2 L491,165.3 L492,165.3 L493,165.4 L494,165.5 L495,165.6 L496,165.6 L497,165.7 L498,165.7 L499,165.7 L500,165.8 L501,165.8 L502,165.8 L503,165.9 L504,165.9 L505,165.9 L506,165.9 L507,165.9 L508,166 L509,166 L510,166 L511,166 L512,166 L513,166 L514,166.1 L515,166.1 L516,166.1 L517,166.1 L518,166.1 L519,166.1 L520,166.1 L521,166.1 L522,166.1 L523,166.2 L524,166.2 L525,166.2 L526,166.2 L527,166.2 L528,166.2 L529,166.2 L530,166.2 L531,166.2 L532,166.2 L533,166.3 L534,166.3 L535,166.3 L536,166.3" fill="none" stroke="#f25050" stroke-width="0.95"/>
<line x1="451.5" y1="148.5" x2="451.5" y2="168" stroke="#9c9c9c" stroke-width="0.45"/>
<line x1="326" y1="168" x2="326" y2="165.4" stroke="#777" stroke-width="0.8"/>
<line x1="343.5" y1="168" x2="343.5" y2="166.2" stroke="#777" stroke-width="0.8"/>
<line x1="361" y1="168" x2="361" y2="165.4" stroke="#777" stroke-width="0.8"/>
<line x1="378.5" y1="168" x2="378.5" y2="166.2" stroke="#777" stroke-width="0.8"/>
<line x1="396" y1="168" x2="396" y2="165.4" stroke="#777" stroke-width="0.8"/>
<line x1="413.5" y1="168" x2="413.5" y2="166.2" stroke="#777" stroke-width="0.8"/>
<line x1="431" y1="168" x2="431" y2="165.4" stroke="#777" stroke-width="0.8"/>
<line x1="448.5" y1="168" x2="448.5" y2="166.2" stroke="#777" stroke-width="0.8"/>
<line x1="466" y1="168" x2="466" y2="165.4" stroke="#777" stroke-width="0.8"/>
<line x1="483.5" y1="168" x2="483.5" y2="166.2" stroke="#777" stroke-width="0.8"/>
<line x1="501" y1="168" x2="501" y2="165.4" stroke="#777" stroke-width="0.8"/>
<line x1="518.5" y1="168" x2="518.5" y2="166.2" stroke="#777" stroke-width="0.8"/>
<line x1="536" y1="168" x2="536" y2="165.4" stroke="#777" stroke-width="0.8"/>
<line x1="326" y1="168" x2="536" y2="168" stroke="#b4b4b4" stroke-width="1.1"/>
<rect x="326.6" y="149.2" width="40" height="11.7" fill="#fff" stroke="#dadada" stroke-width="0.6"/>
<rect x="327.6" y="150.1" width="20" height="9.6" fill="#fcdede" stroke="#f79e9e" stroke-width="1"/>
<text x="349.8" y="157.9" style="font-family:'Liberation Sans',sans-serif;font-size:9.3px;font-weight:normal" text-anchor="start" fill="#111" stroke="#111" stroke-width="0.25" >5h</text>
<rect x="326" y="12" width="210" height="156" fill="none" stroke="#777" stroke-width="1.2"/>
<text x="326" y="177.1" style="font-family:'Liberation Sans',sans-serif;font-size:8.8px;font-weight:normal" text-anchor="middle" fill="#141414" stroke="#141414" stroke-width="0.25" >43.0</text>
<text x="361" y="177.1" style="font-family:'Liberation Sans',sans-serif;font-size:8.8px;font-weight:normal" text-anchor="middle" fill="#141414" stroke="#141414" stroke-width="0.25" >43.5</text>
<text x="396" y="177.1" style="font-family:'Liberation Sans',sans-serif;font-size:8.8px;font-weight:normal" text-anchor="middle" fill="#141414" stroke="#141414" stroke-width="0.25" >44.0</text>
<text x="431" y="177.1" style="font-family:'Liberation Sans',sans-serif;font-size:8.8px;font-weight:normal" text-anchor="middle" fill="#141414" stroke="#141414" stroke-width="0.25" >44.5</text>
<text x="466" y="177.1" style="font-family:'Liberation Sans',sans-serif;font-size:8.8px;font-weight:normal" text-anchor="middle" fill="#141414" stroke="#141414" stroke-width="0.25" >45.0</text>
<text x="501" y="177.1" style="font-family:'Liberation Sans',sans-serif;font-size:8.8px;font-weight:normal" text-anchor="middle" fill="#141414" stroke="#141414" stroke-width="0.25" >45.5</text>
<text x="536" y="177.1" style="font-family:'Liberation Sans',sans-serif;font-size:8.8px;font-weight:normal" text-anchor="middle" fill="#141414" stroke="#141414" stroke-width="0.25" >46.0</text>
<text x="433.4" y="195.2" style="font-family:'Liberation Serif',serif;font-size:11.5px;font-weight:bold" text-anchor="middle" fill="#111" stroke="#111" stroke-width="0.08" >2θ (°)</text>
<text x="317.8" y="96" style="font-family:'Liberation Serif',serif;font-size:10.3px;font-weight:bold" text-anchor="middle" fill="#111" stroke="#111" stroke-width="0.08" transform="rotate(-90 317.8 96)" >Intensity (a.u.)</text>
<text x="298.9" y="25.7" style="font-family:'Liberation Serif',serif;font-size:15px;font-weight:normal" text-anchor="start" fill="#111" stroke="#111" stroke-width="0.25" >(b)</text>
<rect x="44.5" y="207.6" width="203" height="162.8" fill="none" stroke="#666" stroke-width="1.2"/>
<line x1="44.5" y1="370.4" x2="44.5" y2="367.4" stroke="#555" stroke-width="1"/>
<text x="44.5" y="382.2" style="font-family:'Liberation Sans',sans-serif;font-size:9.6px;font-weight:normal" text-anchor="middle" fill="#141414" stroke="#141414" stroke-width="0.25" >0</text>
<line x1="67.1" y1="370.4" x2="67.1" y2="367.4" stroke="#555" stroke-width="1"/>
<text x="67.1" y="382.2" style="font-family:'Liberation Sans',sans-serif;font-size:9.6px;font-weight:normal" text-anchor="middle" fill="#141414" stroke="#141414" stroke-width="0.25" >5</text>
<line x1="89.6" y1="370.4" x2="89.6" y2="367.4" stroke="#555" stroke-width="1"/>
<text x="89.6" y="382.2" style="font-family:'Liberation Sans',sans-serif;font-size:9.6px;font-weight:normal" text-anchor="middle" fill="#141414" stroke="#141414" stroke-width="0.25" >10</text>
<line x1="112.2" y1="370.4" x2="112.2" y2="367.4" stroke="#555" stroke-width="1"/>
<text x="112.2" y="382.2" style="font-family:'Liberation Sans',sans-serif;font-size:9.6px;font-weight:normal" text-anchor="middle" fill="#141414" stroke="#141414" stroke-width="0.25" >15</text>
<line x1="134.7" y1="370.4" x2="134.7" y2="367.4" stroke="#555" stroke-width="1"/>
<text x="134.7" y="382.2" style="font-family:'Liberation Sans',sans-serif;font-size:9.6px;font-weight:normal" text-anchor="middle" fill="#141414" stroke="#141414" stroke-width="0.25" >20</text>
<line x1="157.3" y1="370.4" x2="157.3" y2="367.4" stroke="#555" stroke-width="1"/>
<text x="157.3" y="382.2" style="font-family:'Liberation Sans',sans-serif;font-size:9.6px;font-weight:normal" text-anchor="middle" fill="#141414" stroke="#141414" stroke-width="0.25" >25</text>
<line x1="179.8" y1="370.4" x2="179.8" y2="367.4" stroke="#555" stroke-width="1"/>
<text x="179.8" y="382.2" style="font-family:'Liberation Sans',sans-serif;font-size:9.6px;font-weight:normal" text-anchor="middle" fill="#141414" stroke="#141414" stroke-width="0.25" >30</text>
<line x1="202.4" y1="370.4" x2="202.4" y2="367.4" stroke="#555" stroke-width="1"/>
<text x="202.4" y="382.2" style="font-family:'Liberation Sans',sans-serif;font-size:9.6px;font-weight:normal" text-anchor="middle" fill="#141414" stroke="#141414" stroke-width="0.25" >35</text>
<line x1="224.9" y1="370.4" x2="224.9" y2="367.4" stroke="#555" stroke-width="1"/>
<text x="224.9" y="382.2" style="font-family:'Liberation Sans',sans-serif;font-size:9.6px;font-weight:normal" text-anchor="middle" fill="#141414" stroke="#141414" stroke-width="0.25" >40</text>
<line x1="247.5" y1="370.4" x2="247.5" y2="367.4" stroke="#555" stroke-width="1"/>
<text x="247.5" y="382.2" style="font-family:'Liberation Sans',sans-serif;font-size:9.6px;font-weight:normal" text-anchor="middle" fill="#141414" stroke="#141414" stroke-width="0.25" >45</text>
<line x1="55.8" y1="370.4" x2="55.8" y2="368.59999999999997" stroke="#555" stroke-width="1"/>
<line x1="78.3" y1="370.4" x2="78.3" y2="368.59999999999997" stroke="#555" stroke-width="1"/>
<line x1="100.9" y1="370.4" x2="100.9" y2="368.59999999999997" stroke="#555" stroke-width="1"/>
<line x1="123.4" y1="370.4" x2="123.4" y2="368.59999999999997" stroke="#555" stroke-width="1"/>
<line x1="146" y1="370.4" x2="146" y2="368.59999999999997" stroke="#555" stroke-width="1"/>
<line x1="168.6" y1="370.4" x2="168.6" y2="368.59999999999997" stroke="#555" stroke-width="1"/>
<line x1="191.1" y1="370.4" x2="191.1" y2="368.59999999999997" stroke="#555" stroke-width="1"/>
<line x1="213.7" y1="370.4" x2="213.7" y2="368.59999999999997" stroke="#555" stroke-width="1"/>
<line x1="236.2" y1="370.4" x2="236.2" y2="368.59999999999997" stroke="#555" stroke-width="1"/>
<line x1="44.5" y1="364.6" x2="46.3" y2="364.6" stroke="#555" stroke-width="1"/>
<line x1="44.5" y1="347.1" x2="47.5" y2="347.1" stroke="#555" stroke-width="1"/>
<text x="40.3" y="350.2" style="font-family:'Liberation Sans',sans-serif;font-size:9px;font-weight:normal" text-anchor="end" fill="#141414" stroke="#141414" stroke-width="0.25" >90</text>
<line x1="44.5" y1="329.7" x2="46.3" y2="329.7" stroke="#555" stroke-width="1"/>
<line x1="44.5" y1="312.3" x2="47.5" y2="312.3" stroke="#555" stroke-width="1"/>
<text x="40.3" y="315.4" style="font-family:'Liberation Sans',sans-serif;font-size:9px;font-weight:normal" text-anchor="end" fill="#141414" stroke="#141414" stroke-width="0.25" >120</text>
<line x1="44.5" y1="294.8" x2="46.3" y2="294.8" stroke="#555" stroke-width="1"/>
<line x1="44.5" y1="277.4" x2="47.5" y2="277.4" stroke="#555" stroke-width="1"/>
<text x="40.3" y="280.5" style="font-family:'Liberation Sans',sans-serif;font-size:9px;font-weight:normal" text-anchor="end" fill="#141414" stroke="#141414" stroke-width="0.25" >150</text>
<line x1="44.5" y1="259.9" x2="46.3" y2="259.9" stroke="#555" stroke-width="1"/>
<line x1="44.5" y1="242.5" x2="47.5" y2="242.5" stroke="#555" stroke-width="1"/>
<text x="40.3" y="245.6" style="font-family:'Liberation Sans',sans-serif;font-size:9px;font-weight:normal" text-anchor="end" fill="#141414" stroke="#141414" stroke-width="0.25" >180</text>
<line x1="44.5" y1="225" x2="46.3" y2="225" stroke="#555" stroke-width="1"/>
<text x="40.3" y="210.7" style="font-family:'Liberation Sans',sans-serif;font-size:9px;font-weight:normal" text-anchor="end" fill="#141414" stroke="#141414" stroke-width="0.25" >210</text>
<line x1="247.5" y1="370.4" x2="245.7" y2="370.4" stroke="#555" stroke-width="1"/>
<line x1="247.5" y1="352.3" x2="244.5" y2="352.3" stroke="#555" stroke-width="1"/>
<text x="252" y="355.4" style="font-family:'Liberation Sans',sans-serif;font-size:9px;font-weight:normal" text-anchor="start" fill="#141414" stroke="#141414" stroke-width="0.25" >0.4</text>
<line x1="247.5" y1="334.2" x2="245.7" y2="334.2" stroke="#555" stroke-width="1"/>
<line x1="247.5" y1="316.1" x2="244.5" y2="316.1" stroke="#555" stroke-width="1"/>
<text x="252" y="319.2" style="font-family:'Liberation Sans',sans-serif;font-size:9px;font-weight:normal" text-anchor="start" fill="#141414" stroke="#141414" stroke-width="0.25" >0.6</text>
<line x1="247.5" y1="298" x2="245.7" y2="298" stroke="#555" stroke-width="1"/>
<line x1="247.5" y1="280" x2="244.5" y2="280" stroke="#555" stroke-width="1"/>
<text x="252" y="283.1" style="font-family:'Liberation Sans',sans-serif;font-size:9px;font-weight:normal" text-anchor="start" fill="#141414" stroke="#141414" stroke-width="0.25" >0.8</text>
<line x1="247.5" y1="261.9" x2="245.7" y2="261.9" stroke="#555" stroke-width="1"/>
<line x1="247.5" y1="243.8" x2="244.5" y2="243.8" stroke="#555" stroke-width="1"/>
<text x="252" y="246.9" style="font-family:'Liberation Sans',sans-serif;font-size:9px;font-weight:normal" text-anchor="start" fill="#141414" stroke="#141414" stroke-width="0.25" >1.0</text>
<line x1="247.5" y1="225.7" x2="245.7" y2="225.7" stroke="#555" stroke-width="1"/>
<line x1="247.5" y1="207.6" x2="244.5" y2="207.6" stroke="#555" stroke-width="1"/>
<text x="252" y="210.7" style="font-family:'Liberation Sans',sans-serif;font-size:9px;font-weight:normal" text-anchor="start" fill="#141414" stroke="#141414" stroke-width="0.25" >1.2</text>
<path d="M67.1,229.7 L89.6,257.6 L112.2,315.7 L134.7,344.8 L157.3,353 L179.8,354.1 L202.4,356.4 L224.9,354.1" fill="none" stroke="#555" stroke-width="1"/>
<path d="M67.1,356.5 L89.6,327 L112.2,294.8 L134.7,244.9 L157.3,232.9 L179.8,229.7 L202.4,226.6 L224.9,228.8" fill="none" stroke="#f33" stroke-width="1"/>
<defs><radialGradient id="gk" cx="0.38" cy="0.35" r="0.65"><stop offset="0" stop-color="#eee"/><stop offset="0.35" stop-color="#888"/><stop offset="1" stop-color="#444"/></radialGradient><radialGradient id="gr" cx="0.38" cy="0.35" r="0.65"><stop offset="0" stop-color="#fee"/><stop offset="0.35" stop-color="#f44"/><stop offset="1" stop-color="#e01010"/></radialGradient></defs>
<circle cx="67.1" cy="229.7" r="2.2" fill="url(#gk)" stroke="#3a3a3a" stroke-width="0.7"/>
<circle cx="89.6" cy="257.6" r="2.2" fill="url(#gk)" stroke="#3a3a3a" stroke-width="0.7"/>
<circle cx="112.2" cy="315.7" r="2.2" fill="url(#gk)" stroke="#3a3a3a" stroke-width="0.7"/>
<circle cx="134.7" cy="344.8" r="2.2" fill="url(#gk)" stroke="#3a3a3a" stroke-width="0.7"/>
<circle cx="157.3" cy="353" r="2.2" fill="url(#gk)" stroke="#3a3a3a" stroke-width="0.7"/>
<circle cx="179.8" cy="354.1" r="2.2" fill="url(#gk)" stroke="#3a3a3a" stroke-width="0.7"/>
<circle cx="202.4" cy="356.4" r="2.2" fill="url(#gk)" stroke="#3a3a3a" stroke-width="0.7"/>
<circle cx="224.9" cy="354.1" r="2.2" fill="url(#gk)" stroke="#3a3a3a" stroke-width="0.7"/>
<circle cx="67.1" cy="356.5" r="2.2" fill="url(#gr)" stroke="#f01818" stroke-width="0.7"/>
<circle cx="89.6" cy="327" r="2.2" fill="url(#gr)" stroke="#f01818" stroke-width="0.7"/>
<circle cx="112.2" cy="294.8" r="2.2" fill="url(#gr)" stroke="#f01818" stroke-width="0.7"/>
<circle cx="134.7" cy="244.9" r="2.2" fill="url(#gr)" stroke="#f01818" stroke-width="0.7"/>
<circle cx="157.3" cy="232.9" r="2.2" fill="url(#gr)" stroke="#f01818" stroke-width="0.7"/>
<circle cx="179.8" cy="229.7" r="2.2" fill="url(#gr)" stroke="#f01818" stroke-width="0.7"/>
<circle cx="202.4" cy="226.6" r="2.2" fill="url(#gr)" stroke="#f01818" stroke-width="0.7"/>
<circle cx="224.9" cy="228.8" r="2.2" fill="url(#gr)" stroke="#f01818" stroke-width="0.7"/>
<line x1="67.1" y1="225.7" x2="67.1" y2="233.7" stroke="#888" stroke-width="0.6"/>
<line x1="133" y1="274.6" x2="155" y2="274.6" stroke="#555" stroke-width="1"/>
<circle cx="144" cy="274.6" r="1.9" fill="url(#gk)" stroke="#444" stroke-width="0.7"/>
<line x1="133" y1="287" x2="155" y2="287" stroke="#f33" stroke-width="1"/>
<circle cx="144" cy="287" r="1.9" fill="url(#gr)" stroke="#e22" stroke-width="0.7"/>
<text x="158" y="278.6" style="font-family:'Liberation Serif',serif;font-size:10px;font-weight:normal" text-anchor="start" fill="#222" stroke="#222" stroke-width="0.25" >Crystalline size</text>
<text x="158" y="291" style="font-family:'Liberation Serif',serif;font-size:10px;font-weight:normal" text-anchor="start" fill="#222" stroke="#222" stroke-width="0.25" >Lattice strain</text>
<text x="20.8" y="285.5" style="font-family:'Liberation Serif',serif;font-size:9.9px;font-weight:bold" text-anchor="middle" fill="#111" stroke="#111" stroke-width="0.08" transform="rotate(-90 20.8 285.5)" >Crystalline size (nm)</text>
<text x="278" y="288.1" style="font-family:'Liberation Serif',serif;font-size:10.6px;font-weight:bold" text-anchor="middle" fill="#111" stroke="#111" stroke-width="0.08" transform="rotate(-90 278 288.1)" >Lattice strain (%)</text>
<text x="146" y="398.7" style="font-family:'Liberation Serif',serif;font-size:10.7px;font-weight:bold" text-anchor="middle" fill="#111" stroke="#111" stroke-width="0.08" >Milling time (h)</text>
<text x="3" y="219.8" style="font-family:'Liberation Serif',serif;font-size:15.6px;font-weight:normal" text-anchor="start" fill="#111" stroke="#111" stroke-width="0.25" >(c)</text>
<rect x="336.4" y="207.3" width="203.2" height="163.4" fill="none" stroke="#666" stroke-width="1.2"/>
<line x1="336.4" y1="370.7" x2="336.4" y2="367.7" stroke="#555" stroke-width="1"/>
<text x="336.4" y="382.2" style="font-family:'Liberation Sans',sans-serif;font-size:9.6px;font-weight:normal" text-anchor="middle" fill="#141414" stroke="#141414" stroke-width="0.25" >0</text>
<line x1="359" y1="370.7" x2="359" y2="367.7" stroke="#555" stroke-width="1"/>
<text x="359" y="382.2" style="font-family:'Liberation Sans',sans-serif;font-size:9.6px;font-weight:normal" text-anchor="middle" fill="#141414" stroke="#141414" stroke-width="0.25" >5</text>
<line x1="381.6" y1="370.7" x2="381.6" y2="367.7" stroke="#555" stroke-width="1"/>
<text x="381.6" y="382.2" style="font-family:'Liberation Sans',sans-serif;font-size:9.6px;font-weight:normal" text-anchor="middle" fill="#141414" stroke="#141414" stroke-width="0.25" >10</text>
<line x1="404.1" y1="370.7" x2="404.1" y2="367.7" stroke="#555" stroke-width="1"/>
<text x="404.1" y="382.2" style="font-family:'Liberation Sans',sans-serif;font-size:9.6px;font-weight:normal" text-anchor="middle" fill="#141414" stroke="#141414" stroke-width="0.25" >15</text>
<line x1="426.7" y1="370.7" x2="426.7" y2="367.7" stroke="#555" stroke-width="1"/>
<text x="426.7" y="382.2" style="font-family:'Liberation Sans',sans-serif;font-size:9.6px;font-weight:normal" text-anchor="middle" fill="#141414" stroke="#141414" stroke-width="0.25" >20</text>
<line x1="449.3" y1="370.7" x2="449.3" y2="367.7" stroke="#555" stroke-width="1"/>
<text x="449.3" y="382.2" style="font-family:'Liberation Sans',sans-serif;font-size:9.6px;font-weight:normal" text-anchor="middle" fill="#141414" stroke="#141414" stroke-width="0.25" >25</text>
<line x1="471.9" y1="370.7" x2="471.9" y2="367.7" stroke="#555" stroke-width="1"/>
<text x="471.9" y="382.2" style="font-family:'Liberation Sans',sans-serif;font-size:9.6px;font-weight:normal" text-anchor="middle" fill="#141414" stroke="#141414" stroke-width="0.25" >30</text>
<line x1="494.4" y1="370.7" x2="494.4" y2="367.7" stroke="#555" stroke-width="1"/>
<text x="494.4" y="382.2" style="font-family:'Liberation Sans',sans-serif;font-size:9.6px;font-weight:normal" text-anchor="middle" fill="#141414" stroke="#141414" stroke-width="0.25" >35</text>
<line x1="517" y1="370.7" x2="517" y2="367.7" stroke="#555" stroke-width="1"/>
<text x="517" y="382.2" style="font-family:'Liberation Sans',sans-serif;font-size:9.6px;font-weight:normal" text-anchor="middle" fill="#141414" stroke="#141414" stroke-width="0.25" >40</text>
<line x1="539.6" y1="370.7" x2="539.6" y2="367.7" stroke="#555" stroke-width="1"/>
<text x="539.6" y="382.2" style="font-family:'Liberation Sans',sans-serif;font-size:9.6px;font-weight:normal" text-anchor="middle" fill="#141414" stroke="#141414" stroke-width="0.25" >45</text>
<line x1="347.7" y1="370.7" x2="347.7" y2="368.9" stroke="#555" stroke-width="1"/>
<line x1="370.3" y1="370.7" x2="370.3" y2="368.9" stroke="#555" stroke-width="1"/>
<line x1="392.8" y1="370.7" x2="392.8" y2="368.9" stroke="#555" stroke-width="1"/>
<line x1="415.4" y1="370.7" x2="415.4" y2="368.9" stroke="#555" stroke-width="1"/>
<line x1="438" y1="370.7" x2="438" y2="368.9" stroke="#555" stroke-width="1"/>
<line x1="460.6" y1="370.7" x2="460.6" y2="368.9" stroke="#555" stroke-width="1"/>
<line x1="483.2" y1="370.7" x2="483.2" y2="368.9" stroke="#555" stroke-width="1"/>
<line x1="505.7" y1="370.7" x2="505.7" y2="368.9" stroke="#555" stroke-width="1"/>
<line x1="528.3" y1="370.7" x2="528.3" y2="368.9" stroke="#555" stroke-width="1"/>
<line x1="336.4" y1="370.7" x2="338.2" y2="370.7" stroke="#555" stroke-width="1"/>
<line x1="336.4" y1="362.1" x2="339.4" y2="362.1" stroke="#555" stroke-width="1"/>
<text x="333" y="365.2" style="font-family:'Liberation Sans',sans-serif;font-size:9px;font-weight:normal" text-anchor="end" fill="#141414" stroke="#141414" stroke-width="0.25" >2</text>
<line x1="336.4" y1="353.5" x2="338.2" y2="353.5" stroke="#555" stroke-width="1"/>
<line x1="336.4" y1="344.9" x2="339.4" y2="344.9" stroke="#555" stroke-width="1"/>
<text x="333" y="348" style="font-family:'Liberation Sans',sans-serif;font-size:9px;font-weight:normal" text-anchor="end" fill="#141414" stroke="#141414" stroke-width="0.25" >4</text>
<line x1="336.4" y1="336.3" x2="338.2" y2="336.3" stroke="#555" stroke-width="1"/>
<line x1="336.4" y1="327.7" x2="339.4" y2="327.7" stroke="#555" stroke-width="1"/>
<text x="333" y="330.8" style="font-family:'Liberation Sans',sans-serif;font-size:9px;font-weight:normal" text-anchor="end" fill="#141414" stroke="#141414" stroke-width="0.25" >6</text>
<line x1="336.4" y1="319.1" x2="338.2" y2="319.1" stroke="#555" stroke-width="1"/>
<line x1="336.4" y1="310.5" x2="339.4" y2="310.5" stroke="#555" stroke-width="1"/>
<text x="333" y="313.6" style="font-family:'Liberation Sans',sans-serif;font-size:9px;font-weight:normal" text-anchor="end" fill="#141414" stroke="#141414" stroke-width="0.25" >8</text>
<line x1="336.4" y1="301.9" x2="338.2" y2="301.9" stroke="#555" stroke-width="1"/>
<line x1="336.4" y1="293.3" x2="339.4" y2="293.3" stroke="#555" stroke-width="1"/>
<text x="333" y="296.4" style="font-family:'Liberation Sans',sans-serif;font-size:9px;font-weight:normal" text-anchor="end" fill="#141414" stroke="#141414" stroke-width="0.25" >10</text>
<line x1="336.4" y1="284.7" x2="338.2" y2="284.7" stroke="#555" stroke-width="1"/>
<line x1="336.4" y1="276.1" x2="339.4" y2="276.1" stroke="#555" stroke-width="1"/>
<text x="333" y="279.2" style="font-family:'Liberation Sans',sans-serif;font-size:9px;font-weight:normal" text-anchor="end" fill="#141414" stroke="#141414" stroke-width="0.25" >12</text>
<line x1="336.4" y1="267.5" x2="338.2" y2="267.5" stroke="#555" stroke-width="1"/>
<line x1="336.4" y1="258.9" x2="339.4" y2="258.9" stroke="#555" stroke-width="1"/>
<text x="333" y="262" style="font-family:'Liberation Sans',sans-serif;font-size:9px;font-weight:normal" text-anchor="end" fill="#141414" stroke="#141414" stroke-width="0.25" >14</text>
<line x1="336.4" y1="250.3" x2="338.2" y2="250.3" stroke="#555" stroke-width="1"/>
<line x1="336.4" y1="241.7" x2="339.4" y2="241.7" stroke="#555" stroke-width="1"/>
<text x="333" y="244.8" style="font-family:'Liberation Sans',sans-serif;font-size:9px;font-weight:normal" text-anchor="end" fill="#141414" stroke="#141414" stroke-width="0.25" >16</text>
<line x1="336.4" y1="233.1" x2="338.2" y2="233.1" stroke="#555" stroke-width="1"/>
<line x1="336.4" y1="224.5" x2="339.4" y2="224.5" stroke="#555" stroke-width="1"/>
<text x="333" y="227.6" style="font-family:'Liberation Sans',sans-serif;font-size:9px;font-weight:normal" text-anchor="end" fill="#141414" stroke="#141414" stroke-width="0.25" >18</text>
<line x1="336.4" y1="215.9" x2="338.2" y2="215.9" stroke="#555" stroke-width="1"/>
<line x1="336.4" y1="207.3" x2="339.4" y2="207.3" stroke="#555" stroke-width="1"/>
<text x="333" y="210.4" style="font-family:'Liberation Sans',sans-serif;font-size:9px;font-weight:normal" text-anchor="end" fill="#141414" stroke="#141414" stroke-width="0.25" >20</text>
<path d="M359,355.4 L381.6,340.8 L404.1,305.5 L426.7,250.5 L449.3,230.7 L471.9,226.6 L494.4,219.8 L517,225.5" fill="none" stroke="#444" stroke-width="1"/>
<circle cx="359" cy="355.4" r="2.6" fill="#f02828" stroke="#f02828" stroke-width="0.5"/><circle cx="358.2" cy="354.6" r="0.9" fill="#fff" opacity="0.7"/>
<circle cx="381.6" cy="340.8" r="2.6" fill="#2a6cb0" stroke="#2a6cb0" stroke-width="0.5"/><circle cx="380.8" cy="340" r="0.9" fill="#fff" opacity="0.7"/>
<circle cx="404.1" cy="305.5" r="2.6" fill="#f5c21a" stroke="#f5c21a" stroke-width="0.5"/><circle cx="403.3" cy="304.7" r="0.9" fill="#fff" opacity="0.7"/>
<circle cx="426.7" cy="250.5" r="2.6" fill="#1fc27a" stroke="#1fc27a" stroke-width="0.5"/><circle cx="425.9" cy="249.7" r="0.9" fill="#fff" opacity="0.7"/>
<circle cx="449.3" cy="230.7" r="2.6" fill="#5a5aa8" stroke="#5a5aa8" stroke-width="0.5"/><circle cx="448.5" cy="229.9" r="0.9" fill="#fff" opacity="0.7"/>
<circle cx="471.9" cy="226.6" r="2.6" fill="#a0a0a0" stroke="#a0a0a0" stroke-width="0.5"/><circle cx="471.1" cy="225.8" r="0.9" fill="#fff" opacity="0.7"/>
<circle cx="494.4" cy="219.8" r="2.6" fill="#1aa3a8" stroke="#1aa3a8" stroke-width="0.5"/><circle cx="493.6" cy="219" r="0.9" fill="#fff" opacity="0.7"/>
<circle cx="517" cy="225.5" r="2.6" fill="#ee2e40" stroke="#ee2e40" stroke-width="0.5"/><circle cx="516.2" cy="224.7" r="0.9" fill="#fff" opacity="0.7"/>
<text x="287.8" y="220.2" style="font-family:'Liberation Serif',serif;font-size:15px;font-weight:normal" text-anchor="start" fill="#111" stroke="#111" stroke-width="0.25" >(d)</text>
<text x="438" y="398.9" style="font-family:'Liberation Serif',serif;font-size:10.8px;font-weight:bold" text-anchor="middle" fill="#111" stroke="#111" stroke-width="0.08" >Milling time (h)</text>
<text x="317.3" y="359.5" style="font-family:'Liberation Serif',serif;font-size:10.7px;font-weight:bold" text-anchor="start" fill="#111" stroke="#111" stroke-width="0.08" transform="rotate(-90 317.3 359.5)" >Dislocation density (×10<tspan font-size="8" dy="-4.6">14</tspan><tspan dy="4.6"> m</tspan><tspan font-size="8" dy="-4.6">−2</tspan><tspan dy="4.6">)</tspan></text>
</svg></body></html>
